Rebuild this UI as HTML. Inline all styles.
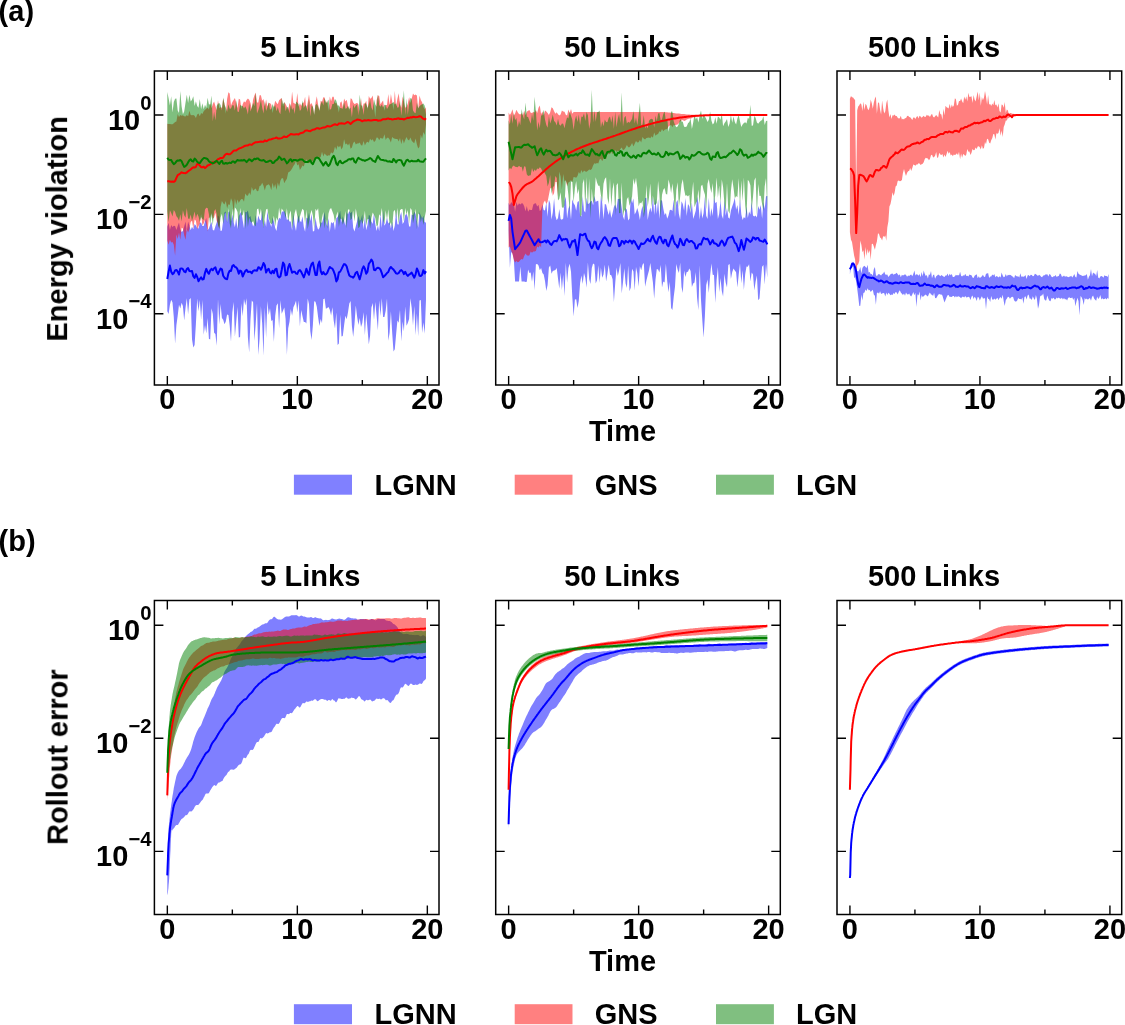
<!DOCTYPE html>
<html><head><meta charset="utf-8"><style>html,body{margin:0;padding:0;background:#fff;}svg{display:block;}</style></head><body>
<svg width="1125" height="1025" viewBox="0 0 1125 1025" font-family='"Liberation Sans", sans-serif' font-weight="bold" fill="#000">
<rect width="1125" height="1025" fill="#fff"/>
<defs><clipPath id="c00"><rect x="154.4" y="71.0" width="284.6" height="314.0"/></clipPath><clipPath id="c01"><rect x="495.7" y="71.0" width="284.6" height="314.0"/></clipPath><clipPath id="c02"><rect x="837.0" y="71.0" width="284.7" height="314.0"/></clipPath><clipPath id="c10"><rect x="154.4" y="600.5" width="284.6" height="314.0"/></clipPath><clipPath id="c11"><rect x="495.7" y="600.5" width="284.6" height="314.0"/></clipPath><clipPath id="c12"><rect x="837.0" y="600.5" width="284.7" height="314.0"/></clipPath></defs>
<g clip-path="url(#c00)"><polygon fill="#0000ff" fill-opacity="0.5" points="167.3,226.7 168.6,222.7 169.9,230.1 171.2,224.9 172.5,226.9 173.8,225.7 175.1,226.0 176.4,230.1 177.7,225.9 179.0,222.6 180.3,229.6 181.6,232.0 182.9,231.0 184.2,226.4 185.5,221.6 186.8,231.4 188.1,221.4 189.4,225.7 190.7,230.3 192.0,226.8 193.3,229.2 194.6,223.9 195.9,225.6 197.2,228.3 198.5,228.6 199.8,222.5 201.1,222.8 202.4,225.9 203.7,225.9 205.0,221.3 206.3,217.9 207.6,230.2 208.9,228.6 210.2,224.7 211.5,221.9 212.8,230.0 214.1,230.4 215.4,226.3 216.7,222.6 218.0,215.3 219.3,217.2 220.6,231.0 221.9,230.4 223.2,220.4 224.5,212.2 225.8,211.5 227.1,222.3 228.4,212.0 229.7,211.2 231.0,221.4 232.3,214.6 233.6,222.3 234.9,227.3 236.2,217.9 237.5,229.1 238.8,216.2 240.1,213.4 241.4,211.5 242.7,220.5 244.0,228.3 245.3,211.7 246.6,212.3 247.9,210.5 249.2,217.5 250.5,216.0 251.8,222.1 253.1,226.5 254.4,223.9 255.7,215.1 257.0,223.2 258.3,215.6 259.6,219.4 260.9,220.5 262.2,210.5 263.5,227.0 264.8,219.7 266.1,227.1 267.4,211.1 268.7,219.7 270.0,223.0 271.3,226.9 272.6,217.5 273.9,221.6 275.2,228.0 276.5,230.9 277.8,221.7 279.1,217.8 280.4,219.1 281.7,211.7 283.0,211.5 284.3,211.1 285.6,213.6 286.9,219.9 288.2,219.0 289.5,221.6 290.8,221.6 292.1,230.5 293.4,213.6 294.7,225.0 296.0,231.0 297.3,220.1 298.6,215.1 299.9,220.8 301.2,222.3 302.5,216.3 303.8,227.1 305.1,231.7 306.4,217.6 307.7,218.8 309.0,212.4 310.3,221.2 311.6,213.8 312.9,231.4 314.2,231.0 315.5,217.5 316.8,225.5 318.1,229.7 319.4,228.0 320.7,222.1 322.0,222.9 323.3,218.2 324.6,212.0 325.9,222.3 327.2,226.5 328.5,217.9 329.8,232.1 331.1,221.9 332.4,223.4 333.7,221.8 335.0,230.2 336.3,218.3 337.6,217.0 338.9,214.5 340.2,210.7 341.5,222.5 342.8,216.3 344.1,220.7 345.4,225.8 346.7,211.9 348.0,214.6 349.3,211.0 350.6,213.2 351.9,211.4 353.2,228.0 354.5,231.5 355.8,226.2 357.1,221.3 358.4,215.7 359.7,220.7 361.0,219.2 362.3,214.3 363.6,229.6 364.9,215.9 366.2,230.3 367.5,224.9 368.8,215.1 370.1,215.8 371.4,221.4 372.7,223.9 374.0,213.1 375.3,224.3 376.6,230.9 377.9,225.0 379.2,231.3 380.5,213.4 381.8,228.1 383.1,210.4 384.4,225.8 385.7,223.6 387.0,217.7 388.3,223.6 389.6,222.0 390.9,228.6 392.2,221.8 393.5,231.1 394.8,225.5 396.1,211.6 397.4,224.2 398.7,224.4 400.0,215.9 401.3,212.0 402.6,223.9 403.9,222.1 405.2,215.2 406.5,213.7 407.8,217.2 409.1,226.6 410.4,226.6 411.7,214.4 413.0,215.3 414.3,211.8 415.6,214.0 416.9,221.1 418.2,227.8 419.5,211.9 420.8,215.6 422.1,217.9 423.4,215.8 424.7,221.9 426.0,222.8 426.0,299.7 424.7,333.7 423.4,322.4 422.1,333.0 420.8,300.0 419.5,300.6 418.2,336.5 416.9,313.3 415.6,335.3 414.3,306.0 413.0,325.5 411.7,308.1 410.4,298.3 409.1,319.0 407.8,323.0 406.5,325.7 405.2,306.4 403.9,331.6 402.6,321.4 401.3,341.6 400.0,309.8 398.7,322.8 397.4,320.4 396.1,334.6 394.8,349.3 393.5,351.5 392.2,332.9 390.9,311.3 389.6,332.8 388.3,340.8 387.0,298.6 385.7,310.8 384.4,317.1 383.1,317.1 381.8,298.2 380.5,315.9 379.2,300.5 377.9,330.6 376.6,315.4 375.3,301.9 374.0,320.0 372.7,303.1 371.4,307.8 370.1,335.8 368.8,344.5 367.5,328.5 366.2,313.8 364.9,335.2 363.6,312.3 362.3,323.1 361.0,327.1 359.7,317.9 358.4,325.0 357.1,316.4 355.8,305.4 354.5,324.1 353.2,337.0 351.9,326.1 350.6,301.0 349.3,303.5 348.0,312.3 346.7,319.2 345.4,315.7 344.1,325.3 342.8,336.0 341.5,336.4 340.2,314.7 338.9,343.6 337.6,345.0 336.3,312.5 335.0,328.4 333.7,320.8 332.4,307.2 331.1,315.6 329.8,309.7 328.5,307.0 327.2,308.0 325.9,308.7 324.6,298.6 323.3,299.3 322.0,323.3 320.7,319.0 319.4,326.1 318.1,317.1 316.8,306.8 315.5,301.8 314.2,301.2 312.9,325.0 311.6,340.1 310.3,331.3 309.0,304.2 307.7,298.6 306.4,323.5 305.1,322.1 303.8,322.1 302.5,316.3 301.2,309.9 299.9,326.5 298.6,300.4 297.3,312.4 296.0,300.7 294.7,304.5 293.4,307.3 292.1,315.7 290.8,308.9 289.5,321.8 288.2,328.3 286.9,355.1 285.6,318.9 284.3,307.4 283.0,310.8 281.7,313.8 280.4,300.2 279.1,328.3 277.8,303.3 276.5,305.5 275.2,316.1 273.9,341.9 272.6,320.1 271.3,321.0 270.0,308.3 268.7,315.1 267.4,301.1 266.1,338.0 264.8,307.4 263.5,355.8 262.2,323.7 260.9,306.2 259.6,338.5 258.3,355.1 257.0,303.6 255.7,323.9 254.4,341.0 253.1,302.3 251.8,300.6 250.5,318.9 249.2,352.5 247.9,337.6 246.6,298.3 245.3,305.6 244.0,298.9 242.7,316.2 241.4,303.3 240.1,337.0 238.8,337.5 237.5,307.0 236.2,322.3 234.9,336.7 233.6,301.9 232.3,312.8 231.0,341.7 229.7,325.4 228.4,315.0 227.1,314.6 225.8,321.6 224.5,324.2 223.2,319.8 221.9,318.1 220.6,303.9 219.3,324.8 218.0,299.0 216.7,345.8 215.4,334.1 214.1,332.7 212.8,314.1 211.5,308.3 210.2,339.6 208.9,338.8 207.6,318.1 206.3,333.6 205.0,325.1 203.7,334.8 202.4,300.1 201.1,319.5 199.8,300.1 198.5,311.3 197.2,298.5 195.9,324.0 194.6,345.0 193.3,347.6 192.0,339.3 190.7,298.1 189.4,299.4 188.1,314.2 186.8,298.3 185.5,308.1 184.2,320.5 182.9,305.9 181.6,302.7 180.3,308.4 179.0,304.8 177.7,315.8 176.4,325.3 175.1,343.8 173.8,317.2 172.5,302.6 171.2,299.7 169.9,304.8 168.6,314.0 167.3,311.3"/><polygon fill="#ff0000" fill-opacity="0.5" points="167.3,123.8 168.6,124.0 169.9,123.9 171.2,124.2 172.5,124.2 173.8,123.3 175.1,121.9 176.4,121.4 177.7,113.9 179.0,117.1 180.3,115.1 181.6,115.8 182.9,115.3 184.2,116.3 185.5,116.4 186.8,114.9 188.1,116.2 189.4,110.8 190.7,115.0 192.0,115.3 193.3,115.1 194.6,115.8 195.9,117.9 197.2,114.5 198.5,113.6 199.8,116.3 201.1,113.1 202.4,114.0 203.7,111.3 205.0,109.8 206.3,108.7 207.6,107.5 208.9,109.6 210.2,103.8 211.5,108.3 212.8,104.0 214.1,101.6 215.4,106.0 216.7,110.2 218.0,100.2 219.3,108.2 220.6,107.0 221.9,108.1 223.2,98.4 224.5,103.4 225.8,113.8 227.1,98.9 228.4,92.3 229.7,93.6 231.0,105.4 232.3,102.2 233.6,100.0 234.9,98.1 236.2,102.4 237.5,108.0 238.8,98.8 240.1,99.5 241.4,109.1 242.7,104.3 244.0,101.2 245.3,102.5 246.6,99.9 247.9,98.5 249.2,99.8 250.5,103.1 251.8,109.2 253.1,99.4 254.4,95.5 255.7,92.6 257.0,102.6 258.3,102.6 259.6,95.3 260.9,95.3 262.2,100.7 263.5,98.9 264.8,106.2 266.1,99.5 267.4,106.5 268.7,103.1 270.0,103.0 271.3,104.7 272.6,112.9 273.9,106.5 275.2,100.7 276.5,102.7 277.8,104.3 279.1,100.2 280.4,98.9 281.7,98.1 283.0,106.4 284.3,102.2 285.6,104.0 286.9,106.7 288.2,109.8 289.5,102.8 290.8,106.7 292.1,91.6 293.4,102.8 294.7,103.4 296.0,104.3 297.3,93.0 298.6,107.0 299.9,103.1 301.2,106.1 302.5,102.9 303.8,102.4 305.1,96.8 306.4,109.3 307.7,102.3 309.0,94.2 310.3,104.8 311.6,103.1 312.9,106.6 314.2,115.2 315.5,102.7 316.8,96.3 318.1,104.5 319.4,111.4 320.7,100.8 322.0,101.8 323.3,97.2 324.6,97.6 325.9,103.5 327.2,100.2 328.5,111.1 329.8,96.6 331.1,101.2 332.4,96.7 333.7,96.8 335.0,103.5 336.3,102.8 337.6,106.4 338.9,112.4 340.2,102.7 341.5,101.3 342.8,107.5 344.1,98.5 345.4,101.6 346.7,99.8 348.0,105.9 349.3,110.8 350.6,98.2 351.9,99.0 353.2,102.6 354.5,104.1 355.8,103.4 357.1,102.7 358.4,104.5 359.7,112.0 361.0,98.1 362.3,109.4 363.6,103.6 364.9,103.5 366.2,100.7 367.5,110.0 368.8,95.9 370.1,98.7 371.4,98.1 372.7,95.6 374.0,105.9 375.3,117.5 376.6,100.2 377.9,95.3 379.2,96.1 380.5,104.5 381.8,102.3 383.1,100.4 384.4,110.8 385.7,105.1 387.0,105.0 388.3,93.9 389.6,105.0 390.9,94.0 392.2,101.7 393.5,110.1 394.8,90.7 396.1,106.6 397.4,98.7 398.7,93.2 400.0,104.4 401.3,107.8 402.6,96.5 403.9,101.4 405.2,107.8 406.5,107.0 407.8,103.6 409.1,96.9 410.4,103.1 411.7,98.4 413.0,93.4 414.3,95.3 415.6,94.5 416.9,95.5 418.2,109.6 419.5,95.5 420.8,100.0 422.1,102.2 423.4,107.0 424.7,109.5 426.0,107.1 426.0,124.3 424.7,135.0 423.4,131.9 422.1,138.8 420.8,134.7 419.5,146.8 418.2,148.5 416.9,144.5 415.6,138.5 414.3,143.2 413.0,142.2 411.7,140.8 410.4,137.5 409.1,140.4 407.8,139.8 406.5,136.9 405.2,140.0 403.9,143.4 402.6,139.1 401.3,144.3 400.0,138.1 398.7,141.6 397.4,138.9 396.1,138.9 394.8,138.8 393.5,138.2 392.2,136.9 390.9,142.4 389.6,139.6 388.3,137.7 387.0,137.7 385.7,140.1 384.4,134.2 383.1,138.5 381.8,138.4 380.5,137.8 379.2,140.3 377.9,137.8 376.6,137.4 375.3,141.1 374.0,141.9 372.7,139.3 371.4,140.6 370.1,138.7 368.8,142.7 367.5,141.7 366.2,142.8 364.9,145.5 363.6,141.0 362.3,145.4 361.0,145.2 359.7,142.6 358.4,143.5 357.1,143.4 355.8,144.6 354.5,141.4 353.2,143.1 351.9,147.4 350.6,148.8 349.3,143.3 348.0,145.6 346.7,143.6 345.4,144.4 344.1,139.3 342.8,147.0 341.5,149.6 340.2,145.4 338.9,147.5 337.6,145.5 336.3,149.9 335.0,146.5 333.7,152.0 332.4,153.4 331.1,152.3 329.8,155.6 328.5,155.3 327.2,156.1 325.9,155.1 324.6,153.5 323.3,156.5 322.0,151.7 320.7,157.1 319.4,158.0 318.1,156.3 316.8,158.1 315.5,158.8 314.2,158.8 312.9,162.1 311.6,160.4 310.3,162.7 309.0,163.0 307.7,163.2 306.4,159.2 305.1,162.0 303.8,166.6 302.5,165.6 301.2,167.9 299.9,169.9 298.6,164.2 297.3,165.4 296.0,160.7 294.7,164.2 293.4,166.1 292.1,168.5 290.8,170.6 289.5,171.7 288.2,172.4 286.9,178.7 285.6,180.8 284.3,183.3 283.0,178.2 281.7,178.3 280.4,180.7 279.1,186.7 277.8,182.5 276.5,189.9 275.2,183.9 273.9,188.2 272.6,182.8 271.3,190.3 270.0,185.9 268.7,184.2 267.4,185.0 266.1,185.8 264.8,190.4 263.5,185.7 262.2,182.8 260.9,185.6 259.6,185.9 258.3,191.0 257.0,191.2 255.7,188.5 254.4,189.4 253.1,190.8 251.8,186.9 250.5,195.1 249.2,192.5 247.9,195.7 246.6,195.5 245.3,193.6 244.0,201.7 242.7,199.3 241.4,199.1 240.1,200.5 238.8,203.0 237.5,199.6 236.2,204.9 234.9,198.4 233.6,212.0 232.3,201.5 231.0,198.3 229.7,204.9 228.4,204.2 227.1,208.6 225.8,201.1 224.5,204.4 223.2,203.2 221.9,201.1 220.6,206.9 219.3,228.7 218.0,223.3 216.7,220.7 215.4,212.8 214.1,217.6 212.8,218.8 211.5,213.0 210.2,217.5 208.9,217.7 207.6,231.6 206.3,224.2 205.0,219.8 203.7,223.6 202.4,225.6 201.1,214.0 199.8,223.8 198.5,226.2 197.2,229.4 195.9,220.7 194.6,219.5 193.3,228.7 192.0,220.7 190.7,222.0 189.4,229.1 188.1,232.4 186.8,229.2 185.5,239.8 184.2,235.2 182.9,228.6 181.6,227.7 180.3,239.7 179.0,232.8 177.7,238.9 176.4,234.4 175.1,255.7 173.8,244.8 172.5,241.9 171.2,242.5 169.9,239.7 168.6,244.8 167.3,240.4"/><polygon fill="#008000" fill-opacity="0.5" points="167.3,92.1 168.6,98.2 169.9,105.4 171.2,96.3 172.5,112.4 173.8,102.1 175.1,98.8 176.4,98.6 177.7,110.6 179.0,113.0 180.3,91.1 181.6,106.3 182.9,114.2 184.2,111.4 185.5,102.8 186.8,94.7 188.1,103.0 189.4,94.7 190.7,101.5 192.0,99.8 193.3,96.3 194.6,105.9 195.9,101.2 197.2,106.0 198.5,107.8 199.8,98.9 201.1,109.2 202.4,103.3 203.7,109.2 205.0,104.8 206.3,107.7 207.6,97.8 208.9,104.3 210.2,104.5 211.5,95.6 212.8,121.6 214.1,111.6 215.4,120.4 216.7,105.9 218.0,103.8 219.3,103.1 220.6,104.9 221.9,110.6 223.2,97.6 224.5,104.8 225.8,107.6 227.1,111.9 228.4,104.3 229.7,108.8 231.0,108.6 232.3,105.3 233.6,105.3 234.9,110.5 236.2,100.2 237.5,111.4 238.8,111.9 240.1,104.9 241.4,105.8 242.7,106.1 244.0,108.5 245.3,106.2 246.6,109.2 247.9,114.6 249.2,102.8 250.5,111.5 251.8,107.6 253.1,102.8 254.4,106.3 255.7,92.8 257.0,113.4 258.3,110.2 259.6,106.0 260.9,99.7 262.2,107.7 263.5,113.6 264.8,100.8 266.1,111.1 267.4,107.5 268.7,102.1 270.0,109.8 271.3,108.7 272.6,104.1 273.9,107.5 275.2,105.1 276.5,111.2 277.8,107.1 279.1,111.9 280.4,114.2 281.7,97.8 283.0,104.3 284.3,102.0 285.6,111.3 286.9,106.7 288.2,107.5 289.5,113.6 290.8,103.8 292.1,110.1 293.4,107.5 294.7,114.1 296.0,101.6 297.3,102.8 298.6,104.6 299.9,111.0 301.2,109.2 302.5,100.5 303.8,107.9 305.1,105.2 306.4,105.8 307.7,112.1 309.0,99.0 310.3,116.4 311.6,105.4 312.9,107.0 314.2,114.6 315.5,104.9 316.8,103.9 318.1,106.3 319.4,110.6 320.7,104.3 322.0,101.0 323.3,105.4 324.6,98.0 325.9,102.3 327.2,102.7 328.5,99.6 329.8,109.8 331.1,109.1 332.4,104.0 333.7,103.9 335.0,99.0 336.3,100.8 337.6,105.6 338.9,105.4 340.2,107.9 341.5,108.3 342.8,108.7 344.1,102.0 345.4,108.8 346.7,108.3 348.0,105.7 349.3,109.0 350.6,107.6 351.9,117.3 353.2,104.6 354.5,108.0 355.8,105.5 357.1,104.6 358.4,115.6 359.7,94.4 361.0,105.5 362.3,105.4 363.6,115.1 364.9,103.1 366.2,104.1 367.5,107.9 368.8,104.8 370.1,99.6 371.4,107.6 372.7,110.4 374.0,99.3 375.3,104.6 376.6,106.7 377.9,94.4 379.2,105.0 380.5,106.7 381.8,104.5 383.1,107.8 384.4,104.8 385.7,105.1 387.0,109.1 388.3,107.1 389.6,104.3 390.9,104.0 392.2,103.0 393.5,102.0 394.8,104.6 396.1,103.3 397.4,107.8 398.7,107.2 400.0,100.8 401.3,115.7 402.6,104.1 403.9,90.2 405.2,115.2 406.5,98.5 407.8,114.7 409.1,104.2 410.4,98.0 411.7,98.7 413.0,110.6 414.3,112.6 415.6,113.3 416.9,102.6 418.2,108.2 419.5,106.2 420.8,105.0 422.1,104.2 423.4,103.6 424.7,105.7 426.0,114.3 426.0,211.0 424.7,217.4 423.4,225.0 422.1,216.3 420.8,222.6 419.5,214.7 418.2,213.6 416.9,229.5 415.6,208.8 414.3,216.9 413.0,223.4 411.7,210.1 410.4,207.9 409.1,223.6 407.8,209.9 406.5,214.7 405.2,207.9 403.9,221.6 402.6,209.3 401.3,209.1 400.0,210.3 398.7,224.7 397.4,208.0 396.1,218.2 394.8,209.7 393.5,211.8 392.2,227.9 390.9,222.3 389.6,225.2 388.3,209.2 387.0,219.9 385.7,210.2 384.4,224.2 383.1,219.9 381.8,207.9 380.5,216.3 379.2,214.2 377.9,225.3 376.6,226.2 375.3,217.9 374.0,214.7 372.7,212.6 371.4,217.9 370.1,228.5 368.8,218.8 367.5,219.2 366.2,225.8 364.9,210.8 363.6,220.6 362.3,224.0 361.0,219.0 359.7,226.8 358.4,228.3 357.1,215.9 355.8,208.6 354.5,221.6 353.2,210.7 351.9,218.5 350.6,220.2 349.3,209.5 348.0,209.5 346.7,228.4 345.4,211.0 344.1,220.8 342.8,224.7 341.5,219.0 340.2,218.4 338.9,227.0 337.6,211.5 336.3,215.8 335.0,223.2 333.7,215.0 332.4,211.5 331.1,208.1 329.8,209.3 328.5,213.6 327.2,228.7 325.9,218.6 324.6,228.8 323.3,212.1 322.0,217.9 320.7,228.4 319.4,222.1 318.1,208.2 316.8,211.0 315.5,208.8 314.2,228.4 312.9,215.7 311.6,210.0 310.3,214.3 309.0,222.3 307.7,229.3 306.4,209.5 305.1,223.9 303.8,210.6 302.5,208.8 301.2,212.3 299.9,216.8 298.6,223.4 297.3,216.3 296.0,208.9 294.7,212.9 293.4,220.5 292.1,228.5 290.8,210.5 289.5,214.1 288.2,221.8 286.9,208.2 285.6,218.3 284.3,212.1 283.0,210.4 281.7,208.4 280.4,216.3 279.1,207.5 277.8,221.1 276.5,217.5 275.2,226.3 273.9,215.7 272.6,223.0 271.3,224.3 270.0,222.6 268.7,217.3 267.4,208.8 266.1,209.6 264.8,216.9 263.5,228.1 262.2,218.7 260.9,208.7 259.6,215.4 258.3,208.4 257.0,209.2 255.7,226.4 254.4,224.4 253.1,220.9 251.8,222.7 250.5,221.8 249.2,217.6 247.9,227.0 246.6,210.9 245.3,229.2 244.0,209.8 242.7,215.2 241.4,215.5 240.1,207.9 238.8,229.8 237.5,212.0 236.2,208.9 234.9,207.6 233.6,223.7 232.3,208.6 231.0,228.5 229.7,223.5 228.4,208.3 227.1,223.0 225.8,212.2 224.5,214.8 223.2,223.8 221.9,213.8 220.6,217.4 219.3,228.9 218.0,225.0 216.7,214.1 215.4,209.1 214.1,211.6 212.8,225.4 211.5,214.2 210.2,225.5 208.9,214.2 207.6,208.1 206.3,207.7 205.0,209.5 203.7,220.0 202.4,218.9 201.1,217.1 199.8,222.1 198.5,216.5 197.2,213.8 195.9,218.7 194.6,211.5 193.3,216.8 192.0,220.9 190.7,214.5 189.4,218.9 188.1,218.4 186.8,208.0 185.5,217.8 184.2,215.3 182.9,210.3 181.6,221.6 180.3,214.3 179.0,220.8 177.7,217.7 176.4,216.2 175.1,212.1 173.8,210.0 172.5,216.5 171.2,213.1 169.9,210.2 168.6,222.3 167.3,211.2"/><polyline fill="none" stroke="#0000ff" stroke-width="2" stroke-linejoin="round" points="167.3,279.0 168.6,271.6 169.9,265.6 171.2,271.7 172.5,274.1 173.8,273.1 175.1,270.4 176.4,269.9 177.7,271.7 179.0,274.5 180.3,268.8 181.6,268.4 182.9,269.2 184.2,271.5 185.5,272.2 186.8,269.1 188.1,268.1 189.4,271.0 190.7,271.3 192.0,271.0 193.3,276.2 194.6,278.0 195.9,274.3 197.2,277.0 198.5,281.2 199.8,279.0 201.1,277.3 202.4,279.5 203.7,279.0 205.0,272.7 206.3,268.9 207.6,272.1 208.9,273.8 210.2,270.3 211.5,268.8 212.8,270.3 214.1,268.2 215.4,267.3 216.7,271.8 218.0,274.1 219.3,271.1 220.6,268.5 221.9,269.3 223.2,275.7 224.5,277.7 225.8,278.9 227.1,279.2 228.4,273.4 229.7,270.7 231.0,270.9 232.3,266.1 233.6,265.1 234.9,266.8 236.2,267.4 237.5,269.4 238.8,273.7 240.1,270.6 241.4,271.4 242.7,276.5 244.0,273.5 245.3,270.9 246.6,269.8 247.9,271.9 249.2,271.8 250.5,271.8 251.8,273.2 253.1,270.9 254.4,270.3 255.7,270.5 257.0,270.7 258.3,267.3 259.6,267.7 260.9,269.7 262.2,267.0 263.5,263.0 264.8,265.2 266.1,272.6 267.4,269.9 268.7,268.9 270.0,272.5 271.3,273.4 272.6,270.7 273.9,273.1 275.2,269.4 276.5,268.7 277.8,275.9 279.1,277.4 280.4,276.5 281.7,270.0 283.0,262.6 284.3,264.5 285.6,275.3 286.9,274.9 288.2,267.4 289.5,264.0 290.8,268.4 292.1,272.8 293.4,271.7 294.7,271.7 296.0,273.5 297.3,273.9 298.6,270.9 299.9,270.1 301.2,271.9 302.5,274.7 303.8,277.4 305.1,273.6 306.4,268.7 307.7,272.5 309.0,274.7 310.3,267.8 311.6,264.0 312.9,262.6 314.2,268.7 315.5,275.1 316.8,275.0 318.1,264.9 319.4,261.5 320.7,271.0 322.0,274.1 323.3,272.0 324.6,274.3 325.9,274.4 327.2,272.9 328.5,269.6 329.8,267.0 331.1,268.1 332.4,268.6 333.7,271.3 335.0,274.8 336.3,281.4 337.6,279.3 338.9,272.3 340.2,271.6 341.5,269.1 342.8,266.3 344.1,264.1 345.4,264.5 346.7,266.5 348.0,271.4 349.3,275.5 350.6,276.5 351.9,276.7 353.2,277.7 354.5,275.7 355.8,272.7 357.1,271.8 358.4,275.7 359.7,279.3 361.0,274.6 362.3,269.2 363.6,266.3 364.9,268.7 366.2,273.7 367.5,271.7 368.8,263.8 370.1,262.0 371.4,259.6 372.7,261.7 374.0,269.9 375.3,270.3 376.6,268.3 377.9,267.7 379.2,268.1 380.5,269.7 381.8,273.1 383.1,277.2 384.4,276.0 385.7,274.7 387.0,273.1 388.3,272.0 389.6,268.6 390.9,267.0 392.2,268.4 393.5,269.6 394.8,271.4 396.1,273.4 397.4,273.7 398.7,273.1 400.0,270.9 401.3,270.1 402.6,271.4 403.9,274.1 405.2,271.8 406.5,274.4 407.8,275.9 409.1,274.6 410.4,273.7 411.7,272.6 413.0,275.2 414.3,277.7 415.6,274.4 416.9,268.4 418.2,271.3 419.5,275.8 420.8,275.9 422.1,274.7 423.4,270.1 424.7,273.5 426.0,271.2"/><polyline fill="none" stroke="#ff0000" stroke-width="2" stroke-linejoin="round" points="167.3,181.3 168.6,181.3 169.9,181.5 171.2,181.8 172.5,181.5 173.8,181.9 175.1,181.0 176.4,177.9 177.7,175.2 179.0,174.4 180.3,173.5 181.6,172.3 182.9,172.9 184.2,173.1 185.5,173.2 186.8,172.5 188.1,171.3 189.4,170.4 190.7,169.5 192.0,168.1 193.3,167.3 194.6,167.5 195.9,166.8 197.2,163.9 198.5,164.0 199.8,165.6 201.1,167.2 202.4,167.3 203.7,166.8 205.0,168.0 206.3,166.9 207.6,165.5 208.9,165.0 210.2,164.3 211.5,163.5 212.8,162.2 214.1,162.8 215.4,162.5 216.7,160.6 218.0,159.1 219.3,158.7 220.6,158.0 221.9,158.1 223.2,157.6 224.5,155.5 225.8,154.1 227.1,153.8 228.4,154.3 229.7,154.3 231.0,153.5 232.3,152.1 233.6,150.8 234.9,150.4 236.2,150.5 237.5,149.5 238.8,148.7 240.1,148.1 241.4,147.7 242.7,147.1 244.0,146.3 245.3,145.8 246.6,145.6 247.9,145.4 249.2,144.6 250.5,144.6 251.8,144.9 253.1,143.6 254.4,142.9 255.7,142.2 257.0,142.3 258.3,142.1 259.6,141.7 260.9,141.6 262.2,141.8 263.5,141.8 264.8,140.4 266.1,141.2 267.4,140.7 268.7,139.8 270.0,139.5 271.3,139.2 272.6,138.7 273.9,138.4 275.2,138.1 276.5,137.4 277.8,138.6 279.1,138.5 280.4,138.4 281.7,138.1 283.0,137.2 284.3,136.5 285.6,137.1 286.9,136.9 288.2,135.8 289.5,135.0 290.8,134.1 292.1,134.2 293.4,134.6 294.7,134.6 296.0,134.2 297.3,134.2 298.6,134.4 299.9,133.5 301.2,133.0 302.5,132.8 303.8,132.1 305.1,130.8 306.4,130.6 307.7,130.6 309.0,131.1 310.3,131.2 311.6,130.4 312.9,129.7 314.2,129.6 315.5,129.0 316.8,128.2 318.1,128.2 319.4,128.7 320.7,128.4 322.0,127.9 323.3,127.5 324.6,127.6 325.9,126.9 327.2,126.1 328.5,126.2 329.8,126.5 331.1,126.1 332.4,125.3 333.7,124.7 335.0,124.3 336.3,124.8 337.6,124.9 338.9,123.5 340.2,123.4 341.5,123.3 342.8,123.4 344.1,123.8 345.4,123.4 346.7,122.5 348.0,122.0 349.3,122.8 350.6,124.0 351.9,122.8 353.2,121.5 354.5,120.8 355.8,120.4 357.1,119.6 358.4,119.7 359.7,119.9 361.0,120.5 362.3,121.3 363.6,120.5 364.9,120.3 366.2,120.6 367.5,120.2 368.8,120.1 370.1,120.5 371.4,120.4 372.7,120.2 374.0,120.0 375.3,120.0 376.6,119.9 377.9,120.7 379.2,120.5 380.5,120.6 381.8,119.9 383.1,119.2 384.4,119.2 385.7,119.2 387.0,118.8 388.3,118.4 389.6,119.1 390.9,118.9 392.2,119.6 393.5,119.3 394.8,118.9 396.1,119.0 397.4,118.5 398.7,118.3 400.0,119.0 401.3,118.8 402.6,119.0 403.9,119.5 405.2,118.9 406.5,118.4 407.8,117.7 409.1,117.9 410.4,117.3 411.7,117.5 413.0,116.8 414.3,117.0 415.6,117.2 416.9,117.0 418.2,116.7 419.5,116.3 420.8,116.4 422.1,117.7 423.4,118.9 424.7,119.4 426.0,118.3"/><polyline fill="none" stroke="#008000" stroke-width="2" stroke-linejoin="round" points="167.3,157.7 168.6,159.7 169.9,159.9 171.2,160.1 172.5,162.4 173.8,164.2 175.1,163.3 176.4,161.4 177.7,160.4 179.0,160.7 180.3,160.0 181.6,161.2 182.9,164.3 184.2,166.9 185.5,166.1 186.8,164.7 188.1,162.4 189.4,160.3 190.7,159.3 192.0,161.1 193.3,161.5 194.6,158.6 195.9,159.7 197.2,161.7 198.5,162.8 199.8,163.1 201.1,161.1 202.4,159.4 203.7,158.1 205.0,158.1 206.3,158.5 207.6,159.2 208.9,161.2 210.2,162.3 211.5,162.6 212.8,163.4 214.1,162.6 215.4,161.6 216.7,160.8 218.0,162.3 219.3,164.0 220.6,161.8 221.9,160.7 223.2,163.6 224.5,163.7 225.8,162.9 227.1,163.7 228.4,163.1 229.7,162.6 231.0,163.1 232.3,161.6 233.6,161.5 234.9,162.8 236.2,161.4 237.5,160.0 238.8,160.6 240.1,160.4 241.4,160.2 242.7,160.6 244.0,159.8 245.3,160.8 246.6,162.1 247.9,160.6 249.2,159.3 250.5,160.0 251.8,161.3 253.1,160.1 254.4,158.8 255.7,159.2 257.0,158.5 258.3,158.6 259.6,160.0 260.9,160.4 262.2,160.6 263.5,160.0 264.8,161.1 266.1,162.1 267.4,161.7 268.7,161.2 270.0,160.6 271.3,161.2 272.6,163.1 273.9,162.7 275.2,160.9 276.5,160.2 277.8,159.0 279.1,156.6 280.4,157.9 281.7,159.9 283.0,159.3 284.3,158.7 285.6,160.9 286.9,163.4 288.2,162.1 289.5,159.9 290.8,159.2 292.1,161.5 293.4,160.1 294.7,159.9 296.0,160.1 297.3,160.8 298.6,160.3 299.9,159.4 301.2,159.6 302.5,159.6 303.8,160.9 305.1,162.0 306.4,162.1 307.7,162.1 309.0,160.9 310.3,160.2 311.6,163.1 312.9,164.2 314.2,161.2 315.5,158.1 316.8,157.6 318.1,157.7 319.4,158.9 320.7,161.4 322.0,163.2 323.3,165.4 324.6,163.5 325.9,162.0 327.2,164.5 328.5,166.0 329.8,164.3 331.1,160.9 332.4,157.6 333.7,155.8 335.0,158.4 336.3,163.7 337.6,165.2 338.9,161.9 340.2,160.7 341.5,163.1 342.8,163.2 344.1,162.2 345.4,161.5 346.7,160.9 348.0,159.7 349.3,159.1 350.6,159.6 351.9,158.6 353.2,158.4 354.5,161.8 355.8,162.7 357.1,159.8 358.4,157.9 359.7,158.8 361.0,159.4 362.3,160.2 363.6,160.2 364.9,160.9 366.2,160.1 367.5,159.7 368.8,159.1 370.1,158.0 371.4,158.8 372.7,160.6 374.0,161.1 375.3,162.0 376.6,158.7 377.9,156.0 379.2,157.9 380.5,159.6 381.8,159.9 383.1,159.9 384.4,160.6 385.7,160.4 387.0,161.2 388.3,161.6 389.6,161.2 390.9,161.9 392.2,162.0 393.5,159.0 394.8,160.5 396.1,162.4 397.4,160.4 398.7,160.1 400.0,160.1 401.3,160.5 402.6,163.6 403.9,165.7 405.2,162.8 406.5,160.1 407.8,159.8 409.1,161.4 410.4,161.4 411.7,160.7 413.0,161.2 414.3,161.3 415.6,161.2 416.9,161.2 418.2,159.8 419.5,161.2 420.8,161.6 422.1,161.8 423.4,161.7 424.7,159.8 426.0,158.3"/></g>
<g clip-path="url(#c01)"><polygon fill="#0000ff" fill-opacity="0.5" points="508.6,203.1 509.9,205.2 511.2,201.9 512.5,203.8 513.8,203.3 515.1,211.8 516.4,202.0 517.7,205.8 519.0,203.2 520.3,204.4 521.6,203.3 522.9,203.4 524.2,206.3 525.5,211.2 526.8,205.9 528.1,211.8 529.4,209.4 530.7,210.0 532.0,209.9 533.3,204.4 534.6,203.5 535.9,203.2 537.2,206.6 538.5,204.8 539.8,211.2 541.1,209.4 542.4,204.6 543.7,209.9 545.0,210.4 546.3,202.2 547.6,216.8 548.9,199.7 550.2,203.6 551.5,219.5 552.8,212.2 554.1,198.2 555.4,215.8 556.7,220.3 558.0,217.9 559.3,209.1 560.6,219.1 561.9,219.8 563.2,218.5 564.5,201.0 565.8,196.5 567.1,218.5 568.4,208.7 569.7,205.3 571.0,219.6 572.3,199.3 573.6,203.3 574.9,205.3 576.2,210.8 577.5,202.1 578.8,201.0 580.1,215.5 581.4,216.5 582.7,196.0 584.0,210.7 585.3,212.5 586.6,197.6 587.9,204.1 589.2,203.4 590.5,201.6 591.8,200.7 593.1,205.2 594.4,195.7 595.7,202.0 597.0,200.9 598.3,200.8 599.6,219.9 600.9,195.8 602.2,202.8 603.5,219.4 604.8,204.1 606.1,204.5 607.4,210.3 608.7,215.1 610.0,209.2 611.3,218.0 612.6,213.0 613.9,206.9 615.2,204.3 616.5,209.1 617.8,199.0 619.1,198.9 620.4,198.4 621.7,207.8 623.0,216.3 624.3,219.9 625.6,208.1 626.9,209.8 628.2,220.4 629.5,218.4 630.8,196.6 632.1,203.2 633.4,198.5 634.7,214.6 636.0,212.0 637.3,208.0 638.6,212.8 639.9,220.1 641.2,211.1 642.5,205.7 643.8,213.8 645.1,197.9 646.4,197.7 647.7,220.1 649.0,212.4 650.3,207.5 651.6,212.6 652.9,196.2 654.2,215.1 655.5,198.8 656.8,214.1 658.1,199.1 659.4,219.1 660.7,200.2 662.0,200.5 663.3,208.6 664.6,215.1 665.9,213.1 667.2,218.7 668.5,215.6 669.8,209.9 671.1,209.7 672.4,211.0 673.7,199.5 675.0,217.0 676.3,202.3 677.6,199.9 678.9,213.9 680.2,219.8 681.5,201.2 682.8,203.9 684.1,210.7 685.4,197.9 686.7,216.1 688.0,204.0 689.3,206.2 690.6,213.1 691.9,202.4 693.2,219.0 694.5,215.0 695.8,210.4 697.1,196.6 698.4,202.9 699.7,219.8 701.0,206.9 702.3,218.5 703.6,213.0 704.9,196.7 706.2,215.7 707.5,219.1 708.8,197.8 710.1,217.0 711.4,207.9 712.7,216.0 714.0,197.3 715.3,203.2 716.6,201.8 717.9,219.1 719.2,213.7 720.5,200.1 721.8,215.3 723.1,219.0 724.4,200.1 725.7,215.8 727.0,207.8 728.3,217.5 729.6,218.8 730.9,210.5 732.2,206.5 733.5,202.7 734.8,197.7 736.1,209.7 737.4,205.1 738.7,214.9 740.0,198.9 741.3,214.2 742.6,220.0 743.9,217.1 745.2,218.4 746.5,206.5 747.8,218.1 749.1,211.4 750.4,214.5 751.7,201.9 753.0,215.4 754.3,216.5 755.6,215.4 756.9,217.5 758.2,206.0 759.5,209.7 760.8,204.9 762.1,218.8 763.4,201.7 764.7,209.1 766.0,196.3 767.3,195.9 767.3,277.7 766.0,264.1 764.7,284.7 763.4,265.1 762.1,266.8 760.8,281.5 759.5,298.4 758.2,300.2 756.9,275.5 755.6,281.8 754.3,290.6 753.0,274.5 751.7,272.4 750.4,281.4 749.1,264.3 747.8,266.7 746.5,266.4 745.2,274.2 743.9,290.0 742.6,269.9 741.3,283.6 740.0,263.3 738.7,274.7 737.4,287.4 736.1,272.3 734.8,270.4 733.5,268.5 732.2,272.2 730.9,279.0 729.6,264.1 728.3,264.9 727.0,287.4 725.7,282.4 724.4,273.8 723.1,296.6 721.8,290.9 720.5,278.1 719.2,292.3 717.9,267.3 716.6,280.0 715.3,303.0 714.0,274.9 712.7,274.8 711.4,263.6 710.1,276.1 708.8,293.0 707.5,279.4 706.2,285.2 704.9,315.8 703.6,337.7 702.3,319.9 701.0,300.1 699.7,265.3 698.4,310.3 697.1,298.1 695.8,272.2 694.5,282.6 693.2,283.5 691.9,286.9 690.6,271.0 689.3,268.6 688.0,271.7 686.7,271.9 685.4,277.0 684.1,270.6 682.8,292.9 681.5,287.1 680.2,262.7 678.9,272.9 677.6,269.6 676.3,264.0 675.0,286.8 673.7,297.1 672.4,309.9 671.1,308.0 669.8,281.7 668.5,292.2 667.2,280.9 665.9,263.8 664.6,282.4 663.3,281.6 662.0,287.6 660.7,265.0 659.4,272.4 658.1,269.5 656.8,269.0 655.5,279.6 654.2,298.8 652.9,282.3 651.6,272.5 650.3,263.0 649.0,270.5 647.7,275.2 646.4,280.6 645.1,286.7 643.8,263.0 642.5,264.7 641.2,270.2 639.9,266.2 638.6,286.7 637.3,273.2 636.0,267.1 634.7,290.7 633.4,271.6 632.1,268.8 630.8,287.5 629.5,291.3 628.2,265.4 626.9,288.0 625.6,283.5 624.3,268.2 623.0,282.3 621.7,293.6 620.4,263.1 619.1,270.5 617.8,276.0 616.5,267.6 615.2,283.7 613.9,302.2 612.6,279.2 611.3,275.2 610.0,274.8 608.7,264.8 607.4,274.1 606.1,281.5 604.8,264.7 603.5,274.5 602.2,277.7 600.9,267.4 599.6,282.7 598.3,265.2 597.0,280.3 595.7,283.5 594.4,264.6 593.1,263.5 591.8,267.9 590.5,284.0 589.2,279.2 587.9,262.6 586.6,287.8 585.3,277.7 584.0,272.9 582.7,283.9 581.4,275.5 580.1,282.9 578.8,300.7 577.5,308.1 576.2,299.3 574.9,299.4 573.6,316.4 572.3,296.9 571.0,271.7 569.7,263.8 568.4,268.0 567.1,282.7 565.8,262.7 564.5,296.0 563.2,274.8 561.9,290.0 560.6,272.5 559.3,288.8 558.0,278.5 556.7,268.0 555.4,270.1 554.1,270.5 552.8,270.9 551.5,273.8 550.2,265.6 548.9,267.4 547.6,285.1 546.3,290.9 545.0,281.0 543.7,274.4 542.4,273.0 541.1,268.0 539.8,270.2 538.5,265.6 537.2,264.1 535.9,264.2 534.6,290.2 533.3,271.6 532.0,281.8 530.7,272.6 529.4,273.1 528.1,269.4 526.8,281.7 525.5,282.1 524.2,281.5 522.9,281.5 521.6,281.5 520.3,266.8 519.0,281.5 517.7,281.5 516.4,281.5 515.1,281.5 513.8,259.3 512.5,253.4 511.2,252.1 509.9,267.8 508.6,230.3"/><polygon fill="#ff0000" fill-opacity="0.5" points="508.6,112.5 509.9,115.0 511.2,112.7 512.5,109.3 513.8,115.6 515.1,113.5 516.4,109.7 517.7,112.2 519.0,113.9 520.3,114.4 521.6,113.2 522.9,115.2 524.2,110.7 525.5,115.3 526.8,111.7 528.1,110.8 529.4,110.0 530.7,112.7 532.0,112.9 533.3,112.0 534.6,112.6 535.9,110.0 537.2,113.0 538.5,107.8 539.8,105.6 541.1,114.2 542.4,111.5 543.7,115.4 545.0,110.6 546.3,111.4 547.6,113.0 548.9,115.0 550.2,112.3 551.5,107.3 552.8,108.3 554.1,111.3 555.4,113.8 556.7,112.3 558.0,114.2 559.3,115.6 560.6,114.6 561.9,110.6 563.2,111.4 564.5,111.7 565.8,114.8 567.1,115.6 568.4,109.5 569.7,112.9 571.0,109.0 572.3,113.8 573.6,112.0 574.9,112.0 576.2,112.0 577.5,112.0 578.8,112.0 580.1,112.0 581.4,112.0 582.7,112.0 584.0,112.0 585.3,112.0 586.6,112.0 587.9,112.0 589.2,112.0 590.5,112.0 591.8,112.0 593.1,112.0 594.4,112.0 595.7,112.0 597.0,112.0 598.3,112.0 599.6,112.0 600.9,112.0 602.2,112.0 603.5,112.0 604.8,112.0 606.1,112.0 607.4,112.0 608.7,112.0 610.0,112.0 611.3,112.0 612.6,112.0 613.9,112.0 615.2,112.0 616.5,112.0 617.8,112.0 619.1,112.0 620.4,112.0 621.7,112.0 623.0,112.0 624.3,112.0 625.6,112.0 626.9,112.0 628.2,112.0 629.5,112.0 630.8,112.0 632.1,112.0 633.4,112.0 634.7,112.0 636.0,112.0 637.3,112.0 638.6,112.0 639.9,112.0 641.2,112.0 642.5,112.0 643.8,112.0 645.1,112.0 646.4,112.0 647.7,112.0 649.0,112.0 650.3,112.0 651.6,112.0 652.9,112.0 654.2,112.0 655.5,112.0 656.8,112.0 658.1,112.0 659.4,112.0 660.7,112.0 662.0,112.0 663.3,112.0 664.6,112.0 665.9,112.2 667.2,112.3 668.5,112.5 669.8,112.6 671.1,112.8 672.4,112.9 673.7,113.1 675.0,113.2 676.3,113.4 677.6,113.5 678.9,113.6 680.2,113.8 681.5,113.9 682.8,114.0 684.1,114.1 685.4,114.3 686.7,114.4 688.0,114.5 689.3,114.6 690.6,114.8 691.9,114.8 693.2,114.8 694.5,114.8 695.8,114.9 697.1,114.9 698.4,114.9 699.7,114.9 701.0,115.0 702.3,115.0 703.6,115.0 704.9,115.0 706.2,115.0 707.5,115.0 708.8,115.0 710.1,115.0 711.4,115.0 712.7,115.0 714.0,115.0 715.3,115.0 716.6,115.0 717.9,115.0 719.2,115.0 720.5,115.0 721.8,115.0 723.1,115.0 724.4,115.0 725.7,115.0 727.0,115.0 728.3,115.0 729.6,115.0 730.9,115.0 732.2,115.0 733.5,115.0 734.8,115.0 736.1,115.0 737.4,115.0 738.7,115.0 740.0,115.0 741.3,115.0 742.6,115.0 743.9,115.0 745.2,115.0 746.5,115.0 747.8,115.0 749.1,115.0 750.4,115.0 751.7,115.0 753.0,115.0 754.3,115.0 755.6,115.0 756.9,115.0 758.2,115.0 759.5,115.0 760.8,115.0 762.1,115.0 763.4,115.0 764.7,115.0 766.0,115.0 767.3,115.0 767.3,115.0 766.0,115.0 764.7,115.0 763.4,115.0 762.1,115.0 760.8,115.0 759.5,115.0 758.2,115.0 756.9,115.0 755.6,115.0 754.3,115.0 753.0,115.0 751.7,115.0 750.4,115.0 749.1,115.0 747.8,115.0 746.5,115.0 745.2,115.0 743.9,115.0 742.6,115.0 741.3,115.0 740.0,115.0 738.7,115.0 737.4,115.0 736.1,115.0 734.8,115.0 733.5,115.0 732.2,115.0 730.9,115.0 729.6,115.0 728.3,115.0 727.0,115.0 725.7,115.0 724.4,115.0 723.1,115.0 721.8,115.0 720.5,115.0 719.2,115.0 717.9,115.0 716.6,115.0 715.3,115.0 714.0,115.0 712.7,115.0 711.4,115.0 710.1,115.0 708.8,115.0 707.5,115.0 706.2,115.0 704.9,115.0 703.6,115.0 702.3,115.3 701.0,115.6 699.7,116.0 698.4,116.3 697.1,116.6 695.8,116.9 694.5,117.2 693.2,117.5 691.9,118.0 690.6,118.8 689.3,118.6 688.0,119.1 686.7,119.5 685.4,120.5 684.1,121.1 682.8,119.9 681.5,120.5 680.2,121.5 678.9,123.3 677.6,124.6 676.3,124.7 675.0,125.5 673.7,124.7 672.4,127.3 671.1,124.9 669.8,125.6 668.5,126.4 667.2,129.0 665.9,129.3 664.6,129.7 663.3,131.2 662.0,129.0 660.7,132.0 659.4,131.2 658.1,134.1 656.8,134.6 655.5,135.7 654.2,132.6 652.9,137.8 651.6,136.2 650.3,138.3 649.0,137.5 647.7,137.7 646.4,138.1 645.1,139.4 643.8,138.7 642.5,136.9 641.2,142.4 639.9,139.9 638.6,142.2 637.3,142.4 636.0,141.0 634.7,143.8 633.4,146.4 632.1,143.0 630.8,145.5 629.5,147.2 628.2,147.3 626.9,145.0 625.6,147.8 624.3,149.4 623.0,150.2 621.7,147.6 620.4,148.9 619.1,151.8 617.8,150.5 616.5,151.9 615.2,150.0 613.9,152.2 612.6,153.9 611.3,151.8 610.0,154.2 608.7,153.7 607.4,153.9 606.1,159.3 604.8,158.4 603.5,158.6 602.2,161.2 600.9,158.7 599.6,159.4 598.3,163.5 597.0,163.0 595.7,163.8 594.4,163.2 593.1,165.5 591.8,168.9 590.5,169.9 589.2,169.5 587.9,170.7 586.6,171.7 585.3,171.6 584.0,170.6 582.7,172.8 581.4,170.1 580.1,174.1 578.8,172.1 577.5,175.9 576.2,177.7 574.9,177.2 573.6,177.0 572.3,182.1 571.0,180.1 569.7,181.8 568.4,182.5 567.1,186.2 565.8,180.1 564.5,181.7 563.2,174.1 561.9,189.8 560.6,176.5 559.3,171.7 558.0,196.4 556.7,182.1 555.4,181.9 554.1,193.1 552.8,195.7 551.5,187.6 550.2,188.6 548.9,194.9 547.6,201.8 546.3,204.1 545.0,200.4 543.7,202.4 542.4,207.9 541.1,247.4 539.8,245.5 538.5,247.6 537.2,246.4 535.9,251.0 534.6,251.4 533.3,251.5 532.0,252.7 530.7,251.5 529.4,255.2 528.1,255.7 526.8,255.3 525.5,253.6 524.2,256.1 522.9,259.4 521.6,258.9 520.3,260.0 519.0,261.8 517.7,262.2 516.4,261.1 515.1,262.4 513.8,259.8 512.5,253.9 511.2,250.4 509.9,246.5 508.6,247.4"/><polygon fill="#008000" fill-opacity="0.5" points="508.6,120.3 509.9,124.4 511.2,114.2 512.5,123.7 513.8,113.1 515.1,120.3 516.4,118.0 517.7,127.6 519.0,120.7 520.3,125.3 521.6,109.1 522.9,115.7 524.2,119.5 525.5,102.6 526.8,116.7 528.1,116.9 529.4,120.6 530.7,123.8 532.0,113.7 533.3,120.7 534.6,96.8 535.9,111.8 537.2,130.5 538.5,121.7 539.8,128.2 541.1,115.4 542.4,115.2 543.7,109.7 545.0,119.5 546.3,125.1 547.6,127.8 548.9,115.9 550.2,123.6 551.5,119.7 552.8,114.5 554.1,121.1 555.4,122.3 556.7,125.5 558.0,118.8 559.3,124.6 560.6,125.8 561.9,123.6 563.2,123.8 564.5,128.3 565.8,122.0 567.1,117.3 568.4,118.4 569.7,111.8 571.0,115.8 572.3,119.8 573.6,130.1 574.9,119.9 576.2,115.4 577.5,122.1 578.8,114.4 580.1,125.1 581.4,116.4 582.7,117.1 584.0,113.2 585.3,121.1 586.6,112.0 587.9,115.3 589.2,129.0 590.5,121.4 591.8,89.8 593.1,122.4 594.4,110.5 595.7,121.8 597.0,112.2 598.3,112.0 599.6,110.4 600.9,127.7 602.2,121.2 603.5,126.3 604.8,119.4 606.1,121.9 607.4,122.3 608.7,118.0 610.0,116.5 611.3,122.4 612.6,115.2 613.9,128.9 615.2,111.8 616.5,127.2 617.8,118.7 619.1,113.8 620.4,122.9 621.7,92.3 623.0,126.5 624.3,117.8 625.6,115.7 626.9,123.5 628.2,121.8 629.5,122.8 630.8,121.1 632.1,118.8 633.4,110.9 634.7,123.5 636.0,117.2 637.3,125.2 638.6,115.1 639.9,102.8 641.2,125.3 642.5,124.6 643.8,114.9 645.1,128.5 646.4,125.8 647.7,128.5 649.0,120.8 650.3,119.3 651.6,118.7 652.9,119.6 654.2,127.4 655.5,115.5 656.8,121.2 658.1,113.5 659.4,113.0 660.7,120.4 662.0,119.3 663.3,113.9 664.6,111.6 665.9,121.0 667.2,117.8 668.5,131.8 669.8,125.5 671.1,111.4 672.4,111.7 673.7,121.2 675.0,125.1 676.3,127.3 677.6,126.6 678.9,123.7 680.2,119.0 681.5,121.5 682.8,121.8 684.1,126.7 685.4,127.0 686.7,126.4 688.0,123.3 689.3,122.0 690.6,118.4 691.9,129.1 693.2,122.6 694.5,114.4 695.8,119.5 697.1,117.1 698.4,122.4 699.7,115.3 701.0,110.4 702.3,118.9 703.6,113.8 704.9,116.4 706.2,118.8 707.5,121.9 708.8,119.7 710.1,111.4 711.4,120.5 712.7,124.4 714.0,123.1 715.3,117.3 716.6,123.8 717.9,116.6 719.2,117.4 720.5,119.7 721.8,113.1 723.1,126.2 724.4,123.3 725.7,121.6 727.0,119.0 728.3,127.0 729.6,123.5 730.9,114.8 732.2,122.7 733.5,116.6 734.8,122.0 736.1,124.4 737.4,118.5 738.7,114.9 740.0,121.2 741.3,127.0 742.6,124.6 743.9,123.1 745.2,122.2 746.5,123.4 747.8,117.9 749.1,118.8 750.4,104.7 751.7,125.8 753.0,125.5 754.3,115.9 755.6,117.8 756.9,122.6 758.2,123.8 759.5,122.1 760.8,120.8 762.1,119.9 763.4,116.2 764.7,124.9 766.0,121.0 767.3,120.8 767.3,212.6 766.0,178.1 764.7,186.4 763.4,211.1 762.1,204.2 760.8,195.7 759.5,195.9 758.2,183.9 756.9,215.8 755.6,177.4 754.3,180.6 753.0,196.9 751.7,210.0 750.4,185.6 749.1,181.6 747.8,179.8 746.5,217.3 745.2,205.5 743.9,177.4 742.6,200.9 741.3,180.6 740.0,206.2 738.7,178.2 737.4,197.3 736.1,196.1 734.8,198.5 733.5,187.8 732.2,179.2 730.9,191.3 729.6,213.7 728.3,210.7 727.0,183.2 725.7,212.5 724.4,203.4 723.1,187.3 721.8,179.4 720.5,203.4 719.2,185.4 717.9,197.7 716.6,177.6 715.3,195.2 714.0,202.7 712.7,183.2 711.4,193.0 710.1,187.2 708.8,179.1 707.5,183.7 706.2,209.6 704.9,194.4 703.6,190.5 702.3,184.8 701.0,186.0 699.7,204.8 698.4,189.6 697.1,201.1 695.8,203.4 694.5,207.3 693.2,181.7 691.9,194.5 690.6,213.1 689.3,194.8 688.0,196.5 686.7,195.3 685.4,195.7 684.1,189.6 682.8,179.2 681.5,184.3 680.2,196.4 678.9,207.3 677.6,182.3 676.3,190.3 675.0,215.0 673.7,195.5 672.4,183.4 671.1,192.9 669.8,184.5 668.5,179.5 667.2,194.4 665.9,194.0 664.6,188.1 663.3,189.7 662.0,194.8 660.7,218.6 659.4,194.2 658.1,181.0 656.8,202.9 655.5,204.8 654.2,204.7 652.9,195.5 651.6,207.3 650.3,183.6 649.0,197.4 647.7,207.0 646.4,185.1 645.1,209.9 643.8,217.8 642.5,200.4 641.2,203.4 639.9,202.6 638.6,206.5 637.3,188.0 636.0,177.8 634.7,184.8 633.4,178.5 632.1,196.5 630.8,201.8 629.5,205.8 628.2,197.0 626.9,199.2 625.6,213.0 624.3,209.8 623.0,216.5 621.7,182.6 620.4,213.1 619.1,213.3 617.8,183.1 616.5,185.2 615.2,215.8 613.9,182.4 612.6,189.1 611.3,206.6 610.0,178.6 608.7,204.3 607.4,197.7 606.1,177.2 604.8,179.0 603.5,183.8 602.2,202.2 600.9,195.1 599.6,185.8 598.3,185.8 597.0,182.6 595.7,177.2 594.4,200.0 593.1,203.2 591.8,188.6 590.5,218.4 589.2,178.7 587.9,209.9 586.6,177.2 585.3,208.8 584.0,178.9 582.7,183.4 581.4,214.7 580.1,217.0 578.8,188.7 577.5,194.0 576.2,181.0 574.9,188.2 573.6,202.4 572.3,182.1 571.0,181.6 569.7,212.0 568.4,195.1 567.1,184.3 565.8,180.4 564.5,205.2 563.2,208.3 561.9,207.0 560.6,192.3 559.3,198.7 558.0,200.4 556.7,178.1 555.4,176.0 554.1,185.8 552.8,187.4 551.5,194.1 550.2,175.0 548.9,182.7 547.6,186.6 546.3,176.1 545.0,173.4 543.7,170.8 542.4,171.2 541.1,168.6 539.8,167.2 538.5,169.1 537.2,168.4 535.9,171.1 534.6,169.4 533.3,171.9 532.0,167.9 530.7,175.2 529.4,175.4 528.1,176.1 526.8,174.3 525.5,166.7 524.2,166.3 522.9,171.7 521.6,166.7 520.3,166.9 519.0,165.7 517.7,167.3 516.4,167.1 515.1,166.7 513.8,165.4 512.5,166.4 511.2,169.2 509.9,167.7 508.6,170.4"/><polyline fill="none" stroke="#0000ff" stroke-width="2" stroke-linejoin="round" points="508.6,220.9 509.9,214.9 511.2,218.5 512.5,231.8 513.8,240.5 515.1,249.2 516.4,247.5 517.7,245.8 519.0,244.1 520.3,242.2 521.6,239.3 522.9,236.4 524.2,233.6 525.5,230.7 526.8,230.5 528.1,233.0 529.4,235.4 530.7,237.9 532.0,240.3 533.3,242.8 534.6,245.2 535.9,243.2 537.2,241.2 538.5,239.2 539.8,242.0 541.1,242.3 542.4,242.0 543.7,241.3 545.0,240.5 546.3,242.4 547.6,240.4 548.9,241.7 550.2,244.0 551.5,244.9 552.8,242.7 554.1,241.2 555.4,240.9 556.7,241.4 558.0,238.6 559.3,235.1 560.6,237.9 561.9,240.5 563.2,239.1 564.5,239.4 565.8,238.8 567.1,239.5 568.4,244.0 569.7,247.5 571.0,244.3 572.3,241.1 573.6,241.4 574.9,239.8 576.2,246.5 577.5,255.1 578.8,244.1 580.1,234.2 581.4,234.9 582.7,235.3 584.0,234.2 585.3,233.7 586.6,238.1 587.9,240.6 589.2,241.4 590.5,245.6 591.8,248.2 593.1,245.7 594.4,241.6 595.7,242.2 597.0,247.8 598.3,249.3 599.6,245.4 600.9,242.9 602.2,241.2 603.5,238.4 604.8,237.1 606.1,238.8 607.4,241.1 608.7,245.4 610.0,245.9 611.3,241.8 612.6,238.7 613.9,238.0 615.2,238.0 616.5,237.9 617.8,240.7 619.1,246.3 620.4,245.3 621.7,241.0 623.0,241.4 624.3,243.7 625.6,240.9 626.9,241.9 628.2,242.4 629.5,240.5 630.8,241.0 632.1,243.5 633.4,240.7 634.7,241.5 636.0,244.3 637.3,246.3 638.6,249.0 639.9,246.2 641.2,243.3 642.5,244.0 643.8,243.7 645.1,242.5 646.4,240.5 647.7,238.9 649.0,240.8 650.3,241.4 651.6,238.0 652.9,235.7 654.2,239.5 655.5,242.3 656.8,243.7 658.1,238.9 659.4,236.7 660.7,237.2 662.0,241.3 663.3,243.3 664.6,239.8 665.9,239.9 667.2,244.9 668.5,246.3 669.8,242.4 671.1,238.6 672.4,235.5 673.7,240.8 675.0,244.0 676.3,245.0 677.6,247.5 678.9,244.3 680.2,238.7 681.5,241.0 682.8,244.9 684.1,245.2 685.4,240.9 686.7,239.0 688.0,240.6 689.3,242.0 690.6,240.9 691.9,241.1 693.2,242.6 694.5,243.7 695.8,248.6 697.1,248.3 698.4,244.8 699.7,244.0 701.0,244.6 702.3,240.9 703.6,237.9 704.9,238.7 706.2,239.3 707.5,238.7 708.8,241.0 710.1,244.4 711.4,242.2 712.7,240.0 714.0,243.2 715.3,243.5 716.6,244.1 717.9,246.0 719.2,245.6 720.5,242.4 721.8,240.6 723.1,242.3 724.4,245.6 725.7,243.8 727.0,240.0 728.3,237.7 729.6,237.4 730.9,237.0 732.2,236.6 733.5,239.0 734.8,242.8 736.1,243.7 737.4,247.0 738.7,251.1 740.0,247.0 741.3,240.1 742.6,245.3 743.9,249.7 745.2,244.4 746.5,238.5 747.8,239.5 749.1,240.8 750.4,241.9 751.7,240.6 753.0,237.4 754.3,237.9 755.6,239.5 756.9,237.9 758.2,237.9 759.5,240.5 760.8,240.9 762.1,241.4 763.4,241.8 764.7,239.6 766.0,241.7 767.3,244.4"/><polyline fill="none" stroke="#ff0000" stroke-width="2" stroke-linejoin="round" points="508.6,182.1 509.9,183.4 511.2,186.8 512.5,193.6 513.8,205.0 515.1,200.6 516.4,196.2 517.7,194.0 519.0,192.3 520.3,190.7 521.6,189.1 522.9,187.5 524.2,186.2 525.5,185.1 526.8,184.2 528.1,183.6 529.4,183.0 530.7,182.4 532.0,181.6 533.3,180.7 534.6,179.6 535.9,178.5 537.2,177.3 538.5,176.2 539.8,175.0 541.1,173.8 542.4,172.6 543.7,171.4 545.0,170.2 546.3,169.0 547.6,167.9 548.9,166.8 550.2,165.7 551.5,164.7 552.8,163.7 554.1,162.8 555.4,161.8 556.7,160.9 558.0,160.0 559.3,159.2 560.6,158.3 561.9,157.5 563.2,156.6 564.5,155.8 565.8,155.0 567.1,154.2 568.4,153.5 569.7,152.8 571.0,152.1 572.3,151.4 573.6,150.8 574.9,150.1 576.2,149.5 577.5,148.9 578.8,148.4 580.1,147.8 581.4,147.3 582.7,146.7 584.0,146.2 585.3,145.7 586.6,145.2 587.9,144.8 589.2,144.3 590.5,143.8 591.8,143.4 593.1,142.9 594.4,142.5 595.7,142.1 597.0,141.7 598.3,141.3 599.6,140.8 600.9,140.4 602.2,140.0 603.5,139.5 604.8,139.1 606.1,138.7 607.4,138.2 608.7,137.8 610.0,137.4 611.3,136.9 612.6,136.5 613.9,136.0 615.2,135.6 616.5,135.1 617.8,134.6 619.1,134.2 620.4,133.7 621.7,133.2 623.0,132.7 624.3,132.3 625.6,131.8 626.9,131.4 628.2,130.9 629.5,130.4 630.8,130.0 632.1,129.5 633.4,129.1 634.7,128.7 636.0,128.2 637.3,127.8 638.6,127.4 639.9,127.0 641.2,126.6 642.5,126.2 643.8,125.8 645.1,125.5 646.4,125.1 647.7,124.7 649.0,124.3 650.3,124.0 651.6,123.6 652.9,123.3 654.2,122.9 655.5,122.6 656.8,122.3 658.1,122.0 659.4,121.7 660.7,121.3 662.0,121.0 663.3,120.7 664.6,120.5 665.9,120.2 667.2,119.9 668.5,119.6 669.8,119.4 671.1,119.1 672.4,118.8 673.7,118.6 675.0,118.4 676.3,118.2 677.6,118.0 678.9,117.8 680.2,117.6 681.5,117.4 682.8,117.2 684.1,117.1 685.4,116.9 686.7,116.7 688.0,116.6 689.3,116.4 690.6,116.3 691.9,116.1 693.2,116.0 694.5,115.9 695.8,115.8 697.1,115.7 698.4,115.7 699.7,115.6 701.0,115.5 702.3,115.5 703.6,115.4 704.9,115.3 706.2,115.3 707.5,115.2 708.8,115.2 710.1,115.1 711.4,115.1 712.7,115.0 714.0,115.0 715.3,115.0 716.6,115.0 717.9,115.0 719.2,115.0 720.5,115.0 721.8,115.0 723.1,115.0 724.4,115.0 725.7,115.0 727.0,115.0 728.3,115.0 729.6,115.0 730.9,115.0 732.2,115.0 733.5,115.0 734.8,115.0 736.1,115.0 737.4,115.0 738.7,115.0 740.0,115.0 741.3,115.0 742.6,115.0 743.9,115.0 745.2,115.0 746.5,115.0 747.8,115.0 749.1,115.0 750.4,115.0 751.7,115.0 753.0,115.0 754.3,115.0 755.6,115.0 756.9,115.0 758.2,115.0 759.5,115.0 760.8,115.0 762.1,115.0 763.4,115.0 764.7,115.0 766.0,115.0 767.3,115.0"/><polyline fill="none" stroke="#008000" stroke-width="2" stroke-linejoin="round" points="508.6,141.8 509.9,147.6 511.2,153.4 512.5,159.2 513.8,153.3 515.1,147.3 516.4,147.2 517.7,147.1 519.0,146.9 520.3,147.5 521.6,147.5 522.9,145.7 524.2,144.7 525.5,145.0 526.8,144.8 528.1,144.2 529.4,145.7 530.7,146.6 532.0,147.8 533.3,147.2 534.6,146.2 535.9,151.0 537.2,155.3 538.5,152.6 539.8,149.4 541.1,148.3 542.4,152.1 543.7,154.6 545.0,152.0 546.3,149.8 547.6,151.4 548.9,150.8 550.2,151.0 551.5,152.6 552.8,154.7 554.1,155.0 555.4,155.4 556.7,155.0 558.0,154.3 559.3,152.8 560.6,154.3 561.9,156.8 563.2,159.2 564.5,155.7 565.8,150.7 567.1,154.1 568.4,157.3 569.7,155.8 571.0,155.1 572.3,155.6 573.6,155.5 574.9,154.6 576.2,153.8 577.5,155.4 578.8,154.0 580.1,153.0 581.4,153.1 582.7,150.4 584.0,152.2 585.3,154.5 586.6,154.7 587.9,154.5 589.2,155.9 590.5,152.4 591.8,149.1 593.1,150.8 594.4,152.7 595.7,154.5 597.0,154.0 598.3,155.3 599.6,155.4 600.9,152.8 602.2,151.0 603.5,155.2 604.8,158.0 606.1,154.8 607.4,151.9 608.7,151.7 610.0,151.6 611.3,150.2 612.6,150.3 613.9,151.9 615.2,155.1 616.5,155.7 617.8,152.8 619.1,153.1 620.4,151.1 621.7,151.6 623.0,155.6 624.3,155.7 625.6,153.0 626.9,152.6 628.2,155.2 629.5,156.3 630.8,157.4 632.1,157.2 633.4,155.5 634.7,156.7 636.0,158.0 637.3,155.4 638.6,155.0 639.9,156.2 641.2,156.4 642.5,153.6 643.8,152.7 645.1,153.2 646.4,153.5 647.7,152.0 649.0,150.5 650.3,152.1 651.6,153.7 652.9,154.2 654.2,153.5 655.5,154.6 656.8,154.7 658.1,152.8 659.4,154.3 660.7,156.6 662.0,156.9 663.3,156.7 664.6,155.5 665.9,151.9 667.2,152.9 668.5,155.2 669.8,153.4 671.1,153.8 672.4,154.2 673.7,154.3 675.0,153.3 676.3,152.4 677.6,151.8 678.9,154.2 680.2,158.9 681.5,157.6 682.8,155.4 684.1,156.2 685.4,157.8 686.7,156.9 688.0,157.3 689.3,159.5 690.6,157.6 691.9,154.9 693.2,155.7 694.5,155.6 695.8,154.5 697.1,153.1 698.4,151.9 699.7,151.9 701.0,153.3 702.3,154.2 703.6,154.6 704.9,154.4 706.2,154.0 707.5,152.8 708.8,154.0 710.1,158.6 711.4,159.9 712.7,156.5 714.0,156.8 715.3,157.1 716.6,153.0 717.9,152.1 719.2,156.4 720.5,158.1 721.8,157.7 723.1,157.2 724.4,156.8 725.7,157.2 727.0,156.1 728.3,154.8 729.6,153.2 730.9,153.2 732.2,151.7 733.5,150.6 734.8,151.9 736.1,153.4 737.4,155.0 738.7,153.1 740.0,149.2 741.3,150.2 742.6,153.8 743.9,155.6 745.2,154.8 746.5,154.8 747.8,157.8 749.1,157.2 750.4,156.3 751.7,154.5 753.0,155.8 754.3,154.6 755.6,154.7 756.9,153.6 758.2,151.7 759.5,152.9 760.8,153.3 762.1,154.6 763.4,156.8 764.7,155.2 766.0,152.9 767.3,153.1"/></g>
<g clip-path="url(#c02)"><polygon fill="#0000ff" fill-opacity="0.5" points="849.9,268.5 851.0,265.1 852.0,261.5 853.1,265.6 854.1,263.7 855.1,266.5 856.2,268.5 857.2,271.0 858.2,271.5 859.3,269.9 860.3,267.1 861.4,273.5 862.4,268.0 863.4,266.6 864.5,265.8 865.5,266.9 866.6,268.1 867.6,264.7 868.6,272.5 869.7,272.1 870.7,274.2 871.8,273.9 872.8,275.7 873.8,269.2 874.9,267.1 875.9,275.0 876.9,276.2 878.0,274.5 879.0,274.0 880.1,274.8 881.1,275.6 882.1,274.0 883.2,273.4 884.2,271.6 885.3,274.5 886.3,274.8 887.3,274.6 888.4,276.9 889.4,275.8 890.5,274.3 891.5,273.7 892.5,273.6 893.6,274.7 894.6,274.0 895.6,273.7 896.7,272.7 897.7,274.3 898.8,275.6 899.8,274.3 900.8,277.3 901.9,274.8 902.9,275.5 904.0,275.0 905.0,274.3 906.0,274.9 907.1,276.8 908.1,275.4 909.2,276.0 910.2,275.0 911.2,274.5 912.3,276.2 913.3,274.1 914.4,270.4 915.4,275.4 916.4,274.2 917.5,274.5 918.5,275.8 919.5,273.9 920.6,277.3 921.6,272.0 922.7,276.3 923.7,270.5 924.7,273.8 925.8,276.0 926.8,275.1 927.9,278.5 928.9,274.3 929.9,274.9 931.0,271.1 932.0,278.3 933.1,275.0 934.1,274.5 935.1,278.7 936.2,276.3 937.2,275.6 938.2,274.5 939.3,275.3 940.3,276.2 941.4,275.0 942.4,275.7 943.4,276.4 944.5,276.9 945.5,275.5 946.6,275.5 947.6,273.4 948.6,276.3 949.7,273.7 950.7,275.3 951.8,274.0 952.8,276.9 953.8,276.9 954.9,276.2 955.9,274.7 956.9,275.6 958.0,274.9 959.0,275.5 960.1,271.7 961.1,275.7 962.1,276.6 963.2,275.3 964.2,275.8 965.3,273.8 966.3,276.0 967.3,275.8 968.4,276.4 969.4,274.5 970.5,274.9 971.5,275.2 972.5,277.6 973.6,277.9 974.6,275.7 975.6,275.1 976.7,274.2 977.7,278.3 978.8,276.2 979.8,278.1 980.8,277.2 981.9,276.3 982.9,274.8 984.0,276.7 985.0,276.9 986.0,273.8 987.1,273.5 988.1,273.0 989.2,277.9 990.2,276.4 991.2,276.6 992.3,274.6 993.3,275.5 994.3,274.1 995.4,277.3 996.4,276.0 997.5,276.6 998.5,277.4 999.5,276.2 1000.6,277.5 1001.6,272.4 1002.7,275.5 1003.7,277.3 1004.7,276.8 1005.8,273.9 1006.8,276.6 1007.9,274.8 1008.9,275.3 1009.9,274.7 1011.0,275.2 1012.0,276.3 1013.1,276.8 1014.1,278.2 1015.1,275.0 1016.2,275.9 1017.2,276.5 1018.2,276.2 1019.3,277.5 1020.3,273.3 1021.4,276.7 1022.4,276.6 1023.4,276.8 1024.5,276.2 1025.5,275.1 1026.6,279.0 1027.6,275.4 1028.6,275.0 1029.7,276.3 1030.7,274.8 1031.8,275.1 1032.8,276.3 1033.8,276.1 1034.9,273.7 1035.9,274.3 1036.9,274.9 1038.0,276.0 1039.0,274.8 1040.1,275.5 1041.1,276.7 1042.1,277.3 1043.2,275.4 1044.2,275.5 1045.3,274.5 1046.3,274.4 1047.3,274.3 1048.4,276.5 1049.4,274.0 1050.5,274.8 1051.5,276.7 1052.5,277.2 1053.6,276.2 1054.6,276.2 1055.6,274.9 1056.7,276.9 1057.7,276.3 1058.8,276.0 1059.8,273.6 1060.8,274.0 1061.9,276.8 1062.9,276.4 1064.0,275.6 1065.0,276.7 1066.0,276.3 1067.1,276.4 1068.1,277.3 1069.2,276.8 1070.2,276.6 1071.2,275.7 1072.3,277.5 1073.3,275.9 1074.3,274.1 1075.4,277.0 1076.4,277.4 1077.5,271.0 1078.5,273.8 1079.5,274.4 1080.6,275.0 1081.6,275.4 1082.7,275.9 1083.7,275.7 1084.7,275.5 1085.8,275.3 1086.8,274.1 1087.9,279.7 1088.9,276.7 1089.9,275.2 1091.0,268.9 1092.0,276.2 1093.1,272.5 1094.1,273.4 1095.1,273.8 1096.2,276.1 1097.2,270.1 1098.2,277.4 1099.3,278.5 1100.3,276.5 1101.4,275.9 1102.4,276.5 1103.4,277.7 1104.5,275.2 1105.5,275.9 1106.6,276.0 1107.6,277.0 1108.6,274.0 1108.6,298.9 1107.6,297.7 1106.6,299.5 1105.5,298.2 1104.5,298.9 1103.4,299.2 1102.4,298.2 1101.4,299.5 1100.3,295.0 1099.3,297.7 1098.2,299.1 1097.2,296.6 1096.2,300.7 1095.1,299.8 1094.1,298.6 1093.1,295.4 1092.0,297.1 1091.0,300.7 1089.9,297.9 1088.9,298.8 1087.9,299.7 1086.8,298.5 1085.8,299.6 1084.7,298.0 1083.7,304.9 1082.7,299.9 1081.6,297.3 1080.6,296.1 1079.5,315.4 1078.5,301.3 1077.5,297.7 1076.4,301.7 1075.4,306.2 1074.3,297.8 1073.3,299.9 1072.3,297.6 1071.2,298.0 1070.2,298.0 1069.2,297.3 1068.1,298.1 1067.1,300.6 1066.0,299.0 1065.0,299.5 1064.0,298.0 1062.9,299.4 1061.9,297.7 1060.8,298.7 1059.8,298.4 1058.8,297.4 1057.7,298.5 1056.7,297.5 1055.6,299.3 1054.6,299.5 1053.6,297.7 1052.5,298.8 1051.5,298.0 1050.5,301.2 1049.4,300.7 1048.4,298.8 1047.3,295.6 1046.3,300.3 1045.3,300.6 1044.2,299.0 1043.2,293.6 1042.1,295.5 1041.1,295.6 1040.1,296.6 1039.0,305.1 1038.0,308.7 1036.9,298.8 1035.9,295.0 1034.9,299.9 1033.8,298.5 1032.8,296.2 1031.8,299.9 1030.7,298.6 1029.7,298.8 1028.6,294.4 1027.6,295.6 1026.6,299.4 1025.5,296.2 1024.5,297.0 1023.4,303.7 1022.4,297.5 1021.4,299.5 1020.3,298.9 1019.3,298.9 1018.2,298.0 1017.2,300.5 1016.2,301.5 1015.1,301.6 1014.1,300.2 1013.1,297.1 1012.0,296.7 1011.0,297.6 1009.9,298.7 1008.9,297.1 1007.9,296.8 1006.8,298.8 1005.8,300.1 1004.7,305.9 1003.7,300.9 1002.7,294.8 1001.6,298.7 1000.6,296.9 999.5,298.1 998.5,300.2 997.5,297.7 996.4,298.7 995.4,299.8 994.3,298.6 993.3,299.7 992.3,299.5 991.2,296.1 990.2,302.1 989.2,299.3 988.1,298.8 987.1,296.4 986.0,309.4 985.0,298.1 984.0,298.6 982.9,298.4 981.9,296.3 980.8,298.3 979.8,300.5 978.8,297.6 977.7,297.0 976.7,301.1 975.6,298.1 974.6,296.8 973.6,298.9 972.5,295.4 971.5,296.8 970.5,299.9 969.4,297.3 968.4,296.8 967.3,297.3 966.3,297.4 965.3,295.9 964.2,297.4 963.2,296.8 962.1,296.8 961.1,298.2 960.1,297.3 959.0,296.5 958.0,296.2 956.9,297.2 955.9,296.1 954.9,297.4 953.8,296.1 952.8,296.0 951.8,297.0 950.7,296.8 949.7,297.0 948.6,294.9 947.6,295.3 946.6,297.3 945.5,300.1 944.5,302.4 943.4,298.9 942.4,295.4 941.4,294.4 940.3,294.6 939.3,294.0 938.2,294.7 937.2,296.4 936.2,298.2 935.1,298.0 934.1,292.7 933.1,296.0 932.0,294.7 931.0,294.5 929.9,292.6 928.9,294.1 927.9,296.4 926.8,295.7 925.8,294.4 924.7,295.3 923.7,296.2 922.7,297.0 921.6,295.0 920.6,300.5 919.5,291.5 918.5,295.4 917.5,294.2 916.4,307.1 915.4,292.7 914.4,295.2 913.3,292.1 912.3,294.5 911.2,296.4 910.2,295.6 909.2,293.4 908.1,294.6 907.1,294.2 906.0,292.5 905.0,295.8 904.0,293.5 902.9,295.0 901.9,293.8 900.8,292.4 899.8,290.2 898.8,291.7 897.7,294.5 896.7,292.6 895.6,291.9 894.6,294.0 893.6,293.1 892.5,294.9 891.5,294.4 890.5,295.2 889.4,293.8 888.4,292.8 887.3,294.9 886.3,292.4 885.3,296.4 884.2,293.3 883.2,292.9 882.1,293.6 881.1,293.9 880.1,291.3 879.0,293.7 878.0,292.5 876.9,293.0 875.9,304.7 874.9,295.7 873.8,294.5 872.8,289.8 871.8,290.8 870.7,292.0 869.7,290.0 868.6,290.2 867.6,288.3 866.6,290.9 865.5,289.5 864.5,292.6 863.4,292.9 862.4,300.5 861.4,294.4 860.3,305.7 859.3,306.1 858.2,296.6 857.2,288.7 856.2,281.4 855.1,276.9 854.1,278.3 853.1,265.8 852.0,268.0 851.0,267.9 849.9,274.4"/><polygon fill="#ff0000" fill-opacity="0.5" points="849.9,98.8 851.0,96.1 852.0,97.3 853.1,97.5 854.1,99.1 855.1,100.1 856.2,189.2 857.2,110.2 858.2,106.4 859.3,105.2 860.3,103.3 861.4,104.5 862.4,110.9 863.4,101.6 864.5,110.0 865.5,103.8 866.6,105.2 867.6,108.7 868.6,110.2 869.7,107.0 870.7,99.6 871.8,103.2 872.8,108.7 873.8,102.8 874.9,98.6 875.9,96.4 876.9,113.8 878.0,102.8 879.0,102.4 880.1,109.8 881.1,114.6 882.1,100.5 883.2,108.4 884.2,113.6 885.3,111.3 886.3,103.3 887.3,99.4 888.4,110.4 889.4,117.4 890.5,114.1 891.5,118.9 892.5,115.2 893.6,115.6 894.6,114.6 895.6,116.0 896.7,116.0 897.7,117.7 898.8,118.5 899.8,118.2 900.8,115.8 901.9,119.4 902.9,118.8 904.0,119.5 905.0,118.0 906.0,118.3 907.1,116.1 908.1,115.8 909.2,117.1 910.2,117.2 911.2,118.4 912.3,120.0 913.3,117.5 914.4,117.5 915.4,119.0 916.4,117.0 917.5,115.9 918.5,118.4 919.5,115.8 920.6,116.4 921.6,117.7 922.7,116.7 923.7,115.8 924.7,117.0 925.8,116.8 926.8,114.7 927.9,115.7 928.9,115.6 929.9,116.9 931.0,115.0 932.0,113.7 933.1,116.8 934.1,117.5 935.1,116.2 936.2,114.9 937.2,116.2 938.2,117.4 939.3,110.0 940.3,114.1 941.4,114.6 942.4,119.7 943.4,108.7 944.5,115.3 945.5,105.7 946.6,107.3 947.6,107.8 948.6,108.6 949.7,103.8 950.7,108.5 951.8,104.6 952.8,106.9 953.8,105.6 954.9,98.3 955.9,99.2 956.9,105.7 958.0,104.8 959.0,101.0 960.1,101.1 961.1,98.5 962.1,101.2 963.2,103.2 964.2,96.4 965.3,99.7 966.3,96.2 967.3,101.5 968.4,92.8 969.4,97.0 970.5,96.8 971.5,96.3 972.5,103.1 973.6,95.1 974.6,99.4 975.6,101.5 976.7,96.3 977.7,91.6 978.8,100.2 979.8,92.4 980.8,105.8 981.9,97.0 982.9,100.3 984.0,97.5 985.0,91.0 986.0,96.4 987.1,104.6 988.1,94.9 989.2,104.6 990.2,103.9 991.2,106.1 992.3,103.5 993.3,105.3 994.3,100.0 995.4,105.2 996.4,104.4 997.5,107.6 998.5,103.3 999.5,111.0 1000.6,112.5 1001.6,104.4 1002.7,105.0 1003.7,107.7 1004.7,102.1 1005.8,112.9 1006.8,109.5 1007.9,110.5 1008.9,114.5 1009.9,113.0 1011.0,113.0 1012.0,113.7 1013.1,113.8 1014.1,113.9 1015.1,114.3 1016.2,114.5 1017.2,114.4 1018.2,114.7 1019.3,114.9 1020.3,115.0 1021.4,115.0 1022.4,115.0 1023.4,115.0 1024.5,115.0 1025.5,115.0 1026.6,115.0 1027.6,115.0 1028.6,115.0 1029.7,115.0 1030.7,115.0 1031.8,115.0 1032.8,115.0 1033.8,115.0 1034.9,115.0 1035.9,115.0 1036.9,115.0 1038.0,115.0 1039.0,115.0 1040.1,115.0 1041.1,115.0 1042.1,115.0 1043.2,115.0 1044.2,115.0 1045.3,115.0 1046.3,115.0 1047.3,115.0 1048.4,115.0 1049.4,115.0 1050.5,115.0 1051.5,115.0 1052.5,115.0 1053.6,115.0 1054.6,115.0 1055.6,115.0 1056.7,115.0 1057.7,115.0 1058.8,115.0 1059.8,115.0 1060.8,115.0 1061.9,115.0 1062.9,115.0 1064.0,115.0 1065.0,115.0 1066.0,115.0 1067.1,115.0 1068.1,115.0 1069.2,115.0 1070.2,115.0 1071.2,115.0 1072.3,115.0 1073.3,115.0 1074.3,115.0 1075.4,115.0 1076.4,115.0 1077.5,115.0 1078.5,115.0 1079.5,115.0 1080.6,115.0 1081.6,115.0 1082.7,115.0 1083.7,115.0 1084.7,115.0 1085.8,115.0 1086.8,115.0 1087.9,115.0 1088.9,115.0 1089.9,115.0 1091.0,115.0 1092.0,115.0 1093.1,115.0 1094.1,115.0 1095.1,115.0 1096.2,115.0 1097.2,115.0 1098.2,115.0 1099.3,115.0 1100.3,115.0 1101.4,115.0 1102.4,115.0 1103.4,115.0 1104.5,115.0 1105.5,115.0 1106.6,115.0 1107.6,115.0 1108.6,115.0 1108.6,115.0 1107.6,115.0 1106.6,115.0 1105.5,115.0 1104.5,115.0 1103.4,115.0 1102.4,115.0 1101.4,115.0 1100.3,115.0 1099.3,115.0 1098.2,115.0 1097.2,115.0 1096.2,115.0 1095.1,115.0 1094.1,115.0 1093.1,115.0 1092.0,115.0 1091.0,115.0 1089.9,115.0 1088.9,115.0 1087.9,115.0 1086.8,115.0 1085.8,115.0 1084.7,115.0 1083.7,115.0 1082.7,115.0 1081.6,115.0 1080.6,115.0 1079.5,115.0 1078.5,115.0 1077.5,115.0 1076.4,115.0 1075.4,115.0 1074.3,115.0 1073.3,115.0 1072.3,115.0 1071.2,115.0 1070.2,115.0 1069.2,115.0 1068.1,115.0 1067.1,115.0 1066.0,115.0 1065.0,115.0 1064.0,115.0 1062.9,115.0 1061.9,115.0 1060.8,115.0 1059.8,115.0 1058.8,115.0 1057.7,115.0 1056.7,115.0 1055.6,115.0 1054.6,115.0 1053.6,115.0 1052.5,115.0 1051.5,115.0 1050.5,115.0 1049.4,115.0 1048.4,115.0 1047.3,115.0 1046.3,115.0 1045.3,115.0 1044.2,115.0 1043.2,115.0 1042.1,115.0 1041.1,115.0 1040.1,115.0 1039.0,115.0 1038.0,115.0 1036.9,115.0 1035.9,115.0 1034.9,115.0 1033.8,115.0 1032.8,115.0 1031.8,115.0 1030.7,115.0 1029.7,115.0 1028.6,115.0 1027.6,115.0 1026.6,115.0 1025.5,115.0 1024.5,115.0 1023.4,115.0 1022.4,115.0 1021.4,115.0 1020.3,115.0 1019.3,115.1 1018.2,115.2 1017.2,115.5 1016.2,115.8 1015.1,116.1 1014.1,116.3 1013.1,116.6 1012.0,117.3 1011.0,116.9 1009.9,117.0 1008.9,118.3 1007.9,117.9 1006.8,120.4 1005.8,120.6 1004.7,124.4 1003.7,126.9 1002.7,137.1 1001.6,130.4 1000.6,135.7 999.5,128.3 998.5,133.1 997.5,133.7 996.4,133.3 995.4,139.6 994.3,134.2 993.3,134.0 992.3,138.1 991.2,140.2 990.2,143.4 989.2,142.8 988.1,139.3 987.1,138.8 986.0,144.3 985.0,141.9 984.0,147.7 982.9,149.0 981.9,145.2 980.8,149.5 979.8,147.3 978.8,146.3 977.7,146.6 976.7,149.0 975.6,147.4 974.6,150.1 973.6,150.2 972.5,149.0 971.5,152.7 970.5,154.9 969.4,151.4 968.4,151.7 967.3,148.9 966.3,154.5 965.3,156.1 964.2,154.8 963.2,154.0 962.1,157.8 961.1,153.6 960.1,159.3 959.0,151.8 958.0,155.3 956.9,153.3 955.9,154.4 954.9,154.9 953.8,154.4 952.8,156.2 951.8,154.5 950.7,155.6 949.7,152.0 948.6,153.7 947.6,150.7 946.6,154.1 945.5,157.0 944.5,154.6 943.4,157.4 942.4,153.9 941.4,154.9 940.3,154.6 939.3,152.8 938.2,157.3 937.2,158.0 936.2,152.1 935.1,155.8 934.1,157.1 933.1,157.6 932.0,154.7 931.0,155.2 929.9,159.0 928.9,160.2 927.9,158.4 926.8,158.2 925.8,157.8 924.7,159.2 923.7,162.2 922.7,163.8 921.6,164.2 920.6,164.9 919.5,163.6 918.5,163.2 917.5,164.6 916.4,164.5 915.4,165.7 914.4,165.0 913.3,164.6 912.3,168.1 911.2,171.0 910.2,168.0 909.2,170.8 908.1,171.3 907.1,172.8 906.0,175.9 905.0,172.9 904.0,169.0 902.9,173.2 901.9,179.9 900.8,181.1 899.8,181.2 898.8,180.5 897.7,181.0 896.7,185.6 895.6,186.4 894.6,192.7 893.6,196.1 892.5,192.3 891.5,199.0 890.5,203.9 889.4,206.5 888.4,221.3 887.3,227.4 886.3,240.7 885.3,235.4 884.2,237.0 883.2,235.9 882.1,240.4 881.1,238.2 880.1,237.4 879.0,234.1 878.0,233.3 876.9,241.4 875.9,244.9 874.9,249.8 873.8,246.5 872.8,243.8 871.8,244.0 870.7,259.9 869.7,249.9 868.6,253.4 867.6,248.9 866.6,256.1 865.5,247.0 864.5,259.7 863.4,250.2 862.4,252.3 861.4,245.1 860.3,240.4 859.3,261.0 858.2,264.2 857.2,265.3 856.2,275.1 855.1,259.6 854.1,255.4 853.1,249.1 852.0,242.1 851.0,239.8 849.9,232.2"/><polyline fill="none" stroke="#0000ff" stroke-width="2" stroke-linejoin="round" points="849.9,269.2 851.0,267.1 852.0,264.1 853.1,263.3 854.1,264.7 855.1,267.3 856.2,271.8 857.2,278.3 858.2,284.1 859.3,287.1 860.3,283.1 861.4,278.9 862.4,276.8 863.4,274.8 864.5,274.6 865.5,275.6 866.6,276.9 867.6,277.7 868.6,277.3 869.7,277.7 870.7,277.8 871.8,277.9 872.8,277.6 873.8,278.1 874.9,278.9 875.9,279.5 876.9,280.3 878.0,280.6 879.0,281.4 880.1,281.0 881.1,280.5 882.1,281.1 883.2,282.0 884.2,282.5 885.3,282.1 886.3,281.3 887.3,281.5 888.4,282.6 889.4,283.2 890.5,283.0 891.5,283.6 892.5,283.7 893.6,283.3 894.6,282.7 895.6,282.6 896.7,282.7 897.7,283.0 898.8,283.3 899.8,282.7 900.8,282.2 901.9,282.7 902.9,282.9 904.0,283.0 905.0,282.6 906.0,282.5 907.1,282.6 908.1,282.6 909.2,282.5 910.2,283.5 911.2,284.0 912.3,284.0 913.3,283.7 914.4,284.1 915.4,284.1 916.4,283.2 917.5,282.9 918.5,284.0 919.5,285.7 920.6,285.7 921.6,285.5 922.7,285.4 923.7,284.5 924.7,283.6 925.8,284.5 926.8,285.1 927.9,284.7 928.9,284.9 929.9,285.3 931.0,285.8 932.0,285.6 933.1,286.0 934.1,287.2 935.1,287.0 936.2,285.5 937.2,285.3 938.2,286.3 939.3,286.8 940.3,286.7 941.4,286.8 942.4,286.1 943.4,285.0 944.5,285.1 945.5,285.2 946.6,285.6 947.6,285.4 948.6,285.4 949.7,286.5 950.7,286.6 951.8,286.1 952.8,285.4 953.8,284.8 954.9,285.5 955.9,286.8 956.9,286.8 958.0,286.9 959.0,286.3 960.1,285.4 961.1,286.2 962.1,286.6 963.2,286.5 964.2,286.1 965.3,286.1 966.3,286.5 967.3,286.6 968.4,286.6 969.4,287.6 970.5,288.2 971.5,287.8 972.5,287.0 973.6,287.5 974.6,288.2 975.6,287.3 976.7,286.1 977.7,286.6 978.8,286.8 979.8,287.0 980.8,287.5 981.9,288.0 982.9,288.0 984.0,288.3 985.0,288.2 986.0,286.2 987.1,286.2 988.1,287.1 989.2,287.7 990.2,287.7 991.2,287.1 992.3,287.2 993.3,287.6 994.3,288.0 995.4,287.0 996.4,286.2 997.5,286.8 998.5,287.0 999.5,286.9 1000.6,286.4 1001.6,286.5 1002.7,287.2 1003.7,287.7 1004.7,287.4 1005.8,287.5 1006.8,287.7 1007.9,287.3 1008.9,287.3 1009.9,287.8 1011.0,286.9 1012.0,285.5 1013.1,286.1 1014.1,286.4 1015.1,286.1 1016.2,287.9 1017.2,289.7 1018.2,289.9 1019.3,289.0 1020.3,287.7 1021.4,287.6 1022.4,288.4 1023.4,287.9 1024.5,288.1 1025.5,287.7 1026.6,287.3 1027.6,287.3 1028.6,287.6 1029.7,288.0 1030.7,288.4 1031.8,287.7 1032.8,286.9 1033.8,286.2 1034.9,285.6 1035.9,286.2 1036.9,286.6 1038.0,286.6 1039.0,287.7 1040.1,289.2 1041.1,289.3 1042.1,287.6 1043.2,287.1 1044.2,287.3 1045.3,287.8 1046.3,287.3 1047.3,286.6 1048.4,287.5 1049.4,288.6 1050.5,288.2 1051.5,287.6 1052.5,289.0 1053.6,290.5 1054.6,290.5 1055.6,289.3 1056.7,287.9 1057.7,288.0 1058.8,288.7 1059.8,289.0 1060.8,288.5 1061.9,288.3 1062.9,288.4 1064.0,288.4 1065.0,288.1 1066.0,287.7 1067.1,288.9 1068.1,288.8 1069.2,288.4 1070.2,287.9 1071.2,287.8 1072.3,287.6 1073.3,287.4 1074.3,287.4 1075.4,287.6 1076.4,288.3 1077.5,287.8 1078.5,287.7 1079.5,287.3 1080.6,286.5 1081.6,286.3 1082.7,287.0 1083.7,289.0 1084.7,288.9 1085.8,288.0 1086.8,288.4 1087.9,287.9 1088.9,286.8 1089.9,287.2 1091.0,288.1 1092.0,287.7 1093.1,287.4 1094.1,287.7 1095.1,288.0 1096.2,288.3 1097.2,288.8 1098.2,288.6 1099.3,288.4 1100.3,287.9 1101.4,287.8 1102.4,288.2 1103.4,287.7 1104.5,287.6 1105.5,287.7 1106.6,287.6 1107.6,288.0 1108.6,288.3"/><polyline fill="none" stroke="#ff0000" stroke-width="2" stroke-linejoin="round" points="849.9,168.8 851.0,168.9 852.0,170.5 853.1,172.1 854.1,175.5 855.1,200.3 856.2,233.1 857.2,212.6 858.2,185.7 859.3,175.0 860.3,174.8 861.4,175.1 862.4,175.6 863.4,176.1 864.5,177.7 865.5,179.8 866.6,181.4 867.6,179.8 868.6,177.5 869.7,175.2 870.7,175.0 871.8,176.4 872.8,176.7 873.8,174.7 874.9,171.7 875.9,170.1 876.9,169.9 878.0,170.4 879.0,170.4 880.1,169.9 881.1,167.9 882.1,167.5 883.2,166.1 884.2,165.9 885.3,167.0 886.3,167.8 887.3,165.6 888.4,162.3 889.4,159.3 890.5,157.9 891.5,157.0 892.5,156.3 893.6,155.0 894.6,154.2 895.6,152.3 896.7,153.1 897.7,153.2 898.8,152.2 899.8,151.4 900.8,150.1 901.9,149.5 902.9,149.9 904.0,149.8 905.0,149.0 906.0,147.7 907.1,146.7 908.1,146.4 909.2,146.3 910.2,145.8 911.2,144.8 912.3,144.1 913.3,144.0 914.4,143.5 915.4,143.5 916.4,143.0 917.5,142.4 918.5,143.1 919.5,143.5 920.6,142.8 921.6,142.0 922.7,141.8 923.7,140.8 924.7,139.8 925.8,139.8 926.8,138.9 927.9,138.9 928.9,139.2 929.9,138.1 931.0,137.3 932.0,137.0 933.1,137.0 934.1,136.9 935.1,137.0 936.2,136.8 937.2,135.8 938.2,135.1 939.3,134.8 940.3,133.9 941.4,134.1 942.4,134.0 943.4,133.9 944.5,132.5 945.5,132.0 946.6,132.1 947.6,132.6 948.6,131.6 949.7,131.6 950.7,132.2 951.8,132.3 952.8,132.4 953.8,131.5 954.9,130.7 955.9,131.0 956.9,130.8 958.0,131.5 959.0,131.9 960.1,130.2 961.1,128.5 962.1,128.4 963.2,128.7 964.2,127.6 965.3,127.0 966.3,127.0 967.3,126.7 968.4,125.8 969.4,125.6 970.5,125.2 971.5,124.3 972.5,124.3 973.6,123.3 974.6,122.7 975.6,123.3 976.7,122.9 977.7,122.7 978.8,123.4 979.8,122.9 980.8,122.5 981.9,122.3 982.9,121.8 984.0,120.8 985.0,121.2 986.0,120.8 987.1,119.9 988.1,119.6 989.2,120.9 990.2,121.1 991.2,120.6 992.3,119.6 993.3,118.8 994.3,118.8 995.4,118.4 996.4,117.7 997.5,118.1 998.5,117.6 999.5,116.5 1000.6,116.8 1001.6,117.5 1002.7,117.2 1003.7,116.4 1004.7,117.0 1005.8,116.7 1006.8,115.4 1007.9,114.6 1008.9,114.6 1009.9,115.7 1011.0,116.1 1012.0,117.3 1013.1,115.3 1014.1,115.2 1015.1,115.2 1016.2,115.1 1017.2,115.1 1018.2,115.0 1019.3,115.0 1020.3,115.0 1021.4,115.0 1022.4,115.0 1023.4,115.0 1024.5,115.0 1025.5,115.0 1026.6,115.0 1027.6,115.0 1028.6,115.0 1029.7,115.0 1030.7,115.0 1031.8,115.0 1032.8,115.0 1033.8,115.0 1034.9,115.0 1035.9,115.0 1036.9,115.0 1038.0,115.0 1039.0,115.0 1040.1,115.0 1041.1,115.0 1042.1,115.0 1043.2,115.0 1044.2,115.0 1045.3,115.0 1046.3,115.0 1047.3,115.0 1048.4,115.0 1049.4,115.0 1050.5,115.0 1051.5,115.0 1052.5,115.0 1053.6,115.0 1054.6,115.0 1055.6,115.0 1056.7,115.0 1057.7,115.0 1058.8,115.0 1059.8,115.0 1060.8,115.0 1061.9,115.0 1062.9,115.0 1064.0,115.0 1065.0,115.0 1066.0,115.0 1067.1,115.0 1068.1,115.0 1069.2,115.0 1070.2,115.0 1071.2,115.0 1072.3,115.0 1073.3,115.0 1074.3,115.0 1075.4,115.0 1076.4,115.0 1077.5,115.0 1078.5,115.0 1079.5,115.0 1080.6,115.0 1081.6,115.0 1082.7,115.0 1083.7,115.0 1084.7,115.0 1085.8,115.0 1086.8,115.0 1087.9,115.0 1088.9,115.0 1089.9,115.0 1091.0,115.0 1092.0,115.0 1093.1,115.0 1094.1,115.0 1095.1,115.0 1096.2,115.0 1097.2,115.0 1098.2,115.0 1099.3,115.0 1100.3,115.0 1101.4,115.0 1102.4,115.0 1103.4,115.0 1104.5,115.0 1105.5,115.0 1106.6,115.0 1107.6,115.0 1108.6,115.0"/></g>
<g clip-path="url(#c10)"><polygon fill="#0000ff" fill-opacity="0.5" points="167.3,869.3 167.6,859.2 167.9,849.5 168.1,840.8 168.4,833.6 168.6,828.5 168.9,825.2 169.2,822.4 169.4,819.8 169.7,817.3 169.9,815.0 170.2,812.8 170.5,810.7 170.7,808.8 171.0,806.9 171.2,805.0 171.5,803.1 171.8,801.2 172.0,799.1 172.3,797.3 172.5,795.7 172.8,794.3 173.1,792.8 173.3,791.2 173.6,789.6 173.8,788.1 174.5,784.8 175.1,781.7 175.8,778.7 176.4,776.1 177.1,774.2 177.7,772.8 178.4,771.6 179.0,770.6 179.7,769.8 180.3,769.2 181.0,768.4 181.6,767.5 182.3,766.5 182.9,765.4 183.6,764.1 184.2,762.7 184.9,761.4 185.5,760.1 186.2,758.9 186.8,757.8 187.5,756.8 188.1,755.8 188.8,754.7 189.4,753.5 190.1,752.1 190.7,750.6 191.4,748.6 192.0,746.2 192.7,743.7 193.3,741.3 194.0,739.3 194.6,737.3 195.3,735.5 195.9,733.9 196.6,732.3 197.2,731.0 197.9,729.7 198.5,728.6 199.2,727.5 199.8,726.7 200.5,726.0 201.1,724.9 201.8,723.3 202.4,721.4 203.1,719.7 203.7,718.2 204.4,716.7 205.0,715.2 205.7,713.6 206.3,711.9 207.0,710.2 207.6,708.6 208.3,707.2 208.9,705.9 209.6,704.4 210.2,702.7 210.9,701.1 211.5,699.6 212.2,698.3 212.8,697.3 213.5,696.2 214.1,694.8 214.8,693.2 215.4,691.6 216.1,689.9 216.7,688.4 217.4,687.1 218.0,686.0 218.7,684.8 219.3,683.7 220.0,682.5 220.6,681.4 221.3,680.2 221.9,678.8 222.6,677.1 223.2,675.2 223.9,673.3 224.5,671.7 225.2,670.6 225.8,669.6 226.5,668.5 227.1,667.4 227.8,666.2 228.4,664.9 229.1,663.3 229.7,661.7 230.4,660.0 231.0,658.6 231.7,657.2 232.3,655.9 233.0,654.7 233.6,653.5 234.3,652.2 234.9,650.8 235.6,649.6 236.2,648.6 236.9,647.8 237.5,647.0 238.2,646.1 238.8,645.4 239.5,644.6 240.1,643.7 240.8,642.6 241.4,641.6 242.1,640.8 242.7,640.1 243.4,639.2 244.0,638.3 244.7,637.4 245.3,636.7 246.0,636.1 246.6,635.4 247.3,634.8 247.9,634.3 248.6,633.8 249.2,633.2 249.9,632.7 250.5,632.1 251.2,631.7 251.8,631.4 252.5,631.1 253.1,630.3 253.8,629.4 254.4,628.8 255.1,628.8 255.7,628.8 256.4,628.4 257.0,627.9 257.7,627.5 258.3,627.3 259.0,627.0 259.6,626.5 260.3,626.0 260.9,625.5 261.6,624.9 262.2,624.5 262.9,624.4 263.5,624.3 264.2,624.1 264.8,623.6 265.5,623.3 266.1,623.3 266.8,623.2 267.4,622.7 268.1,621.7 268.7,620.7 269.4,620.1 270.0,619.6 270.7,619.3 271.3,619.2 272.0,618.9 272.6,618.2 273.3,617.3 273.9,616.7 274.6,616.8 275.2,617.2 275.9,617.9 276.5,618.5 277.2,619.0 277.8,619.3 278.5,619.4 279.1,619.5 279.8,619.6 280.4,619.7 281.1,619.6 281.7,619.4 282.4,619.0 283.0,618.5 283.7,617.9 284.3,617.5 285.0,617.1 285.6,616.8 286.3,616.6 286.9,616.5 287.6,616.4 288.2,616.4 288.9,616.4 289.5,616.3 290.2,616.0 290.8,615.6 291.5,615.3 292.1,615.2 292.8,615.2 293.4,615.2 294.1,615.2 294.7,615.3 295.4,615.2 296.0,615.1 296.7,615.2 297.3,615.6 298.0,616.0 298.6,616.4 299.3,616.4 299.9,616.2 300.6,615.8 301.2,615.5 301.9,615.7 302.5,616.1 303.2,616.4 303.8,616.6 304.5,616.6 305.1,616.7 305.8,617.0 306.4,617.2 307.1,617.4 307.7,617.4 308.4,617.5 309.0,617.6 309.7,617.5 310.3,617.2 311.0,617.1 311.6,617.2 312.3,617.7 312.9,618.1 313.6,618.1 314.2,617.7 314.9,617.3 315.5,617.3 316.2,617.5 316.8,617.9 317.5,618.1 318.1,618.2 318.8,618.3 319.4,618.4 320.1,618.3 320.7,618.4 321.4,618.7 322.0,619.2 322.7,619.9 323.3,620.3 324.0,620.3 324.6,620.1 325.3,619.9 325.9,619.8 326.6,619.9 327.2,620.1 327.9,620.2 328.5,620.1 329.2,619.9 329.8,619.8 330.5,619.4 331.1,618.9 331.8,618.6 332.4,618.6 333.1,618.8 333.7,619.1 334.4,619.3 335.0,619.3 335.7,619.4 336.3,619.4 337.0,619.2 337.6,619.0 338.3,618.8 338.9,618.7 339.6,618.6 340.2,618.7 340.9,618.9 341.5,618.9 342.2,619.1 342.8,619.4 343.5,619.7 344.1,619.8 344.8,619.7 345.4,619.3 346.1,618.7 346.7,618.1 347.4,617.6 348.0,617.3 348.7,617.2 349.3,617.5 350.0,617.8 350.6,618.1 351.3,618.3 351.9,618.2 352.6,618.2 353.2,618.4 353.9,618.6 354.5,618.6 355.2,618.5 355.8,618.4 356.5,618.8 357.1,619.4 357.8,619.7 358.4,619.7 359.1,619.5 359.7,619.3 360.4,619.1 361.0,619.0 361.7,618.9 362.3,618.9 363.0,619.0 363.6,619.1 364.3,619.2 364.9,619.2 365.6,619.1 366.2,619.3 366.9,619.6 367.5,619.9 368.2,620.0 368.8,619.9 369.5,619.7 370.1,619.5 370.8,619.2 371.4,619.0 372.1,619.0 372.7,619.2 373.4,619.6 374.0,619.8 374.7,620.0 375.3,620.2 376.0,620.2 376.6,619.8 377.3,619.2 377.9,618.9 378.6,618.9 379.2,619.0 379.9,619.0 380.5,619.1 381.2,619.0 381.8,619.0 382.5,619.0 383.1,618.9 383.8,618.9 384.4,619.1 385.1,619.6 385.7,620.2 386.4,620.6 387.0,620.7 387.7,620.8 388.3,621.0 389.0,621.0 389.6,621.1 390.3,621.3 390.9,621.7 391.6,622.1 392.2,622.7 392.9,623.4 393.5,624.0 394.2,624.3 394.8,624.6 395.5,625.2 396.1,625.8 396.8,626.5 397.4,627.2 398.1,628.4 398.7,629.9 399.4,631.1 400.0,632.0 400.7,632.4 401.3,632.7 402.0,633.2 402.6,633.7 403.3,634.1 403.9,634.2 404.6,634.1 405.2,634.0 405.9,633.9 406.5,633.8 407.2,633.9 407.8,634.0 408.5,634.2 409.1,634.4 409.8,634.7 410.4,634.8 411.1,634.7 411.7,634.7 412.4,634.9 413.0,635.0 413.7,635.1 414.3,635.1 415.0,635.2 415.6,635.1 416.3,635.0 416.9,635.0 417.6,634.9 418.2,634.9 418.9,635.2 419.5,635.8 420.2,636.3 420.8,636.3 421.5,635.9 422.1,635.5 422.8,635.3 423.4,635.3 424.1,635.6 424.7,636.0 425.4,636.5 426.0,636.8 426.0,678.6 425.4,679.4 424.7,680.2 424.1,680.6 423.4,681.2 422.8,682.4 422.1,683.5 421.5,683.9 420.8,683.8 420.2,683.5 419.5,683.5 418.9,683.9 418.2,684.4 417.6,684.7 416.9,684.9 416.3,684.8 415.6,684.6 415.0,684.8 414.3,684.9 413.7,685.0 413.0,685.1 412.4,684.6 411.7,683.9 411.1,683.6 410.4,683.8 409.8,684.5 409.1,685.4 408.5,686.1 407.8,685.8 407.2,685.0 406.5,684.4 405.9,683.9 405.2,683.7 404.6,684.4 403.9,685.7 403.3,686.8 402.6,687.4 402.0,687.4 401.3,687.2 400.7,687.7 400.0,689.3 399.4,691.4 398.7,693.1 398.1,694.1 397.4,694.4 396.8,694.6 396.1,695.1 395.5,696.0 394.8,697.3 394.2,698.8 393.5,699.9 392.9,700.5 392.2,700.8 391.6,701.8 390.9,702.8 390.3,703.0 389.6,702.5 389.0,702.0 388.3,701.1 387.7,700.2 387.0,699.9 386.4,700.2 385.7,700.2 385.1,699.3 384.4,698.4 383.8,698.2 383.1,698.3 382.5,698.5 381.8,698.9 381.2,699.4 380.5,699.3 379.9,698.9 379.2,698.6 378.6,698.9 377.9,699.1 377.3,698.7 376.6,698.5 376.0,698.9 375.3,699.8 374.7,700.5 374.0,700.8 373.4,701.0 372.7,701.3 372.1,701.4 371.4,700.8 370.8,700.0 370.1,699.6 369.5,699.7 368.8,700.1 368.2,700.3 367.5,700.2 366.9,700.0 366.2,699.8 365.6,700.4 364.9,701.3 364.3,701.4 363.6,700.6 363.0,699.9 362.3,699.7 361.7,699.5 361.0,698.7 360.4,697.6 359.7,696.6 359.1,696.1 358.4,696.6 357.8,697.4 357.1,698.2 356.5,698.9 355.8,699.4 355.2,699.2 354.5,698.5 353.9,698.1 353.2,698.0 352.6,697.9 351.9,697.6 351.3,697.7 350.6,698.2 350.0,698.5 349.3,698.6 348.7,698.7 348.0,698.7 347.4,698.2 346.7,697.6 346.1,697.6 345.4,698.1 344.8,698.7 344.1,698.8 343.5,698.8 342.8,699.0 342.2,699.1 341.5,699.0 340.9,698.7 340.2,698.6 339.6,698.5 338.9,698.2 338.3,698.5 337.6,699.9 337.0,701.3 336.3,702.2 335.7,702.3 335.0,701.3 334.4,700.5 333.7,700.4 333.1,699.8 332.4,699.1 331.8,699.5 331.1,700.5 330.5,700.7 329.8,700.2 329.2,699.9 328.5,700.0 327.9,700.6 327.2,700.9 326.6,700.4 325.9,699.8 325.3,699.8 324.6,699.8 324.0,699.6 323.3,699.2 322.7,698.9 322.0,698.9 321.4,699.0 320.7,699.2 320.1,699.6 319.4,700.0 318.8,700.5 318.1,701.0 317.5,701.3 316.8,700.8 316.2,699.8 315.5,699.3 314.9,699.3 314.2,699.6 313.6,700.1 312.9,700.8 312.3,700.8 311.6,700.5 311.0,700.8 310.3,701.2 309.7,701.2 309.0,701.4 308.4,701.8 307.7,701.9 307.1,701.5 306.4,701.4 305.8,702.0 305.1,702.9 304.5,703.3 303.8,703.2 303.2,703.0 302.5,703.3 301.9,704.3 301.2,705.5 300.6,706.7 299.9,707.5 299.3,707.4 298.6,706.7 298.0,706.0 297.3,706.0 296.7,706.7 296.0,707.6 295.4,708.4 294.7,709.1 294.1,709.9 293.4,711.0 292.8,712.1 292.1,713.0 291.5,713.2 290.8,712.9 290.2,713.1 289.5,713.7 288.9,714.1 288.2,714.2 287.6,714.0 286.9,714.0 286.3,715.2 285.6,717.0 285.0,718.1 284.3,718.3 283.7,718.0 283.0,717.9 282.4,718.0 281.7,718.5 281.1,719.4 280.4,720.8 279.8,722.2 279.1,723.3 278.5,723.9 277.8,724.1 277.2,723.8 276.5,723.8 275.9,724.6 275.2,725.7 274.6,726.7 273.9,727.4 273.3,728.4 272.6,729.8 272.0,731.2 271.3,732.0 270.7,732.3 270.0,732.3 269.4,732.5 268.7,733.0 268.1,733.3 267.4,733.4 266.8,733.2 266.1,733.1 265.5,733.9 264.8,735.1 264.2,736.3 263.5,737.1 262.9,737.6 262.2,738.2 261.6,738.4 260.9,738.1 260.3,738.3 259.6,739.4 259.0,741.0 258.3,741.9 257.7,742.0 257.0,742.1 256.4,742.7 255.7,744.0 255.1,745.6 254.4,747.1 253.8,748.5 253.1,749.5 252.5,749.9 251.8,749.9 251.2,749.8 250.5,750.0 249.9,750.8 249.2,752.5 248.6,754.1 247.9,754.6 247.3,755.5 246.6,757.1 246.0,758.1 245.3,758.2 244.7,757.9 244.0,757.6 243.4,758.1 242.7,759.8 242.1,761.8 241.4,763.3 240.8,764.1 240.1,764.4 239.5,764.6 238.8,764.9 238.2,765.4 237.5,766.5 236.9,767.4 236.2,767.9 235.6,768.4 234.9,769.1 234.3,769.6 233.6,769.8 233.0,769.7 232.3,769.5 231.7,769.5 231.0,769.5 230.4,769.8 229.7,770.6 229.1,771.5 228.4,771.8 227.8,772.4 227.1,773.8 226.5,774.9 225.8,775.5 225.2,776.2 224.5,777.0 223.9,777.9 223.2,779.3 222.6,780.7 221.9,781.3 221.3,781.3 220.6,781.7 220.0,782.3 219.3,782.5 218.7,782.5 218.0,782.9 217.4,783.9 216.7,785.1 216.1,785.9 215.4,785.8 214.8,785.2 214.1,785.1 213.5,785.7 212.8,786.4 212.2,787.3 211.5,788.5 210.9,789.5 210.2,790.4 209.6,791.7 208.9,793.0 208.3,793.5 207.6,793.6 207.0,793.6 206.3,793.4 205.7,793.8 205.0,795.1 204.4,796.4 203.7,797.6 203.1,799.0 202.4,800.0 201.8,800.5 201.1,801.2 200.5,802.2 199.8,803.1 199.2,804.0 198.5,804.7 197.9,805.0 197.2,805.0 196.6,805.1 195.9,805.3 195.3,805.9 194.6,807.1 194.0,808.4 193.3,809.4 192.7,810.2 192.0,811.0 191.4,811.5 190.7,811.5 190.1,811.3 189.4,811.5 188.8,812.3 188.1,813.4 187.5,814.4 186.8,815.0 186.2,815.2 185.5,815.3 184.9,816.0 184.2,816.9 183.6,817.6 182.9,818.2 182.3,818.5 181.6,819.0 181.0,819.8 180.3,820.8 179.7,821.9 179.0,823.0 178.4,824.2 177.7,824.9 177.1,825.0 176.4,825.1 175.8,825.5 175.1,826.3 174.5,827.4 173.8,828.3 173.6,828.6 173.3,828.9 173.1,829.2 172.8,829.3 172.5,829.8 172.3,830.5 172.0,830.4 171.8,829.7 171.5,830.5 171.2,833.8 171.0,838.8 170.7,844.5 170.5,850.0 170.2,855.5 169.9,861.5 169.7,867.5 169.4,873.1 169.2,878.2 168.9,882.2 168.6,885.1 168.4,887.9 168.1,890.6 167.9,892.8 167.6,894.2 167.3,895.0"/><polygon fill="#ff0000" fill-opacity="0.5" points="167.3,792.5 167.6,786.3 167.9,780.4 168.1,774.7 168.4,769.3 168.6,763.9 168.9,758.7 169.2,753.6 169.4,748.8 169.7,744.2 169.9,740.0 170.2,736.4 170.5,733.2 170.7,730.2 171.0,727.3 171.2,724.5 171.5,721.9 171.8,719.3 172.0,716.9 172.3,715.0 172.5,713.4 172.8,711.8 173.1,710.2 173.3,708.5 173.6,707.0 173.8,705.5 174.5,702.1 175.1,698.6 175.8,695.2 176.4,692.1 177.1,689.4 177.7,687.1 178.4,684.8 179.0,682.3 179.7,680.0 180.3,677.9 181.0,676.0 181.6,674.0 182.3,671.9 182.9,669.9 183.6,668.3 184.2,666.9 184.9,665.7 185.5,664.5 186.2,663.2 186.8,661.8 187.5,660.4 188.1,659.2 188.8,658.2 189.4,657.3 190.1,656.5 190.7,655.6 191.4,654.8 192.0,654.0 192.7,653.2 193.3,652.6 194.0,652.0 194.6,651.5 195.3,650.9 195.9,650.3 196.6,649.8 197.2,649.2 197.9,648.7 198.5,648.3 199.2,647.7 199.8,647.1 200.5,646.5 201.1,646.1 201.8,645.8 202.4,645.5 203.1,645.2 203.7,644.8 204.4,644.3 205.0,643.8 205.7,643.4 206.3,643.1 207.0,642.9 207.6,642.8 208.3,642.8 208.9,642.7 209.6,642.5 210.2,642.3 210.9,642.1 211.5,642.0 212.2,641.8 212.8,641.6 213.5,641.6 214.1,641.5 214.8,641.5 215.4,641.4 216.1,641.3 216.7,641.3 217.4,641.1 218.0,640.9 218.7,640.6 219.3,640.5 220.0,640.4 220.6,640.3 221.3,640.2 221.9,640.1 222.6,640.0 223.2,639.9 223.9,639.8 224.5,639.8 225.2,639.8 225.8,639.8 226.5,639.7 227.1,639.4 227.8,639.1 228.4,638.9 229.1,638.8 229.7,638.7 230.4,638.6 231.0,638.5 231.7,638.4 232.3,638.2 233.0,637.9 233.6,637.7 234.3,637.7 234.9,637.7 235.6,637.8 236.2,637.9 236.9,637.9 237.5,638.0 238.2,638.0 238.8,638.0 239.5,638.0 240.1,637.8 240.8,637.5 241.4,637.3 242.1,637.4 242.7,637.5 243.4,637.5 244.0,637.4 244.7,637.2 245.3,637.0 246.0,636.9 246.6,636.7 247.3,636.5 247.9,636.4 248.6,636.4 249.2,636.4 249.9,636.3 250.5,636.1 251.2,636.0 251.8,635.9 252.5,635.5 253.1,635.0 253.8,634.7 254.4,634.5 255.1,634.5 255.7,634.4 256.4,634.2 257.0,634.0 257.7,633.7 258.3,633.4 259.0,633.3 259.6,633.3 260.3,633.3 260.9,633.2 261.6,633.1 262.2,632.8 262.9,632.5 263.5,632.3 264.2,632.2 264.8,632.1 265.5,632.0 266.1,631.9 266.8,631.8 267.4,631.9 268.1,631.8 268.7,631.7 269.4,631.6 270.0,631.7 270.7,631.7 271.3,631.6 272.0,631.6 272.6,631.6 273.3,631.5 273.9,631.4 274.6,631.3 275.2,631.2 275.9,631.1 276.5,630.9 277.2,630.7 277.8,630.6 278.5,630.8 279.1,630.9 279.8,631.0 280.4,630.9 281.1,630.6 281.7,630.3 282.4,629.9 283.0,629.6 283.7,629.5 284.3,629.6 285.0,629.6 285.6,629.6 286.3,629.6 286.9,629.8 287.6,629.9 288.2,629.9 288.9,629.8 289.5,629.5 290.2,629.2 290.8,629.0 291.5,628.9 292.1,628.7 292.8,628.5 293.4,628.4 294.1,628.4 294.7,628.4 295.4,628.3 296.0,628.1 296.7,627.8 297.3,627.7 298.0,627.6 298.6,627.6 299.3,627.5 299.9,627.5 300.6,627.5 301.2,627.5 301.9,627.4 302.5,627.2 303.2,626.9 303.8,626.7 304.5,626.5 305.1,626.6 305.8,626.7 306.4,626.7 307.1,626.5 307.7,626.1 308.4,625.8 309.0,625.5 309.7,625.3 310.3,625.1 311.0,624.9 311.6,624.7 312.3,624.4 312.9,624.1 313.6,624.0 314.2,623.9 314.9,623.9 315.5,623.8 316.2,623.8 316.8,623.7 317.5,623.6 318.1,623.6 318.8,623.5 319.4,623.3 320.1,623.0 320.7,622.7 321.4,622.5 322.0,622.3 322.7,622.4 323.3,622.5 324.0,622.5 324.6,622.4 325.3,622.3 325.9,622.2 326.6,622.2 327.2,622.2 327.9,622.0 328.5,621.9 329.2,621.7 329.8,621.6 330.5,621.5 331.1,621.6 331.8,621.7 332.4,621.8 333.1,621.8 333.7,621.7 334.4,621.6 335.0,621.5 335.7,621.3 336.3,621.0 337.0,620.7 337.6,620.5 338.3,620.5 338.9,620.6 339.6,620.6 340.2,620.5 340.9,620.4 341.5,620.5 342.2,620.7 342.8,620.9 343.5,620.9 344.1,620.8 344.8,620.7 345.4,620.7 346.1,620.8 346.7,620.9 347.4,620.9 348.0,620.7 348.7,620.5 349.3,620.4 350.0,620.4 350.6,620.3 351.3,620.2 351.9,620.1 352.6,620.0 353.2,620.0 353.9,619.9 354.5,619.8 355.2,619.7 355.8,619.7 356.5,619.8 357.1,619.7 357.8,619.6 358.4,619.6 359.1,619.5 359.7,619.4 360.4,619.2 361.0,619.2 361.7,619.2 362.3,619.3 363.0,619.2 363.6,619.2 364.3,619.1 364.9,619.1 365.6,619.1 366.2,619.1 366.9,619.1 367.5,619.1 368.2,619.3 368.8,619.4 369.5,619.5 370.1,619.5 370.8,619.3 371.4,619.1 372.1,618.9 372.7,618.9 373.4,619.1 374.0,619.2 374.7,619.2 375.3,619.0 376.0,618.8 376.6,618.6 377.3,618.3 377.9,618.2 378.6,618.2 379.2,618.3 379.9,618.4 380.5,618.5 381.2,618.5 381.8,618.5 382.5,618.6 383.1,618.6 383.8,618.6 384.4,618.6 385.1,618.4 385.7,618.3 386.4,618.2 387.0,618.3 387.7,618.3 388.3,618.2 389.0,618.2 389.6,618.2 390.3,618.4 390.9,618.5 391.6,618.7 392.2,618.6 392.9,618.4 393.5,618.2 394.2,618.0 394.8,617.9 395.5,617.9 396.1,617.9 396.8,618.0 397.4,618.2 398.1,618.2 398.7,618.2 399.4,618.3 400.0,618.4 400.7,618.5 401.3,618.5 402.0,618.4 402.6,618.1 403.3,617.9 403.9,617.7 404.6,617.7 405.2,617.7 405.9,617.7 406.5,617.6 407.2,617.5 407.8,617.3 408.5,617.3 409.1,617.5 409.8,617.8 410.4,618.0 411.1,618.0 411.7,617.9 412.4,617.8 413.0,617.8 413.7,617.8 414.3,618.0 415.0,618.0 415.6,617.9 416.3,617.8 416.9,617.7 417.6,617.7 418.2,617.7 418.9,617.5 419.5,617.4 420.2,617.4 420.8,617.6 421.5,617.8 422.1,617.9 422.8,617.9 423.4,618.0 424.1,618.0 424.7,618.1 425.4,618.1 426.0,618.2 426.0,643.0 425.4,643.2 424.7,643.3 424.1,643.3 423.4,643.2 422.8,643.3 422.1,643.5 421.5,643.9 420.8,644.3 420.2,644.5 419.5,644.5 418.9,644.4 418.2,644.3 417.6,644.4 416.9,644.6 416.3,644.7 415.6,644.8 415.0,644.8 414.3,644.9 413.7,644.8 413.0,644.8 412.4,644.8 411.7,644.8 411.1,644.9 410.4,645.2 409.8,645.4 409.1,645.4 408.5,645.2 407.8,645.1 407.2,645.2 406.5,645.3 405.9,645.2 405.2,644.9 404.6,644.8 403.9,644.9 403.3,645.1 402.6,645.2 402.0,645.3 401.3,645.5 400.7,645.7 400.0,645.6 399.4,645.4 398.7,645.3 398.1,645.5 397.4,645.6 396.8,645.6 396.1,645.7 395.5,646.0 394.8,646.4 394.2,646.7 393.5,646.9 392.9,646.9 392.2,646.9 391.6,646.8 390.9,646.7 390.3,646.7 389.6,646.6 389.0,646.6 388.3,646.7 387.7,646.7 387.0,646.8 386.4,647.0 385.7,647.2 385.1,647.4 384.4,647.4 383.8,647.3 383.1,647.3 382.5,647.3 381.8,647.5 381.2,647.6 380.5,647.6 379.9,647.6 379.2,647.7 378.6,647.6 377.9,647.4 377.3,647.3 376.6,647.4 376.0,647.7 375.3,647.9 374.7,648.0 374.0,648.2 373.4,648.3 372.7,648.3 372.1,648.0 371.4,647.8 370.8,647.8 370.1,648.1 369.5,648.3 368.8,648.5 368.2,648.6 367.5,648.8 366.9,649.0 366.2,649.0 365.6,648.7 364.9,648.4 364.3,648.4 363.6,648.5 363.0,648.7 362.3,648.9 361.7,649.1 361.0,649.2 360.4,649.4 359.7,649.4 359.1,649.3 358.4,649.2 357.8,649.2 357.1,649.5 356.5,649.8 355.8,649.9 355.2,649.9 354.5,649.9 353.9,649.8 353.2,649.8 352.6,649.8 351.9,649.7 351.3,649.7 350.6,649.9 350.0,650.1 349.3,650.1 348.7,650.0 348.0,649.9 347.4,649.9 346.7,650.1 346.1,650.2 345.4,650.2 344.8,650.1 344.1,650.1 343.5,650.1 342.8,650.1 342.2,650.2 341.5,650.3 340.9,650.4 340.2,650.5 339.6,650.7 338.9,650.8 338.3,650.9 337.6,650.9 337.0,651.0 336.3,651.1 335.7,651.4 335.0,651.7 334.4,651.9 333.7,652.0 333.1,651.9 332.4,651.8 331.8,651.8 331.1,651.9 330.5,652.1 329.8,652.1 329.2,652.1 328.5,652.2 327.9,652.4 327.2,652.4 326.6,652.2 325.9,651.9 325.3,651.6 324.6,651.6 324.0,651.9 323.3,652.4 322.7,652.9 322.0,653.2 321.4,653.5 320.7,653.5 320.1,653.5 319.4,653.4 318.8,653.4 318.1,653.4 317.5,653.5 316.8,653.7 316.2,653.9 315.5,654.0 314.9,654.2 314.2,654.3 313.6,654.3 312.9,654.3 312.3,654.4 311.6,654.6 311.0,654.8 310.3,655.0 309.7,655.2 309.0,655.4 308.4,655.5 307.7,655.5 307.1,655.5 306.4,655.6 305.8,655.7 305.1,655.9 304.5,656.2 303.8,656.5 303.2,656.7 302.5,656.8 301.9,656.8 301.2,656.8 300.6,656.6 299.9,656.5 299.3,656.4 298.6,656.6 298.0,656.9 297.3,657.1 296.7,657.2 296.0,657.4 295.4,657.5 294.7,657.6 294.1,657.5 293.4,657.5 292.8,657.5 292.1,657.5 291.5,657.5 290.8,657.6 290.2,657.5 289.5,657.4 288.9,657.3 288.2,657.4 287.6,657.7 286.9,657.8 286.3,657.8 285.6,657.8 285.0,657.8 284.3,658.0 283.7,658.2 283.0,658.3 282.4,658.4 281.7,658.6 281.1,658.8 280.4,658.9 279.8,658.8 279.1,658.6 278.5,658.5 277.8,658.4 277.2,658.4 276.5,658.4 275.9,658.4 275.2,658.3 274.6,658.1 273.9,658.1 273.3,658.1 272.6,658.2 272.0,658.2 271.3,658.0 270.7,657.8 270.0,657.7 269.4,657.9 268.7,658.2 268.1,658.5 267.4,658.7 266.8,658.5 266.1,658.4 265.5,658.4 264.8,658.4 264.2,658.4 263.5,658.4 262.9,658.4 262.2,658.4 261.6,658.5 260.9,658.6 260.3,658.7 259.6,658.8 259.0,658.9 258.3,658.9 257.7,659.0 257.0,659.0 256.4,659.1 255.7,659.1 255.1,659.0 254.4,658.7 253.8,658.5 253.1,658.4 252.5,658.5 251.8,658.7 251.2,658.9 250.5,659.1 249.9,659.2 249.2,659.2 248.6,659.2 247.9,659.3 247.3,659.3 246.6,659.3 246.0,659.3 245.3,659.5 244.7,659.7 244.0,659.8 243.4,660.0 242.7,660.2 242.1,660.4 241.4,660.5 240.8,660.6 240.1,660.7 239.5,660.7 238.8,660.8 238.2,661.1 237.5,661.5 236.9,661.8 236.2,662.0 235.6,662.1 234.9,662.2 234.3,662.3 233.6,662.5 233.0,662.9 232.3,663.1 231.7,663.3 231.0,663.5 230.4,663.8 229.7,664.0 229.1,664.3 228.4,664.5 227.8,664.8 227.1,665.0 226.5,665.1 225.8,665.3 225.2,665.6 224.5,666.0 223.9,666.3 223.2,666.5 222.6,666.6 221.9,666.6 221.3,666.7 220.6,666.9 220.0,667.3 219.3,667.7 218.7,668.0 218.0,668.3 217.4,668.6 216.7,669.1 216.1,669.6 215.4,670.1 214.8,670.3 214.1,670.4 213.5,670.6 212.8,670.9 212.2,671.2 211.5,671.5 210.9,671.9 210.2,672.3 209.6,672.8 208.9,673.4 208.3,674.0 207.6,674.6 207.0,675.2 206.3,675.8 205.7,676.3 205.0,676.7 204.4,677.2 203.7,677.8 203.1,678.5 202.4,679.3 201.8,680.1 201.1,680.9 200.5,681.8 199.8,682.6 199.2,683.5 198.5,684.5 197.9,685.7 197.2,686.8 196.6,687.6 195.9,688.3 195.3,689.0 194.6,689.8 194.0,690.7 193.3,691.5 192.7,692.4 192.0,693.3 191.4,694.1 190.7,694.7 190.1,695.2 189.4,696.0 188.8,696.9 188.1,697.9 187.5,698.9 186.8,699.8 186.2,700.8 185.5,701.9 184.9,703.2 184.2,704.6 183.6,706.2 182.9,707.7 182.3,709.1 181.6,710.6 181.0,712.3 180.3,714.1 179.7,716.1 179.0,718.2 178.4,720.3 177.7,722.4 177.1,724.6 176.4,727.0 175.8,729.6 175.1,732.4 174.5,735.3 173.8,738.6 173.6,740.2 173.3,741.8 173.1,743.5 172.8,745.1 172.5,746.8 172.3,748.4 172.0,750.0 171.8,751.6 171.5,753.4 171.2,755.2 171.0,757.1 170.7,759.3 170.5,761.9 170.2,764.6 169.9,767.3 169.7,770.1 169.4,773.2 169.2,776.4 168.9,779.7 168.6,783.0 168.4,786.4 168.1,789.8 167.9,793.1 167.6,796.5 167.3,800.1"/><polygon fill="#008000" fill-opacity="0.5" points="167.3,760.9 167.6,754.0 167.9,747.2 168.1,740.7 168.4,734.6 168.6,729.2 168.9,724.4 169.2,720.4 169.4,716.9 169.7,713.9 169.9,711.2 170.2,708.9 170.5,706.9 170.7,705.1 171.0,703.5 171.2,701.9 171.5,700.3 171.8,698.6 172.0,697.0 172.3,695.5 172.5,694.1 172.8,692.7 173.1,691.4 173.3,690.3 173.6,689.2 173.8,688.2 174.5,685.4 175.1,682.5 175.8,679.4 176.4,676.4 177.1,673.2 177.7,669.9 178.4,666.5 179.0,663.3 179.7,660.9 180.3,659.2 181.0,657.7 181.6,656.3 182.3,654.8 182.9,653.3 183.6,652.0 184.2,650.9 184.9,650.0 185.5,649.2 186.2,648.3 186.8,647.2 187.5,646.1 188.1,645.1 188.8,644.3 189.4,643.5 190.1,642.7 190.7,642.0 191.4,641.5 192.0,641.1 192.7,640.9 193.3,640.6 194.0,640.3 194.6,640.0 195.3,639.7 195.9,639.5 196.6,639.4 197.2,639.2 197.9,639.1 198.5,638.8 199.2,638.6 199.8,638.3 200.5,638.1 201.1,638.0 201.8,637.8 202.4,637.6 203.1,637.5 203.7,637.3 204.4,637.3 205.0,637.3 205.7,637.4 206.3,637.5 207.0,637.6 207.6,637.7 208.3,637.7 208.9,637.8 209.6,638.0 210.2,638.3 210.9,638.5 211.5,638.5 212.2,638.3 212.8,638.2 213.5,638.3 214.1,638.3 214.8,638.2 215.4,638.1 216.1,638.1 216.7,638.0 217.4,637.9 218.0,637.7 218.7,637.7 219.3,637.9 220.0,638.1 220.6,638.2 221.3,638.3 221.9,638.3 222.6,638.4 223.2,638.4 223.9,638.3 224.5,638.2 225.2,638.1 225.8,638.0 226.5,638.0 227.1,638.0 227.8,638.0 228.4,637.9 229.1,637.8 229.7,637.8 230.4,637.8 231.0,637.8 231.7,637.8 232.3,637.9 233.0,638.1 233.6,638.0 234.3,637.6 234.9,637.3 235.6,637.0 236.2,637.0 236.9,637.2 237.5,637.3 238.2,637.3 238.8,637.4 239.5,637.4 240.1,637.5 240.8,637.4 241.4,637.2 242.1,637.0 242.7,637.1 243.4,637.3 244.0,637.5 244.7,637.4 245.3,637.2 246.0,637.1 246.6,637.0 247.3,637.0 247.9,637.1 248.6,637.0 249.2,636.9 249.9,636.7 250.5,636.7 251.2,636.6 251.8,636.6 252.5,636.7 253.1,636.8 253.8,636.8 254.4,636.9 255.1,637.1 255.7,637.3 256.4,637.2 257.0,636.9 257.7,636.6 258.3,636.6 259.0,636.7 259.6,636.8 260.3,636.8 260.9,636.6 261.6,636.5 262.2,636.3 262.9,636.4 263.5,636.5 264.2,636.7 264.8,636.9 265.5,637.0 266.1,637.1 266.8,637.0 267.4,636.8 268.1,636.6 268.7,636.6 269.4,636.7 270.0,636.7 270.7,636.7 271.3,636.7 272.0,636.7 272.6,636.7 273.3,636.6 273.9,636.6 274.6,636.5 275.2,636.6 275.9,636.7 276.5,636.7 277.2,636.5 277.8,636.3 278.5,636.2 279.1,636.1 279.8,636.1 280.4,636.1 281.1,636.2 281.7,636.3 282.4,636.3 283.0,636.3 283.7,636.1 284.3,635.9 285.0,635.8 285.6,635.7 286.3,635.7 286.9,635.6 287.6,635.7 288.2,635.8 288.9,636.0 289.5,636.3 290.2,636.4 290.8,636.4 291.5,636.4 292.1,636.2 292.8,636.0 293.4,635.8 294.1,635.6 294.7,635.6 295.4,635.7 296.0,635.7 296.7,635.7 297.3,635.6 298.0,635.7 298.6,635.8 299.3,635.8 299.9,635.7 300.6,635.6 301.2,635.4 301.9,635.4 302.5,635.4 303.2,635.4 303.8,635.5 304.5,635.7 305.1,635.7 305.8,635.5 306.4,635.4 307.1,635.4 307.7,635.4 308.4,635.5 309.0,635.5 309.7,635.5 310.3,635.6 311.0,635.6 311.6,635.6 312.3,635.5 312.9,635.2 313.6,634.8 314.2,634.6 314.9,634.6 315.5,634.8 316.2,634.8 316.8,634.8 317.5,634.8 318.1,634.9 318.8,635.0 319.4,635.1 320.1,635.2 320.7,635.3 321.4,635.4 322.0,635.5 322.7,635.5 323.3,635.3 324.0,634.9 324.6,634.6 325.3,634.6 325.9,634.8 326.6,634.9 327.2,634.9 327.9,634.9 328.5,634.7 329.2,634.6 329.8,634.5 330.5,634.4 331.1,634.3 331.8,634.3 332.4,634.4 333.1,634.4 333.7,634.6 334.4,634.8 335.0,634.9 335.7,634.8 336.3,634.5 337.0,634.1 337.6,633.6 338.3,633.4 338.9,633.4 339.6,633.7 340.2,633.8 340.9,633.9 341.5,633.9 342.2,633.8 342.8,633.6 343.5,633.3 344.1,633.1 344.8,633.1 345.4,633.2 346.1,633.4 346.7,633.5 347.4,633.7 348.0,633.8 348.7,633.7 349.3,633.7 350.0,633.7 350.6,633.6 351.3,633.5 351.9,633.5 352.6,633.4 353.2,633.5 353.9,633.5 354.5,633.5 355.2,633.5 355.8,633.5 356.5,633.4 357.1,633.4 357.8,633.4 358.4,633.4 359.1,633.5 359.7,633.6 360.4,633.7 361.0,633.7 361.7,633.5 362.3,633.2 363.0,633.0 363.6,633.0 364.3,633.1 364.9,633.2 365.6,633.2 366.2,633.1 366.9,632.9 367.5,632.7 368.2,632.3 368.8,632.0 369.5,632.0 370.1,632.1 370.8,632.2 371.4,632.4 372.1,632.5 372.7,632.7 373.4,632.7 374.0,632.6 374.7,632.6 375.3,632.6 376.0,632.5 376.6,632.4 377.3,632.3 377.9,632.2 378.6,632.4 379.2,632.5 379.9,632.4 380.5,632.2 381.2,632.1 381.8,632.0 382.5,632.0 383.1,632.2 383.8,632.4 384.4,632.4 385.1,632.3 385.7,632.2 386.4,632.2 387.0,632.3 387.7,632.5 388.3,632.4 389.0,632.1 389.6,631.9 390.3,632.0 390.9,632.1 391.6,632.0 392.2,631.8 392.9,631.5 393.5,631.2 394.2,631.1 394.8,631.2 395.5,631.3 396.1,631.4 396.8,631.4 397.4,631.5 398.1,631.6 398.7,631.8 399.4,631.8 400.0,631.8 400.7,631.7 401.3,631.6 402.0,631.5 402.6,631.7 403.3,631.9 403.9,632.0 404.6,631.9 405.2,631.7 405.9,631.5 406.5,631.4 407.2,631.4 407.8,631.5 408.5,631.6 409.1,631.7 409.8,631.7 410.4,631.7 411.1,631.8 411.7,631.8 412.4,631.8 413.0,631.7 413.7,631.6 414.3,631.3 415.0,631.0 415.6,630.9 416.3,630.9 416.9,630.9 417.6,630.9 418.2,631.0 418.9,630.9 419.5,630.9 420.2,630.8 420.8,630.8 421.5,630.8 422.1,631.0 422.8,631.2 423.4,631.3 424.1,631.3 424.7,631.0 425.4,630.8 426.0,630.7 426.0,652.4 425.4,652.8 424.7,653.1 424.1,653.1 423.4,653.1 422.8,653.2 422.1,653.3 421.5,653.3 420.8,653.2 420.2,653.2 419.5,653.2 418.9,653.1 418.2,653.1 417.6,653.1 416.9,653.2 416.3,653.4 415.6,653.4 415.0,653.3 414.3,653.2 413.7,653.2 413.0,653.3 412.4,653.5 411.7,653.5 411.1,653.5 410.4,653.5 409.8,653.5 409.1,653.5 408.5,653.6 407.8,653.8 407.2,654.0 406.5,654.2 405.9,654.4 405.2,654.4 404.6,654.4 403.9,654.4 403.3,654.4 402.6,654.3 402.0,654.2 401.3,654.2 400.7,654.5 400.0,654.7 399.4,654.7 398.7,654.6 398.1,654.6 397.4,654.7 396.8,654.8 396.1,654.6 395.5,654.3 394.8,654.2 394.2,654.3 393.5,654.4 392.9,654.5 392.2,654.7 391.6,654.9 390.9,655.1 390.3,655.2 389.6,655.2 389.0,655.2 388.3,655.2 387.7,655.2 387.0,655.1 386.4,655.1 385.7,655.2 385.1,655.3 384.4,655.6 383.8,655.8 383.1,655.9 382.5,655.9 381.8,655.7 381.2,655.7 380.5,655.9 379.9,656.2 379.2,656.4 378.6,656.3 377.9,656.2 377.3,656.1 376.6,656.2 376.0,656.3 375.3,656.4 374.7,656.5 374.0,656.6 373.4,656.7 372.7,656.9 372.1,657.2 371.4,657.3 370.8,657.3 370.1,657.2 369.5,657.2 368.8,657.2 368.2,657.3 367.5,657.3 366.9,657.2 366.2,657.0 365.6,656.9 364.9,656.9 364.3,657.0 363.6,657.1 363.0,657.3 362.3,657.4 361.7,657.5 361.0,657.5 360.4,657.4 359.7,657.3 359.1,657.4 358.4,657.6 357.8,657.9 357.1,658.1 356.5,658.2 355.8,658.1 355.2,658.0 354.5,657.9 353.9,657.9 353.2,658.0 352.6,658.1 351.9,658.2 351.3,658.2 350.6,658.2 350.0,658.2 349.3,658.3 348.7,658.5 348.0,658.7 347.4,658.7 346.7,658.7 346.1,658.7 345.4,658.7 344.8,658.6 344.1,658.7 343.5,659.0 342.8,659.2 342.2,659.3 341.5,659.3 340.9,659.1 340.2,659.2 339.6,659.4 338.9,659.7 338.3,659.9 337.6,659.9 337.0,659.8 336.3,659.5 335.7,659.3 335.0,659.2 334.4,659.2 333.7,659.3 333.1,659.4 332.4,659.6 331.8,659.9 331.1,660.1 330.5,660.1 329.8,660.1 329.2,660.1 328.5,660.1 327.9,660.2 327.2,660.4 326.6,660.5 325.9,660.5 325.3,660.5 324.6,660.6 324.0,660.7 323.3,660.7 322.7,660.7 322.0,660.8 321.4,661.0 320.7,661.3 320.1,661.4 319.4,661.4 318.8,661.4 318.1,661.5 317.5,661.6 316.8,661.7 316.2,661.6 315.5,661.5 314.9,661.4 314.2,661.4 313.6,661.6 312.9,661.9 312.3,662.0 311.6,662.1 311.0,662.1 310.3,662.0 309.7,661.8 309.0,661.7 308.4,661.8 307.7,661.9 307.1,662.0 306.4,662.1 305.8,662.2 305.1,662.3 304.5,662.4 303.8,662.5 303.2,662.7 302.5,662.7 301.9,662.8 301.2,662.9 300.6,663.1 299.9,663.3 299.3,663.4 298.6,663.2 298.0,663.0 297.3,662.8 296.7,662.9 296.0,663.1 295.4,663.4 294.7,663.6 294.1,663.6 293.4,663.5 292.8,663.6 292.1,663.7 291.5,663.7 290.8,663.6 290.2,663.5 289.5,663.6 288.9,663.7 288.2,663.8 287.6,664.0 286.9,664.2 286.3,664.4 285.6,664.4 285.0,664.2 284.3,663.9 283.7,663.8 283.0,663.9 282.4,663.9 281.7,663.8 281.1,663.7 280.4,663.7 279.8,663.8 279.1,664.0 278.5,664.1 277.8,664.2 277.2,664.3 276.5,664.4 275.9,664.5 275.2,664.6 274.6,664.5 273.9,664.4 273.3,664.5 272.6,664.7 272.0,665.0 271.3,665.3 270.7,665.5 270.0,665.5 269.4,665.5 268.7,665.3 268.1,665.0 267.4,664.8 266.8,664.7 266.1,664.7 265.5,664.8 264.8,664.9 264.2,665.0 263.5,665.1 262.9,665.2 262.2,665.2 261.6,665.1 260.9,665.1 260.3,665.2 259.6,665.3 259.0,665.3 258.3,665.4 257.7,665.6 257.0,665.7 256.4,665.7 255.7,665.7 255.1,665.6 254.4,665.7 253.8,665.6 253.1,665.5 252.5,665.6 251.8,665.7 251.2,665.7 250.5,665.5 249.9,665.4 249.2,665.4 248.6,665.3 247.9,665.3 247.3,665.4 246.6,665.5 246.0,665.8 245.3,666.2 244.7,666.5 244.0,666.7 243.4,666.8 242.7,666.9 242.1,667.0 241.4,667.1 240.8,667.1 240.1,667.1 239.5,667.0 238.8,667.0 238.2,667.0 237.5,667.4 236.9,668.1 236.2,668.9 235.6,669.6 234.9,670.0 234.3,670.2 233.6,670.3 233.0,670.4 232.3,670.5 231.7,670.7 231.0,670.9 230.4,671.1 229.7,671.5 229.1,671.8 228.4,672.2 227.8,672.6 227.1,673.0 226.5,673.5 225.8,673.8 225.2,674.1 224.5,674.4 223.9,674.8 223.2,675.3 222.6,675.8 221.9,676.3 221.3,676.9 220.6,677.5 220.0,678.0 219.3,678.3 218.7,678.7 218.0,679.2 217.4,679.7 216.7,680.2 216.1,680.5 215.4,680.8 214.8,681.2 214.1,681.5 213.5,681.9 212.8,682.1 212.2,682.5 211.5,683.1 210.9,684.0 210.2,684.7 209.6,685.4 208.9,685.9 208.3,686.5 207.6,687.1 207.0,687.7 206.3,688.2 205.7,688.6 205.0,689.1 204.4,689.8 203.7,690.4 203.1,690.9 202.4,691.2 201.8,691.8 201.1,692.5 200.5,693.3 199.8,694.1 199.2,694.7 198.5,695.1 197.9,695.6 197.2,696.4 196.6,697.4 195.9,698.5 195.3,699.4 194.6,700.2 194.0,700.8 193.3,701.7 192.7,702.6 192.0,703.6 191.4,704.5 190.7,705.3 190.1,706.2 189.4,707.2 188.8,708.2 188.1,709.2 187.5,710.4 186.8,711.5 186.2,712.6 185.5,713.7 184.9,714.8 184.2,715.7 183.6,716.7 182.9,717.9 182.3,719.1 181.6,720.2 181.0,721.2 180.3,722.3 179.7,723.6 179.0,725.1 178.4,726.7 177.7,728.5 177.1,730.3 176.4,732.2 175.8,734.1 175.1,736.1 174.5,738.2 173.8,740.7 173.6,741.7 173.3,742.8 173.1,743.9 172.8,744.9 172.5,745.9 172.3,746.8 172.0,747.9 171.8,749.1 171.5,750.5 171.2,752.0 171.0,753.6 170.7,755.2 170.5,757.0 170.2,758.8 169.9,760.7 169.7,762.7 169.4,764.7 169.2,766.7 168.9,768.9 168.6,771.2 168.4,773.7 168.1,776.1 167.9,778.6 167.6,781.1 167.3,783.7"/><polyline fill="none" stroke="#0000ff" stroke-width="2" stroke-linejoin="round" points="167.3,875.4 167.6,867.4 167.9,859.7 168.1,853.0 168.4,847.4 168.6,843.3 168.9,840.0 169.2,837.0 169.4,834.2 169.7,831.5 169.9,828.9 170.2,826.7 170.5,824.8 170.7,823.2 171.0,821.6 171.2,820.1 171.5,818.5 171.8,817.0 172.0,815.5 172.3,814.1 172.5,812.6 172.8,811.0 173.1,809.4 173.3,807.9 173.6,806.8 173.8,805.8 174.5,803.7 175.1,802.1 175.8,800.7 176.4,799.5 177.1,798.4 177.7,797.3 178.4,796.2 179.0,794.9 179.7,793.8 180.3,792.9 181.0,792.3 181.6,791.8 182.3,791.1 182.9,790.1 183.6,789.2 184.2,788.4 184.9,787.8 185.5,787.1 186.2,786.4 186.8,785.4 187.5,784.4 188.1,783.3 188.8,782.4 189.4,781.7 190.1,781.1 190.7,780.4 191.4,779.6 192.0,778.6 192.7,777.5 193.3,776.3 194.0,775.0 194.6,773.7 195.3,772.3 195.9,771.0 196.6,769.6 197.2,768.3 197.9,767.0 198.5,765.9 199.2,764.8 199.8,763.7 200.5,762.6 201.1,761.4 201.8,760.3 202.4,759.1 203.1,757.9 203.7,756.8 204.4,755.7 205.0,754.6 205.7,753.7 206.3,752.9 207.0,752.4 207.6,751.9 208.3,751.3 208.9,750.4 209.6,749.1 210.2,747.5 210.9,745.8 211.5,744.5 212.2,743.3 212.8,742.3 213.5,741.4 214.1,740.6 214.8,739.8 215.4,738.9 216.1,737.9 216.7,736.8 217.4,735.6 218.0,734.4 218.7,733.3 219.3,732.3 220.0,731.3 220.6,730.3 221.3,729.5 221.9,728.6 222.6,727.6 223.2,726.4 223.9,725.2 224.5,724.1 225.2,723.2 225.8,722.3 226.5,721.6 227.1,720.8 227.8,720.0 228.4,719.1 229.1,718.3 229.7,717.6 230.4,716.9 231.0,716.2 231.7,715.4 232.3,714.7 233.0,714.0 233.6,713.3 234.3,712.5 234.9,711.5 235.6,710.4 236.2,709.2 236.9,708.0 237.5,706.8 238.2,705.9 238.8,705.3 239.5,704.6 240.1,703.8 240.8,703.1 241.4,702.5 242.1,701.8 242.7,701.1 243.4,700.4 244.0,699.8 244.7,699.5 245.3,699.3 246.0,699.0 246.6,698.4 247.3,697.5 247.9,696.5 248.6,695.6 249.2,694.8 249.9,694.1 250.5,693.5 251.2,692.9 251.8,692.3 252.5,691.5 253.1,690.6 253.8,689.5 254.4,688.6 255.1,687.8 255.7,687.1 256.4,686.5 257.0,685.9 257.7,685.2 258.3,684.5 259.0,683.8 259.6,683.3 260.3,682.8 260.9,682.3 261.6,681.7 262.2,681.0 262.9,680.3 263.5,679.6 264.2,679.3 264.8,679.1 265.5,678.9 266.1,678.3 266.8,677.6 267.4,677.1 268.1,676.7 268.7,676.2 269.4,675.5 270.0,674.9 270.7,674.4 271.3,674.0 272.0,673.7 272.6,673.5 273.3,673.3 273.9,673.1 274.6,672.7 275.2,672.4 275.9,672.3 276.5,672.1 277.2,671.8 277.8,671.2 278.5,670.7 279.1,670.3 279.8,670.0 280.4,669.7 281.1,669.2 281.7,668.6 282.4,668.1 283.0,667.6 283.7,667.2 284.3,666.5 285.0,665.8 285.6,665.3 286.3,665.0 286.9,664.9 287.6,664.6 288.2,664.2 288.9,663.9 289.5,663.8 290.2,663.8 290.8,663.7 291.5,663.4 292.1,663.2 292.8,663.0 293.4,662.7 294.1,662.2 294.7,661.7 295.4,661.4 296.0,661.1 296.7,660.8 297.3,660.6 298.0,660.4 298.6,660.2 299.3,659.9 299.9,659.5 300.6,659.1 301.2,659.0 301.9,659.2 302.5,659.6 303.2,659.8 303.8,659.7 304.5,659.5 305.1,659.3 305.8,659.2 306.4,659.2 307.1,659.3 307.7,659.4 308.4,659.4 309.0,659.2 309.7,659.1 310.3,659.3 311.0,659.5 311.6,659.9 312.3,660.2 312.9,660.4 313.6,660.3 314.2,660.1 314.9,660.1 315.5,660.2 316.2,660.3 316.8,660.4 317.5,660.5 318.1,660.6 318.8,660.6 319.4,660.5 320.1,660.3 320.7,660.1 321.4,660.0 322.0,660.2 322.7,660.4 323.3,660.5 324.0,660.5 324.6,660.3 325.3,660.2 325.9,660.3 326.6,660.4 327.2,660.4 327.9,660.4 328.5,660.4 329.2,660.3 329.8,660.0 330.5,659.7 331.1,659.6 331.8,659.9 332.4,660.1 333.1,660.2 333.7,660.1 334.4,659.8 335.0,659.7 335.7,659.5 336.3,659.3 337.0,659.2 337.6,659.2 338.3,659.2 338.9,659.2 339.6,659.0 340.2,658.7 340.9,658.6 341.5,658.6 342.2,658.7 342.8,658.7 343.5,658.8 344.1,658.8 344.8,658.7 345.4,658.3 346.1,657.8 346.7,657.2 347.4,656.8 348.0,656.8 348.7,657.0 349.3,657.4 350.0,657.6 350.6,657.8 351.3,657.8 351.9,657.7 352.6,657.7 353.2,657.6 353.9,657.5 354.5,657.2 355.2,657.1 355.8,657.3 356.5,657.5 357.1,657.8 357.8,658.0 358.4,658.1 359.1,658.2 359.7,658.3 360.4,658.5 361.0,658.6 361.7,658.8 362.3,659.0 363.0,659.1 363.6,659.1 364.3,659.0 364.9,659.0 365.6,658.9 366.2,658.9 366.9,658.9 367.5,659.0 368.2,659.1 368.8,659.1 369.5,659.1 370.1,659.1 370.8,659.0 371.4,659.0 372.1,658.9 372.7,658.8 373.4,658.8 374.0,658.9 374.7,658.9 375.3,658.8 376.0,658.6 376.6,658.4 377.3,658.3 377.9,658.3 378.6,658.1 379.2,657.9 379.9,657.6 380.5,657.5 381.2,657.4 381.8,657.4 382.5,657.5 383.1,657.6 383.8,657.7 384.4,658.1 385.1,658.6 385.7,659.0 386.4,659.3 387.0,659.5 387.7,659.9 388.3,660.4 389.0,660.9 389.6,661.2 390.3,661.3 390.9,661.3 391.6,661.4 392.2,661.5 392.9,661.6 393.5,661.6 394.2,661.3 394.8,660.8 395.5,660.2 396.1,659.8 396.8,659.7 397.4,659.6 398.1,659.4 398.7,659.0 399.4,658.6 400.0,658.2 400.7,658.0 401.3,657.9 402.0,657.8 402.6,657.8 403.3,657.8 403.9,657.7 404.6,657.5 405.2,657.2 405.9,657.0 406.5,656.9 407.2,656.9 407.8,657.1 408.5,657.3 409.1,657.5 409.8,657.6 410.4,657.3 411.1,656.8 411.7,656.4 412.4,656.3 413.0,656.6 413.7,656.8 414.3,656.9 415.0,657.1 415.6,657.3 416.3,657.7 416.9,658.2 417.6,658.5 418.2,658.3 418.9,657.9 419.5,657.6 420.2,657.7 420.8,658.0 421.5,658.1 422.1,658.1 422.8,657.8 423.4,657.5 424.1,657.2 424.7,657.0 425.4,656.8 426.0,656.6"/><polyline fill="none" stroke="#ff0000" stroke-width="2" stroke-linejoin="round" points="167.3,795.4 167.6,785.3 167.9,776.3 168.1,768.8 168.4,762.7 168.6,757.2 168.9,752.4 169.2,748.4 169.4,745.3 169.7,742.6 169.9,740.2 170.2,738.0 170.5,736.0 170.7,734.1 171.0,732.4 171.2,730.8 171.5,729.2 171.8,727.6 172.0,726.0 172.3,724.4 172.5,722.9 172.8,721.5 173.1,720.1 173.3,718.8 173.6,717.5 173.8,716.3 174.5,713.4 175.1,710.8 175.8,708.3 176.4,706.0 177.1,703.8 177.7,701.7 178.4,699.7 179.0,697.9 179.7,696.1 180.3,694.4 181.0,692.9 181.6,691.4 182.3,690.0 182.9,688.6 183.6,687.3 184.2,686.0 184.9,684.7 185.5,683.4 186.2,682.2 186.8,681.0 187.5,679.9 188.1,678.7 188.8,677.6 189.4,676.4 190.1,675.3 190.7,674.1 191.4,672.9 192.0,671.7 192.7,670.5 193.3,669.4 194.0,668.4 194.6,667.5 195.3,666.7 195.9,666.0 196.6,665.4 197.2,664.7 197.9,664.1 198.5,663.6 199.2,663.0 199.8,662.5 200.5,662.0 201.1,661.5 201.8,660.9 202.4,660.4 203.1,659.9 203.7,659.4 204.4,659.0 205.0,658.5 205.7,658.1 206.3,657.7 207.0,657.3 207.6,656.9 208.3,656.6 208.9,656.2 209.6,655.9 210.2,655.6 210.9,655.3 211.5,655.0 212.2,654.8 212.8,654.5 213.5,654.3 214.1,654.1 214.8,653.8 215.4,653.6 216.1,653.5 216.7,653.3 217.4,653.1 218.0,653.0 218.7,652.9 219.3,652.8 220.0,652.7 220.6,652.6 221.3,652.5 221.9,652.4 222.6,652.4 223.2,652.3 223.9,652.2 224.5,652.1 225.2,652.0 225.8,652.0 226.5,651.9 227.1,651.8 227.8,651.7 228.4,651.6 229.1,651.5 229.7,651.4 230.4,651.3 231.0,651.2 231.7,651.1 232.3,651.0 233.0,650.9 233.6,650.8 234.3,650.7 234.9,650.6 235.6,650.5 236.2,650.4 236.9,650.3 237.5,650.2 238.2,650.1 238.8,650.0 239.5,649.9 240.1,649.8 240.8,649.7 241.4,649.6 242.1,649.5 242.7,649.4 243.4,649.3 244.0,649.2 244.7,649.1 245.3,649.0 246.0,648.9 246.6,648.8 247.3,648.7 247.9,648.5 248.6,648.4 249.2,648.3 249.9,648.2 250.5,648.1 251.2,648.0 251.8,647.9 252.5,647.8 253.1,647.7 253.8,647.6 254.4,647.5 255.1,647.4 255.7,647.3 256.4,647.2 257.0,647.1 257.7,647.0 258.3,646.9 259.0,646.8 259.6,646.7 260.3,646.6 260.9,646.5 261.6,646.4 262.2,646.3 262.9,646.2 263.5,646.2 264.2,646.1 264.8,646.0 265.5,645.9 266.1,645.8 266.8,645.7 267.4,645.6 268.1,645.5 268.7,645.4 269.4,645.3 270.0,645.3 270.7,645.2 271.3,645.1 272.0,645.0 272.6,644.9 273.3,644.8 273.9,644.7 274.6,644.6 275.2,644.5 275.9,644.5 276.5,644.4 277.2,644.3 277.8,644.2 278.5,644.1 279.1,644.0 279.8,643.9 280.4,643.8 281.1,643.7 281.7,643.6 282.4,643.6 283.0,643.5 283.7,643.4 284.3,643.3 285.0,643.2 285.6,643.2 286.3,643.1 286.9,643.0 287.6,642.9 288.2,642.9 288.9,642.8 289.5,642.8 290.2,642.7 290.8,642.7 291.5,642.6 292.1,642.6 292.8,642.6 293.4,642.5 294.1,642.5 294.7,642.5 295.4,642.4 296.0,642.4 296.7,642.4 297.3,642.3 298.0,642.3 298.6,642.3 299.3,642.2 299.9,642.2 300.6,642.1 301.2,642.1 301.9,642.0 302.5,641.9 303.2,641.9 303.8,641.8 304.5,641.7 305.1,641.6 305.8,641.5 306.4,641.4 307.1,641.3 307.7,641.2 308.4,641.1 309.0,641.0 309.7,640.9 310.3,640.8 311.0,640.7 311.6,640.6 312.3,640.5 312.9,640.4 313.6,640.2 314.2,640.1 314.9,640.0 315.5,639.9 316.2,639.8 316.8,639.6 317.5,639.5 318.1,639.4 318.8,639.3 319.4,639.2 320.1,639.0 320.7,638.9 321.4,638.8 322.0,638.7 322.7,638.5 323.3,638.4 324.0,638.3 324.6,638.2 325.3,638.1 325.9,638.0 326.6,637.9 327.2,637.8 327.9,637.7 328.5,637.6 329.2,637.5 329.8,637.4 330.5,637.3 331.1,637.2 331.8,637.1 332.4,637.0 333.1,636.9 333.7,636.8 334.4,636.7 335.0,636.6 335.7,636.5 336.3,636.4 337.0,636.3 337.6,636.2 338.3,636.1 338.9,636.1 339.6,636.0 340.2,635.9 340.9,635.8 341.5,635.7 342.2,635.6 342.8,635.5 343.5,635.4 344.1,635.3 344.8,635.3 345.4,635.2 346.1,635.1 346.7,635.0 347.4,634.9 348.0,634.8 348.7,634.7 349.3,634.6 350.0,634.6 350.6,634.5 351.3,634.4 351.9,634.3 352.6,634.2 353.2,634.2 353.9,634.1 354.5,634.0 355.2,633.9 355.8,633.8 356.5,633.8 357.1,633.7 357.8,633.6 358.4,633.5 359.1,633.5 359.7,633.4 360.4,633.3 361.0,633.3 361.7,633.2 362.3,633.1 363.0,633.0 363.6,633.0 364.3,632.9 364.9,632.8 365.6,632.8 366.2,632.7 366.9,632.7 367.5,632.6 368.2,632.5 368.8,632.5 369.5,632.4 370.1,632.3 370.8,632.3 371.4,632.2 372.1,632.1 372.7,632.1 373.4,632.0 374.0,632.0 374.7,631.9 375.3,631.8 376.0,631.8 376.6,631.7 377.3,631.7 377.9,631.6 378.6,631.6 379.2,631.5 379.9,631.4 380.5,631.4 381.2,631.3 381.8,631.3 382.5,631.2 383.1,631.2 383.8,631.1 384.4,631.1 385.1,631.0 385.7,631.0 386.4,630.9 387.0,630.9 387.7,630.8 388.3,630.8 389.0,630.7 389.6,630.7 390.3,630.6 390.9,630.6 391.6,630.5 392.2,630.5 392.9,630.4 393.5,630.4 394.2,630.3 394.8,630.3 395.5,630.2 396.1,630.2 396.8,630.2 397.4,630.1 398.1,630.1 398.7,630.0 399.4,630.0 400.0,630.0 400.7,629.9 401.3,629.9 402.0,629.8 402.6,629.8 403.3,629.7 403.9,629.7 404.6,629.7 405.2,629.6 405.9,629.6 406.5,629.6 407.2,629.5 407.8,629.5 408.5,629.4 409.1,629.4 409.8,629.4 410.4,629.3 411.1,629.3 411.7,629.3 412.4,629.2 413.0,629.2 413.7,629.2 414.3,629.1 415.0,629.1 415.6,629.1 416.3,629.0 416.9,629.0 417.6,629.0 418.2,628.9 418.9,628.9 419.5,628.9 420.2,628.8 420.8,628.8 421.5,628.8 422.1,628.8 422.8,628.7 423.4,628.7 424.1,628.7 424.7,628.6 425.4,628.6 426.0,628.6"/><polyline fill="none" stroke="#008000" stroke-width="2" stroke-linejoin="round" points="167.3,772.8 167.6,763.8 167.9,755.8 168.1,749.6 168.4,744.9 168.6,740.7 168.9,737.0 169.2,733.8 169.4,731.0 169.7,728.6 169.9,726.6 170.2,724.8 170.5,723.1 170.7,721.6 171.0,720.2 171.2,718.9 171.5,717.7 171.8,716.6 172.0,715.5 172.3,714.4 172.5,713.4 172.8,712.3 173.1,711.3 173.3,710.3 173.6,709.3 173.8,708.3 174.5,706.0 175.1,703.9 175.8,701.8 176.4,699.8 177.1,697.9 177.7,696.1 178.4,694.3 179.0,692.5 179.7,690.8 180.3,689.2 181.0,687.6 181.6,686.2 182.3,684.8 182.9,683.6 183.6,682.4 184.2,681.2 184.9,680.0 185.5,679.0 186.2,677.9 186.8,676.9 187.5,676.0 188.1,675.2 188.8,674.4 189.4,673.7 190.1,673.1 190.7,672.5 191.4,671.9 192.0,671.4 192.7,670.9 193.3,670.5 194.0,670.0 194.6,669.6 195.3,669.1 195.9,668.7 196.6,668.3 197.2,668.0 197.9,667.6 198.5,667.2 199.2,666.9 199.8,666.5 200.5,666.1 201.1,665.8 201.8,665.4 202.4,665.0 203.1,664.6 203.7,664.2 204.4,663.8 205.0,663.5 205.7,663.1 206.3,662.7 207.0,662.4 207.6,662.0 208.3,661.7 208.9,661.3 209.6,661.0 210.2,660.7 210.9,660.4 211.5,660.1 212.2,659.8 212.8,659.6 213.5,659.4 214.1,659.2 214.8,659.1 215.4,658.9 216.1,658.8 216.7,658.6 217.4,658.5 218.0,658.4 218.7,658.2 219.3,658.1 220.0,657.9 220.6,657.8 221.3,657.7 221.9,657.5 222.6,657.4 223.2,657.3 223.9,657.1 224.5,657.0 225.2,656.8 225.8,656.7 226.5,656.5 227.1,656.3 227.8,656.1 228.4,655.9 229.1,655.6 229.7,655.4 230.4,655.3 231.0,655.1 231.7,655.0 232.3,654.8 233.0,654.7 233.6,654.6 234.3,654.5 234.9,654.4 235.6,654.4 236.2,654.3 236.9,654.2 237.5,654.1 238.2,654.0 238.8,653.9 239.5,653.9 240.1,653.8 240.8,653.7 241.4,653.7 242.1,653.6 242.7,653.6 243.4,653.5 244.0,653.5 244.7,653.4 245.3,653.4 246.0,653.3 246.6,653.3 247.3,653.2 247.9,653.2 248.6,653.2 249.2,653.1 249.9,653.1 250.5,653.1 251.2,653.0 251.8,653.0 252.5,653.0 253.1,652.9 253.8,652.9 254.4,652.9 255.1,652.8 255.7,652.8 256.4,652.8 257.0,652.8 257.7,652.7 258.3,652.7 259.0,652.7 259.6,652.7 260.3,652.7 260.9,652.6 261.6,652.6 262.2,652.6 262.9,652.6 263.5,652.6 264.2,652.6 264.8,652.6 265.5,652.6 266.1,652.6 266.8,652.6 267.4,652.6 268.1,652.6 268.7,652.6 269.4,652.6 270.0,652.6 270.7,652.6 271.3,652.6 272.0,652.6 272.6,652.6 273.3,652.6 273.9,652.6 274.6,652.6 275.2,652.6 275.9,652.6 276.5,652.6 277.2,652.6 277.8,652.6 278.5,652.6 279.1,652.6 279.8,652.6 280.4,652.6 281.1,652.6 281.7,652.6 282.4,652.6 283.0,652.6 283.7,652.6 284.3,652.6 285.0,652.6 285.6,652.6 286.3,652.6 286.9,652.6 287.6,652.6 288.2,652.6 288.9,652.6 289.5,652.6 290.2,652.6 290.8,652.6 291.5,652.6 292.1,652.6 292.8,652.6 293.4,652.6 294.1,652.6 294.7,652.5 295.4,652.5 296.0,652.5 296.7,652.5 297.3,652.4 298.0,652.4 298.6,652.4 299.3,652.4 299.9,652.3 300.6,652.3 301.2,652.3 301.9,652.3 302.5,652.2 303.2,652.2 303.8,652.1 304.5,652.1 305.1,652.0 305.8,652.0 306.4,651.9 307.1,651.9 307.7,651.8 308.4,651.8 309.0,651.7 309.7,651.7 310.3,651.6 311.0,651.5 311.6,651.5 312.3,651.4 312.9,651.3 313.6,651.2 314.2,651.2 314.9,651.1 315.5,651.0 316.2,651.0 316.8,650.9 317.5,650.8 318.1,650.7 318.8,650.7 319.4,650.6 320.1,650.5 320.7,650.4 321.4,650.4 322.0,650.3 322.7,650.2 323.3,650.2 324.0,650.1 324.6,650.0 325.3,650.0 325.9,649.9 326.6,649.8 327.2,649.8 327.9,649.7 328.5,649.6 329.2,649.6 329.8,649.5 330.5,649.5 331.1,649.4 331.8,649.4 332.4,649.3 333.1,649.2 333.7,649.2 334.4,649.1 335.0,649.1 335.7,649.0 336.3,649.0 337.0,648.9 337.6,648.9 338.3,648.8 338.9,648.8 339.6,648.7 340.2,648.7 340.9,648.6 341.5,648.6 342.2,648.5 342.8,648.5 343.5,648.4 344.1,648.4 344.8,648.3 345.4,648.3 346.1,648.2 346.7,648.2 347.4,648.1 348.0,648.1 348.7,648.0 349.3,648.0 350.0,647.9 350.6,647.9 351.3,647.8 351.9,647.8 352.6,647.7 353.2,647.7 353.9,647.6 354.5,647.6 355.2,647.5 355.8,647.5 356.5,647.4 357.1,647.4 357.8,647.3 358.4,647.3 359.1,647.2 359.7,647.2 360.4,647.1 361.0,647.1 361.7,647.0 362.3,647.0 363.0,646.9 363.6,646.9 364.3,646.8 364.9,646.8 365.6,646.7 366.2,646.7 366.9,646.6 367.5,646.6 368.2,646.5 368.8,646.5 369.5,646.4 370.1,646.4 370.8,646.3 371.4,646.3 372.1,646.2 372.7,646.2 373.4,646.1 374.0,646.1 374.7,646.0 375.3,646.0 376.0,645.9 376.6,645.9 377.3,645.8 377.9,645.8 378.6,645.7 379.2,645.7 379.9,645.6 380.5,645.6 381.2,645.5 381.8,645.5 382.5,645.4 383.1,645.4 383.8,645.3 384.4,645.3 385.1,645.2 385.7,645.2 386.4,645.1 387.0,645.1 387.7,645.0 388.3,645.0 389.0,644.9 389.6,644.9 390.3,644.8 390.9,644.7 391.6,644.7 392.2,644.6 392.9,644.6 393.5,644.5 394.2,644.5 394.8,644.4 395.5,644.4 396.1,644.3 396.8,644.3 397.4,644.2 398.1,644.2 398.7,644.1 399.4,644.0 400.0,644.0 400.7,643.9 401.3,643.9 402.0,643.8 402.6,643.8 403.3,643.7 403.9,643.6 404.6,643.6 405.2,643.5 405.9,643.5 406.5,643.4 407.2,643.4 407.8,643.3 408.5,643.2 409.1,643.2 409.8,643.1 410.4,643.1 411.1,643.0 411.7,642.9 412.4,642.9 413.0,642.8 413.7,642.8 414.3,642.7 415.0,642.6 415.6,642.6 416.3,642.5 416.9,642.5 417.6,642.4 418.2,642.3 418.9,642.3 419.5,642.2 420.2,642.2 420.8,642.1 421.5,642.0 422.1,642.0 422.8,641.9 423.4,641.8 424.1,641.8 424.7,641.7 425.4,641.7 426.0,641.6"/></g>
<g clip-path="url(#c11)"><polygon fill="#0000ff" fill-opacity="0.5" points="508.6,823.6 508.9,816.3 509.2,809.0 509.4,801.9 509.7,795.1 509.9,788.7 510.2,782.8 510.5,777.5 510.7,772.9 511.0,769.2 511.2,766.5 511.5,764.4 511.8,762.5 512.0,760.6 512.3,759.0 512.5,757.5 512.8,756.0 513.1,754.7 513.3,753.3 513.6,752.0 513.8,750.8 514.1,749.6 514.4,748.5 514.6,747.5 514.9,746.6 515.1,745.7 515.8,743.6 516.4,741.5 517.1,739.3 517.7,737.3 518.4,735.4 519.0,733.6 519.7,731.9 520.3,730.3 521.0,728.8 521.6,727.3 522.3,725.8 522.9,724.2 523.6,722.6 524.2,721.0 524.9,719.4 525.5,718.0 526.2,716.6 526.8,715.2 527.5,713.9 528.1,712.5 528.8,711.2 529.4,709.9 530.1,708.6 530.7,707.3 531.4,706.1 532.0,704.9 532.7,703.9 533.3,702.9 534.0,701.8 534.6,700.7 535.3,699.6 535.9,698.6 536.6,697.6 537.2,696.8 537.9,696.1 538.5,695.4 539.2,694.7 539.8,693.9 540.5,693.0 541.1,692.1 541.8,691.1 542.4,690.0 543.1,688.8 543.7,687.5 544.4,686.1 545.0,684.9 545.7,683.8 546.3,683.0 547.0,682.5 547.6,682.1 548.3,681.7 548.9,681.3 549.6,680.9 550.2,680.5 550.9,680.0 551.5,679.5 552.2,678.9 552.8,678.0 553.5,677.0 554.1,675.9 554.8,675.0 555.4,674.2 556.1,673.5 556.7,672.9 557.4,672.3 558.0,671.8 558.7,671.4 559.3,671.1 560.0,670.6 560.6,670.2 561.3,669.6 561.9,669.1 562.6,668.6 563.2,668.2 563.9,667.7 564.5,667.2 565.2,666.5 565.8,665.9 566.5,665.2 567.1,664.6 567.8,664.1 568.4,663.6 569.1,663.1 569.7,662.6 570.4,662.1 571.0,661.7 571.7,661.2 572.3,660.8 573.0,660.4 573.6,659.9 574.3,659.3 574.9,658.8 575.6,658.3 576.2,657.9 576.9,657.5 577.5,657.2 578.2,657.0 578.8,656.7 579.5,656.4 580.1,656.0 580.8,655.6 581.4,655.2 582.1,654.8 582.7,654.4 583.4,654.1 584.0,653.8 584.7,653.5 585.3,653.3 586.0,653.1 586.6,653.0 587.3,653.0 587.9,653.0 588.6,653.0 589.2,652.9 589.9,652.8 590.5,652.6 591.2,652.5 591.8,652.3 592.5,652.3 593.1,652.2 593.8,652.1 594.4,652.0 595.1,652.0 595.7,652.1 596.4,652.1 597.0,652.1 597.7,652.1 598.3,651.9 599.0,651.8 599.6,651.7 600.3,651.7 600.9,651.7 601.6,651.6 602.2,651.5 602.9,651.3 603.5,651.2 604.2,651.2 604.8,651.3 605.5,651.3 606.1,651.3 606.8,651.2 607.4,651.1 608.1,650.9 608.7,650.7 609.4,650.5 610.0,650.5 610.7,650.5 611.3,650.6 612.0,650.7 612.6,650.6 613.3,650.5 613.9,650.4 614.6,650.2 615.2,650.0 615.9,649.8 616.5,649.7 617.2,649.6 617.8,649.6 618.5,649.7 619.1,649.7 619.8,649.7 620.4,649.7 621.1,649.6 621.7,649.5 622.4,649.4 623.0,649.4 623.7,649.3 624.3,649.2 625.0,649.1 625.6,649.1 626.3,649.2 626.9,649.2 627.6,649.3 628.2,649.3 628.9,649.2 629.5,649.2 630.2,649.0 630.8,648.8 631.5,648.6 632.1,648.5 632.8,648.3 633.4,648.2 634.1,648.0 634.7,647.8 635.4,647.6 636.0,647.5 636.7,647.4 637.3,647.4 638.0,647.5 638.6,647.6 639.3,647.6 639.9,647.5 640.6,647.3 641.2,647.1 641.9,646.9 642.5,646.7 643.2,646.7 643.8,646.7 644.5,646.8 645.1,646.9 645.8,647.0 646.4,647.1 647.1,647.1 647.7,647.1 648.4,647.0 649.0,646.9 649.7,646.8 650.3,646.7 651.0,646.6 651.6,646.5 652.3,646.3 652.9,646.2 653.6,646.2 654.2,646.1 654.9,646.0 655.5,645.9 656.2,645.9 656.8,645.9 657.5,646.0 658.1,646.1 658.8,646.1 659.4,646.1 660.1,646.1 660.7,646.2 661.4,646.2 662.0,646.1 662.7,646.0 663.3,645.9 664.0,645.7 664.6,645.5 665.3,645.4 665.9,645.2 666.6,645.1 667.2,645.1 667.9,645.2 668.5,645.3 669.2,645.3 669.8,645.3 670.5,645.3 671.1,645.3 671.8,645.4 672.4,645.4 673.1,645.4 673.7,645.4 674.4,645.3 675.0,645.2 675.7,645.1 676.3,645.0 677.0,645.0 677.6,645.1 678.3,645.2 678.9,645.2 679.6,645.2 680.2,645.2 680.9,645.2 681.5,645.1 682.2,645.1 682.8,645.2 683.5,645.2 684.1,645.3 684.8,645.3 685.4,645.2 686.1,645.2 686.7,645.1 687.4,645.1 688.0,645.1 688.7,645.1 689.3,645.1 690.0,645.1 690.6,645.0 691.3,645.0 691.9,645.0 692.6,644.9 693.2,644.9 693.9,644.8 694.5,644.7 695.2,644.7 695.8,644.7 696.5,644.6 697.1,644.5 697.8,644.4 698.4,644.3 699.1,644.2 699.7,644.3 700.4,644.5 701.0,644.8 701.7,645.0 702.3,645.0 703.0,645.1 703.6,645.0 704.3,645.0 704.9,644.9 705.6,644.7 706.2,644.5 706.9,644.2 707.5,643.9 708.2,643.8 708.8,643.8 709.5,643.8 710.1,643.9 710.8,644.1 711.4,644.3 712.1,644.4 712.7,644.4 713.4,644.4 714.0,644.3 714.7,644.2 715.3,644.1 716.0,644.0 716.6,643.9 717.3,643.8 717.9,643.6 718.6,643.4 719.2,643.3 719.9,643.3 720.5,643.4 721.2,643.6 721.8,643.9 722.5,644.0 723.1,644.2 723.8,644.3 724.4,644.3 725.1,644.3 725.7,644.2 726.4,644.1 727.0,644.0 727.7,643.9 728.3,643.9 729.0,643.9 729.6,643.8 730.3,643.7 730.9,643.6 731.6,643.5 732.2,643.4 732.9,643.4 733.5,643.4 734.2,643.4 734.8,643.5 735.5,643.5 736.1,643.6 736.8,643.8 737.4,643.8 738.1,643.7 738.7,643.5 739.4,643.2 740.0,643.0 740.7,642.9 741.3,642.9 742.0,643.0 742.6,643.1 743.3,643.1 743.9,643.0 744.6,642.9 745.2,642.8 745.9,642.8 746.5,642.8 747.2,642.9 747.8,642.9 748.5,642.9 749.1,642.8 749.8,642.6 750.4,642.4 751.1,642.3 751.7,642.3 752.4,642.3 753.0,642.4 753.7,642.4 754.3,642.5 755.0,642.5 755.6,642.5 756.3,642.6 756.9,642.6 757.6,642.6 758.2,642.5 758.9,642.5 759.5,642.4 760.2,642.3 760.8,642.1 761.5,642.1 762.1,642.0 762.8,642.1 763.4,642.1 764.1,642.1 764.7,642.0 765.4,641.9 766.0,642.0 766.7,642.1 767.3,642.2 767.3,648.1 766.7,648.3 766.0,648.5 765.4,648.8 764.7,648.9 764.1,649.0 763.4,648.9 762.8,648.8 762.1,648.8 761.5,648.7 760.8,648.6 760.2,648.6 759.5,648.6 758.9,648.7 758.2,648.9 757.6,649.0 756.9,649.1 756.3,649.1 755.6,649.1 755.0,649.1 754.3,649.1 753.7,649.1 753.0,649.1 752.4,649.1 751.7,649.2 751.1,649.3 750.4,649.5 749.8,649.7 749.1,649.8 748.5,649.9 747.8,649.9 747.2,649.9 746.5,649.8 745.9,649.7 745.2,649.8 744.6,649.9 743.9,650.0 743.3,650.2 742.6,650.3 742.0,650.3 741.3,650.2 740.7,650.2 740.0,650.2 739.4,650.2 738.7,650.4 738.1,650.6 737.4,650.8 736.8,651.0 736.1,651.2 735.5,651.4 734.8,651.5 734.2,651.4 733.5,651.3 732.9,651.1 732.2,650.9 731.6,650.7 730.9,650.7 730.3,650.7 729.6,650.8 729.0,650.9 728.3,651.0 727.7,650.9 727.0,650.9 726.4,650.9 725.7,651.0 725.1,651.1 724.4,651.2 723.8,651.3 723.1,651.3 722.5,651.3 721.8,651.3 721.2,651.3 720.5,651.2 719.9,651.2 719.2,651.2 718.6,651.2 717.9,651.4 717.3,651.5 716.6,651.6 716.0,651.7 715.3,651.7 714.7,651.7 714.0,651.7 713.4,651.7 712.7,651.7 712.1,651.6 711.4,651.5 710.8,651.4 710.1,651.4 709.5,651.4 708.8,651.6 708.2,651.8 707.5,651.9 706.9,651.9 706.2,651.8 705.6,651.8 704.9,651.8 704.3,651.9 703.6,651.9 703.0,651.9 702.3,651.9 701.7,652.0 701.0,652.0 700.4,652.0 699.7,651.9 699.1,651.9 698.4,651.9 697.8,652.0 697.1,652.1 696.5,652.2 695.8,652.2 695.2,652.2 694.5,652.2 693.9,652.3 693.2,652.4 692.6,652.5 691.9,652.6 691.3,652.7 690.6,652.8 690.0,652.8 689.3,652.7 688.7,652.6 688.0,652.5 687.4,652.4 686.7,652.4 686.1,652.4 685.4,652.5 684.8,652.7 684.1,652.8 683.5,652.9 682.8,652.9 682.2,652.8 681.5,652.8 680.9,652.7 680.2,652.8 679.6,652.9 678.9,653.1 678.3,653.3 677.6,653.4 677.0,653.5 676.3,653.4 675.7,653.3 675.0,653.2 674.4,653.2 673.7,653.1 673.1,653.1 672.4,653.1 671.8,653.1 671.1,653.0 670.5,652.9 669.8,652.8 669.2,652.8 668.5,652.8 667.9,652.9 667.2,653.0 666.6,653.0 665.9,653.0 665.3,653.0 664.6,652.9 664.0,652.9 663.3,652.9 662.7,652.9 662.0,652.9 661.4,652.9 660.7,652.7 660.1,652.5 659.4,652.3 658.8,652.2 658.1,652.2 657.5,652.2 656.8,652.2 656.2,652.1 655.5,652.1 654.9,652.1 654.2,652.1 653.6,652.3 652.9,652.4 652.3,652.5 651.6,652.5 651.0,652.4 650.3,652.2 649.7,652.0 649.0,652.0 648.4,652.0 647.7,652.1 647.1,652.3 646.4,652.4 645.8,652.3 645.1,652.2 644.5,652.2 643.8,652.2 643.2,652.2 642.5,652.3 641.9,652.4 641.2,652.5 640.6,652.6 639.9,652.6 639.3,652.6 638.6,652.5 638.0,652.4 637.3,652.4 636.7,652.3 636.0,652.3 635.4,652.5 634.7,652.7 634.1,653.0 633.4,653.2 632.8,653.3 632.1,653.3 631.5,653.2 630.8,653.1 630.2,652.9 629.5,652.9 628.9,653.0 628.2,653.2 627.6,653.4 626.9,653.5 626.3,653.6 625.6,653.7 625.0,653.9 624.3,654.1 623.7,654.3 623.0,654.4 622.4,654.5 621.7,654.5 621.1,654.5 620.4,654.5 619.8,654.6 619.1,654.8 618.5,655.1 617.8,655.4 617.2,655.7 616.5,656.0 615.9,656.2 615.2,656.5 614.6,656.7 613.9,656.9 613.3,657.1 612.6,657.3 612.0,657.6 611.3,657.9 610.7,658.3 610.0,658.6 609.4,659.0 608.7,659.3 608.1,659.7 607.4,660.0 606.8,660.3 606.1,660.5 605.5,660.7 604.8,660.7 604.2,660.8 603.5,660.9 602.9,661.1 602.2,661.3 601.6,661.5 600.9,661.8 600.3,662.0 599.6,662.1 599.0,662.3 598.3,662.4 597.7,662.7 597.0,663.0 596.4,663.4 595.7,663.6 595.1,663.9 594.4,664.1 593.8,664.3 593.1,664.5 592.5,664.6 591.8,664.8 591.2,664.9 590.5,665.0 589.9,665.2 589.2,665.6 588.6,665.9 587.9,666.3 587.3,666.6 586.6,667.0 586.0,667.4 585.3,668.0 584.7,668.6 584.0,669.1 583.4,669.6 582.7,670.1 582.1,670.7 581.4,671.4 580.8,671.9 580.1,672.4 579.5,672.9 578.8,673.5 578.2,674.1 577.5,674.7 576.9,675.3 576.2,675.9 575.6,676.6 574.9,677.5 574.3,678.5 573.6,679.6 573.0,680.8 572.3,681.9 571.7,683.0 571.0,684.1 570.4,685.2 569.7,686.3 569.1,687.4 568.4,688.5 567.8,689.5 567.1,690.6 566.5,691.7 565.8,692.9 565.2,693.9 564.5,694.9 563.9,695.8 563.2,696.7 562.6,697.7 561.9,698.7 561.3,699.7 560.6,700.7 560.0,701.7 559.3,702.6 558.7,703.6 558.0,704.6 557.4,705.6 556.7,706.4 556.1,707.2 555.4,707.8 554.8,708.3 554.1,708.6 553.5,708.9 552.8,709.1 552.2,709.5 551.5,709.9 550.9,710.7 550.2,711.7 549.6,712.9 548.9,714.3 548.3,715.7 547.6,716.8 547.0,717.9 546.3,718.9 545.7,720.0 545.0,721.2 544.4,722.4 543.7,723.5 543.1,724.6 542.4,725.5 541.8,726.3 541.1,726.9 540.5,727.4 539.8,727.9 539.2,728.3 538.5,728.7 537.9,729.2 537.2,729.7 536.6,730.3 535.9,730.8 535.3,731.2 534.6,731.5 534.0,731.9 533.3,732.3 532.7,732.9 532.0,733.6 531.4,734.4 530.7,735.3 530.1,736.2 529.4,737.2 528.8,738.3 528.1,739.3 527.5,740.3 526.8,741.4 526.2,742.5 525.5,743.6 524.9,744.7 524.2,745.7 523.6,746.6 522.9,747.5 522.3,748.2 521.6,748.9 521.0,749.6 520.3,750.2 519.7,750.9 519.0,751.6 518.4,752.2 517.7,753.0 517.1,754.0 516.4,755.3 515.8,757.0 515.1,759.1 514.9,760.2 514.6,761.3 514.4,762.4 514.1,763.6 513.8,764.9 513.6,766.2 513.3,767.6 513.1,769.1 512.8,770.6 512.5,772.2 512.3,774.1 512.0,776.3 511.8,779.0 511.5,781.9 511.2,785.2 511.0,788.6 510.7,792.2 510.5,796.1 510.2,800.1 509.9,804.4 509.7,809.0 509.4,813.7 509.2,818.5 508.9,823.5 508.6,828.6"/><polygon fill="#ff0000" fill-opacity="0.5" points="508.6,788.6 508.9,772.0 509.2,760.0 509.4,750.4 509.7,742.4 509.9,736.0 510.2,730.6 510.5,726.0 510.7,722.2 511.0,719.2 511.2,716.4 511.5,713.9 511.8,711.6 512.0,709.6 512.3,707.8 512.5,706.1 512.8,704.7 513.1,703.4 513.3,702.2 513.6,701.0 513.8,700.0 514.1,698.9 514.4,698.0 514.6,697.1 514.9,696.2 515.1,695.4 515.8,693.5 516.4,691.6 517.1,689.8 517.7,687.9 518.4,686.2 519.0,684.5 519.7,682.9 520.3,681.4 521.0,680.0 521.6,678.6 522.3,677.4 522.9,676.3 523.6,675.3 524.2,674.3 524.9,673.3 525.5,672.4 526.2,671.5 526.8,670.7 527.5,669.8 528.1,669.1 528.8,668.3 529.4,667.6 530.1,666.9 530.7,666.3 531.4,665.6 532.0,665.0 532.7,664.5 533.3,663.9 534.0,663.3 534.6,662.8 535.3,662.3 535.9,661.8 536.6,661.3 537.2,660.9 537.9,660.4 538.5,660.0 539.2,659.6 539.8,659.2 540.5,658.8 541.1,658.5 541.8,658.2 542.4,657.8 543.1,657.5 543.7,657.3 544.4,657.0 545.0,656.7 545.7,656.5 546.3,656.2 547.0,656.0 547.6,655.8 548.3,655.6 548.9,655.4 549.6,655.2 550.2,654.9 550.9,654.7 551.5,654.5 552.2,654.3 552.8,654.2 553.5,654.0 554.1,653.8 554.8,653.6 555.4,653.5 556.1,653.3 556.7,653.1 557.4,653.0 558.0,652.8 558.7,652.7 559.3,652.5 560.0,652.3 560.6,652.2 561.3,652.0 561.9,651.8 562.6,651.6 563.2,651.5 563.9,651.3 564.5,651.1 565.2,650.8 565.8,650.6 566.5,650.4 567.1,650.2 567.8,649.9 568.4,649.7 569.1,649.5 569.7,649.2 570.4,649.0 571.0,648.8 571.7,648.5 572.3,648.3 573.0,648.1 573.6,647.9 574.3,647.7 574.9,647.5 575.6,647.4 576.2,647.2 576.9,647.0 577.5,646.9 578.2,646.8 578.8,646.6 579.5,646.5 580.1,646.3 580.8,646.2 581.4,646.1 582.1,645.9 582.7,645.8 583.4,645.7 584.0,645.5 584.7,645.4 585.3,645.3 586.0,645.2 586.6,645.1 587.3,644.9 587.9,644.8 588.6,644.7 589.2,644.6 589.9,644.5 590.5,644.4 591.2,644.2 591.8,644.1 592.5,644.0 593.1,643.9 593.8,643.8 594.4,643.7 595.1,643.6 595.7,643.5 596.4,643.4 597.0,643.3 597.7,643.2 598.3,643.1 599.0,643.0 599.6,642.9 600.3,642.8 600.9,642.7 601.6,642.6 602.2,642.5 602.9,642.4 603.5,642.3 604.2,642.2 604.8,642.1 605.5,642.0 606.1,641.9 606.8,641.8 607.4,641.7 608.1,641.6 608.7,641.6 609.4,641.5 610.0,641.4 610.7,641.3 611.3,641.2 612.0,641.1 612.6,641.1 613.3,641.0 613.9,640.9 614.6,640.8 615.2,640.7 615.9,640.7 616.5,640.6 617.2,640.5 617.8,640.4 618.5,640.3 619.1,640.3 619.8,640.2 620.4,640.1 621.1,640.0 621.7,639.9 622.4,639.8 623.0,639.8 623.7,639.7 624.3,639.6 625.0,639.5 625.6,639.4 626.3,639.3 626.9,639.2 627.6,639.1 628.2,639.0 628.9,638.9 629.5,638.8 630.2,638.7 630.8,638.6 631.5,638.5 632.1,638.4 632.8,638.3 633.4,638.2 634.1,638.1 634.7,638.0 635.4,637.8 636.0,637.7 636.7,637.6 637.3,637.5 638.0,637.3 638.6,637.2 639.3,637.1 639.9,636.9 640.6,636.8 641.2,636.6 641.9,636.5 642.5,636.4 643.2,636.2 643.8,636.1 644.5,635.9 645.1,635.8 645.8,635.7 646.4,635.5 647.1,635.4 647.7,635.2 648.4,635.1 649.0,634.9 649.7,634.8 650.3,634.6 651.0,634.5 651.6,634.3 652.3,634.2 652.9,634.0 653.6,633.9 654.2,633.8 654.9,633.6 655.5,633.5 656.2,633.3 656.8,633.2 657.5,633.1 658.1,632.9 658.8,632.8 659.4,632.7 660.1,632.5 660.7,632.4 661.4,632.3 662.0,632.2 662.7,632.0 663.3,631.9 664.0,631.8 664.6,631.7 665.3,631.6 665.9,631.5 666.6,631.3 667.2,631.2 667.9,631.1 668.5,631.0 669.2,630.9 669.8,630.9 670.5,630.8 671.1,630.7 671.8,630.6 672.4,630.5 673.1,630.4 673.7,630.3 674.4,630.3 675.0,630.2 675.7,630.1 676.3,630.0 677.0,629.9 677.6,629.9 678.3,629.8 678.9,629.7 679.6,629.7 680.2,629.6 680.9,629.5 681.5,629.4 682.2,629.4 682.8,629.3 683.5,629.2 684.1,629.2 684.8,629.1 685.4,629.0 686.1,629.0 686.7,628.9 687.4,628.9 688.0,628.8 688.7,628.7 689.3,628.7 690.0,628.6 690.6,628.5 691.3,628.5 691.9,628.4 692.6,628.4 693.2,628.3 693.9,628.2 694.5,628.2 695.2,628.1 695.8,628.1 696.5,628.0 697.1,627.9 697.8,627.9 698.4,627.8 699.1,627.8 699.7,627.7 700.4,627.6 701.0,627.6 701.7,627.5 702.3,627.5 703.0,627.4 703.6,627.4 704.3,627.3 704.9,627.3 705.6,627.2 706.2,627.2 706.9,627.1 707.5,627.1 708.2,627.0 708.8,627.0 709.5,626.9 710.1,626.9 710.8,626.8 711.4,626.8 712.1,626.7 712.7,626.7 713.4,626.6 714.0,626.6 714.7,626.6 715.3,626.5 716.0,626.5 716.6,626.4 717.3,626.4 717.9,626.4 718.6,626.3 719.2,626.3 719.9,626.3 720.5,626.2 721.2,626.2 721.8,626.2 722.5,626.1 723.1,626.1 723.8,626.1 724.4,626.0 725.1,626.0 725.7,626.0 726.4,625.9 727.0,625.9 727.7,625.9 728.3,625.9 729.0,625.8 729.6,625.8 730.3,625.8 730.9,625.8 731.6,625.7 732.2,625.7 732.9,625.7 733.5,625.6 734.2,625.6 734.8,625.6 735.5,625.6 736.1,625.5 736.8,625.5 737.4,625.5 738.1,625.5 738.7,625.5 739.4,625.4 740.0,625.4 740.7,625.4 741.3,625.4 742.0,625.3 742.6,625.3 743.3,625.3 743.9,625.3 744.6,625.3 745.2,625.2 745.9,625.2 746.5,625.2 747.2,625.2 747.8,625.2 748.5,625.1 749.1,625.1 749.8,625.1 750.4,625.1 751.1,625.1 751.7,625.1 752.4,625.0 753.0,625.0 753.7,625.0 754.3,625.0 755.0,625.0 755.6,625.0 756.3,625.0 756.9,625.0 757.6,625.0 758.2,625.0 758.9,625.0 759.5,625.0 760.2,625.0 760.8,625.1 761.5,625.1 762.1,625.1 762.8,625.1 763.4,625.1 764.1,625.1 764.7,625.1 765.4,625.2 766.0,625.2 766.7,625.2 767.3,625.2 767.3,627.5 766.7,627.6 766.0,627.7 765.4,627.9 764.7,628.0 764.1,628.1 763.4,628.2 762.8,628.4 762.1,628.5 761.5,628.6 760.8,628.7 760.2,628.9 759.5,629.0 758.9,629.1 758.2,629.2 757.6,629.3 756.9,629.4 756.3,629.6 755.6,629.7 755.0,629.8 754.3,629.9 753.7,630.0 753.0,630.1 752.4,630.2 751.7,630.3 751.1,630.4 750.4,630.5 749.8,630.5 749.1,630.6 748.5,630.7 747.8,630.8 747.2,630.9 746.5,631.0 745.9,631.1 745.2,631.2 744.6,631.2 743.9,631.3 743.3,631.4 742.6,631.5 742.0,631.6 741.3,631.7 740.7,631.7 740.0,631.8 739.4,631.9 738.7,632.0 738.1,632.1 737.4,632.1 736.8,632.2 736.1,632.3 735.5,632.4 734.8,632.4 734.2,632.5 733.5,632.6 732.9,632.6 732.2,632.7 731.6,632.8 730.9,632.8 730.3,632.9 729.6,633.0 729.0,633.0 728.3,633.1 727.7,633.1 727.0,633.2 726.4,633.2 725.7,633.3 725.1,633.3 724.4,633.4 723.8,633.4 723.1,633.5 722.5,633.5 721.8,633.6 721.2,633.6 720.5,633.7 719.9,633.7 719.2,633.7 718.6,633.8 717.9,633.8 717.3,633.9 716.6,633.9 716.0,634.0 715.3,634.0 714.7,634.0 714.0,634.1 713.4,634.1 712.7,634.2 712.1,634.2 711.4,634.3 710.8,634.3 710.1,634.3 709.5,634.4 708.8,634.4 708.2,634.5 707.5,634.5 706.9,634.6 706.2,634.6 705.6,634.7 704.9,634.7 704.3,634.7 703.6,634.8 703.0,634.8 702.3,634.9 701.7,634.9 701.0,635.0 700.4,635.0 699.7,635.1 699.1,635.1 698.4,635.2 697.8,635.2 697.1,635.3 696.5,635.3 695.8,635.4 695.2,635.4 694.5,635.5 693.9,635.5 693.2,635.6 692.6,635.6 691.9,635.6 691.3,635.7 690.6,635.7 690.0,635.8 689.3,635.8 688.7,635.8 688.0,635.9 687.4,635.9 686.7,635.9 686.1,635.9 685.4,636.0 684.8,636.0 684.1,636.0 683.5,636.1 682.8,636.1 682.2,636.1 681.5,636.2 680.9,636.2 680.2,636.2 679.6,636.3 678.9,636.3 678.3,636.4 677.6,636.4 677.0,636.4 676.3,636.5 675.7,636.5 675.0,636.6 674.4,636.6 673.7,636.7 673.1,636.7 672.4,636.8 671.8,636.9 671.1,636.9 670.5,637.0 669.8,637.1 669.2,637.2 668.5,637.2 667.9,637.3 667.2,637.4 666.6,637.5 665.9,637.6 665.3,637.6 664.6,637.7 664.0,637.8 663.3,637.9 662.7,638.0 662.0,638.1 661.4,638.2 660.7,638.3 660.1,638.4 659.4,638.5 658.8,638.6 658.1,638.7 657.5,638.8 656.8,638.9 656.2,639.0 655.5,639.1 654.9,639.2 654.2,639.3 653.6,639.4 652.9,639.5 652.3,639.6 651.6,639.7 651.0,639.8 650.3,639.9 649.7,640.0 649.0,640.1 648.4,640.2 647.7,640.3 647.1,640.4 646.4,640.5 645.8,640.7 645.1,640.8 644.5,640.9 643.8,641.0 643.2,641.1 642.5,641.2 641.9,641.3 641.2,641.4 640.6,641.5 639.9,641.6 639.3,641.7 638.6,641.8 638.0,641.9 637.3,642.0 636.7,642.1 636.0,642.2 635.4,642.3 634.7,642.4 634.1,642.5 633.4,642.6 632.8,642.6 632.1,642.7 631.5,642.8 630.8,642.9 630.2,643.0 629.5,643.1 628.9,643.2 628.2,643.2 627.6,643.3 626.9,643.4 626.3,643.5 625.6,643.5 625.0,643.6 624.3,643.7 623.7,643.8 623.0,643.8 622.4,643.9 621.7,644.0 621.1,644.0 620.4,644.1 619.8,644.2 619.1,644.2 618.5,644.3 617.8,644.3 617.2,644.4 616.5,644.5 615.9,644.5 615.2,644.6 614.6,644.7 613.9,644.7 613.3,644.8 612.6,644.8 612.0,644.9 611.3,645.0 610.7,645.0 610.0,645.1 609.4,645.2 608.7,645.2 608.1,645.3 607.4,645.4 606.8,645.5 606.1,645.5 605.5,645.6 604.8,645.7 604.2,645.8 603.5,645.9 602.9,645.9 602.2,646.0 601.6,646.1 600.9,646.2 600.3,646.3 599.6,646.4 599.0,646.5 598.3,646.6 597.7,646.7 597.0,646.7 596.4,646.8 595.7,646.9 595.1,647.0 594.4,647.1 593.8,647.2 593.1,647.3 592.5,647.4 591.8,647.5 591.2,647.7 590.5,647.8 589.9,647.9 589.2,648.0 588.6,648.1 587.9,648.2 587.3,648.3 586.6,648.4 586.0,648.6 585.3,648.7 584.7,648.8 584.0,648.9 583.4,649.1 582.7,649.2 582.1,649.4 581.4,649.5 580.8,649.6 580.1,649.8 579.5,650.0 578.8,650.1 578.2,650.3 577.5,650.4 576.9,650.6 576.2,650.8 575.6,650.9 574.9,651.1 574.3,651.3 573.6,651.6 573.0,651.8 572.3,652.0 571.7,652.3 571.0,652.5 570.4,652.8 569.7,653.0 569.1,653.3 568.4,653.6 567.8,653.8 567.1,654.1 566.5,654.4 565.8,654.6 565.2,654.9 564.5,655.1 563.9,655.3 563.2,655.6 562.6,655.8 561.9,656.0 561.3,656.2 560.6,656.4 560.0,656.6 559.3,656.8 558.7,657.0 558.0,657.2 557.4,657.4 556.7,657.6 556.1,657.8 555.4,658.0 554.8,658.2 554.1,658.4 553.5,658.6 552.8,658.8 552.2,659.0 551.5,659.2 550.9,659.4 550.2,659.7 549.6,659.9 548.9,660.1 548.3,660.4 547.6,660.6 547.0,660.9 546.3,661.1 545.7,661.4 545.0,661.6 544.4,661.9 543.7,662.2 543.1,662.5 542.4,662.8 541.8,663.2 541.1,663.5 540.5,663.9 539.8,664.2 539.2,664.6 538.5,665.1 537.9,665.5 537.2,665.9 536.6,666.4 535.9,666.9 535.3,667.4 534.6,667.9 534.0,668.4 533.3,669.0 532.7,669.5 532.0,670.1 531.4,670.7 530.7,671.3 530.1,671.9 529.4,672.5 528.8,673.2 528.1,673.9 527.5,674.6 526.8,675.4 526.2,676.2 525.5,677.0 524.9,677.9 524.2,678.8 523.6,679.7 522.9,680.7 522.3,681.7 521.6,682.8 521.0,684.1 520.3,685.4 519.7,686.8 519.0,688.3 518.4,689.9 517.7,691.6 517.1,693.3 516.4,695.1 515.8,696.8 515.1,698.7 514.9,699.5 514.6,700.3 514.4,701.2 514.1,702.1 513.8,703.0 513.6,704.1 513.3,705.2 513.1,706.3 512.8,707.6 512.5,709.0 512.3,710.6 512.0,712.4 511.8,714.4 511.5,716.6 511.2,719.1 511.0,721.8 510.7,724.8 510.5,728.6 510.2,733.1 509.9,738.4 509.7,744.8 509.4,752.8 509.2,762.3 508.9,774.3 508.6,790.9"/><polygon fill="#008000" fill-opacity="0.5" points="508.6,746.8 508.9,736.5 509.2,727.9 509.4,722.3 509.7,717.9 509.9,714.3 510.2,711.1 510.5,708.3 510.7,705.7 511.0,703.2 511.2,700.8 511.5,698.6 511.8,696.5 512.0,694.6 512.3,692.8 512.5,691.2 512.8,689.7 513.1,688.3 513.3,687.0 513.6,685.8 513.8,684.6 514.1,683.5 514.4,682.4 514.6,681.4 514.9,680.5 515.1,679.6 515.8,677.6 516.4,675.9 517.1,674.4 517.7,673.0 518.4,671.7 519.0,670.5 519.7,669.4 520.3,668.4 521.0,667.4 521.6,666.5 522.3,665.7 522.9,664.9 523.6,664.1 524.2,663.3 524.9,662.5 525.5,661.8 526.2,661.1 526.8,660.5 527.5,659.8 528.1,659.2 528.8,658.6 529.4,658.0 530.1,657.5 530.7,656.9 531.4,656.4 532.0,655.9 532.7,655.5 533.3,655.0 534.0,654.7 534.6,654.4 535.3,654.1 535.9,653.8 536.6,653.6 537.2,653.4 537.9,653.2 538.5,653.0 539.2,652.9 539.8,652.9 540.5,652.9 541.1,652.9 541.8,652.9 542.4,652.8 543.1,652.6 543.7,652.4 544.4,652.2 545.0,652.0 545.7,651.8 546.3,651.7 547.0,651.5 547.6,651.3 548.3,651.2 548.9,651.0 549.6,650.9 550.2,650.7 550.9,650.6 551.5,650.5 552.2,650.4 552.8,650.2 553.5,650.1 554.1,650.0 554.8,649.9 555.4,649.8 556.1,649.7 556.7,649.6 557.4,649.5 558.0,649.4 558.7,649.3 559.3,649.2 560.0,649.1 560.6,649.0 561.3,648.9 561.9,648.8 562.6,648.8 563.2,648.7 563.9,648.6 564.5,648.5 565.2,648.4 565.8,648.3 566.5,648.2 567.1,648.1 567.8,648.0 568.4,647.9 569.1,647.8 569.7,647.7 570.4,647.6 571.0,647.5 571.7,647.4 572.3,647.4 573.0,647.3 573.6,647.2 574.3,647.1 574.9,647.1 575.6,647.0 576.2,646.9 576.9,646.9 577.5,646.8 578.2,646.7 578.8,646.7 579.5,646.6 580.1,646.6 580.8,646.5 581.4,646.5 582.1,646.4 582.7,646.3 583.4,646.3 584.0,646.2 584.7,646.2 585.3,646.1 586.0,646.1 586.6,646.0 587.3,646.0 587.9,645.9 588.6,645.9 589.2,645.9 589.9,645.8 590.5,645.8 591.2,645.7 591.8,645.7 592.5,645.6 593.1,645.6 593.8,645.5 594.4,645.5 595.1,645.5 595.7,645.4 596.4,645.4 597.0,645.3 597.7,645.3 598.3,645.3 599.0,645.2 599.6,645.2 600.3,645.2 600.9,645.1 601.6,645.1 602.2,645.1 602.9,645.0 603.5,645.0 604.2,645.0 604.8,644.9 605.5,644.9 606.1,644.9 606.8,644.8 607.4,644.8 608.1,644.7 608.7,644.7 609.4,644.7 610.0,644.6 610.7,644.6 611.3,644.6 612.0,644.5 612.6,644.5 613.3,644.4 613.9,644.4 614.6,644.4 615.2,644.3 615.9,644.3 616.5,644.2 617.2,644.2 617.8,644.1 618.5,644.1 619.1,644.0 619.8,644.0 620.4,643.9 621.1,643.9 621.7,643.8 622.4,643.7 623.0,643.7 623.7,643.6 624.3,643.6 625.0,643.5 625.6,643.5 626.3,643.4 626.9,643.3 627.6,643.3 628.2,643.2 628.9,643.2 629.5,643.1 630.2,643.1 630.8,643.0 631.5,643.0 632.1,642.9 632.8,642.8 633.4,642.8 634.1,642.7 634.7,642.7 635.4,642.6 636.0,642.6 636.7,642.5 637.3,642.5 638.0,642.4 638.6,642.4 639.3,642.3 639.9,642.3 640.6,642.2 641.2,642.2 641.9,642.1 642.5,642.1 643.2,642.0 643.8,642.0 644.5,641.9 645.1,641.9 645.8,641.8 646.4,641.8 647.1,641.7 647.7,641.7 648.4,641.6 649.0,641.6 649.7,641.5 650.3,641.5 651.0,641.4 651.6,641.4 652.3,641.3 652.9,641.3 653.6,641.2 654.2,641.1 654.9,641.1 655.5,641.0 656.2,641.0 656.8,640.9 657.5,640.9 658.1,640.8 658.8,640.8 659.4,640.7 660.1,640.7 660.7,640.6 661.4,640.6 662.0,640.5 662.7,640.5 663.3,640.4 664.0,640.4 664.6,640.3 665.3,640.3 665.9,640.2 666.6,640.1 667.2,640.1 667.9,640.0 668.5,640.0 669.2,640.0 669.8,639.9 670.5,639.9 671.1,639.8 671.8,639.8 672.4,639.7 673.1,639.7 673.7,639.6 674.4,639.6 675.0,639.5 675.7,639.5 676.3,639.4 677.0,639.4 677.6,639.3 678.3,639.2 678.9,639.2 679.6,639.1 680.2,639.1 680.9,639.0 681.5,639.0 682.2,638.9 682.8,638.9 683.5,638.8 684.1,638.8 684.8,638.7 685.4,638.7 686.1,638.6 686.7,638.6 687.4,638.5 688.0,638.5 688.7,638.4 689.3,638.4 690.0,638.3 690.6,638.3 691.3,638.2 691.9,638.2 692.6,638.1 693.2,638.1 693.9,638.0 694.5,638.0 695.2,637.9 695.8,637.9 696.5,637.8 697.1,637.8 697.8,637.8 698.4,637.7 699.1,637.7 699.7,637.6 700.4,637.6 701.0,637.5 701.7,637.5 702.3,637.5 703.0,637.4 703.6,637.4 704.3,637.4 704.9,637.3 705.6,637.3 706.2,637.3 706.9,637.2 707.5,637.2 708.2,637.2 708.8,637.1 709.5,637.1 710.1,637.1 710.8,637.0 711.4,637.0 712.1,637.0 712.7,637.0 713.4,636.9 714.0,636.9 714.7,636.9 715.3,636.9 716.0,636.8 716.6,636.8 717.3,636.8 717.9,636.8 718.6,636.7 719.2,636.7 719.9,636.7 720.5,636.7 721.2,636.6 721.8,636.6 722.5,636.6 723.1,636.6 723.8,636.5 724.4,636.5 725.1,636.5 725.7,636.5 726.4,636.4 727.0,636.4 727.7,636.4 728.3,636.4 729.0,636.3 729.6,636.3 730.3,636.3 730.9,636.2 731.6,636.2 732.2,636.2 732.9,636.2 733.5,636.1 734.2,636.1 734.8,636.1 735.5,636.1 736.1,636.0 736.8,636.0 737.4,636.0 738.1,636.0 738.7,635.9 739.4,635.9 740.0,635.9 740.7,635.9 741.3,635.8 742.0,635.8 742.6,635.8 743.3,635.8 743.9,635.7 744.6,635.7 745.2,635.7 745.9,635.7 746.5,635.6 747.2,635.6 747.8,635.6 748.5,635.5 749.1,635.5 749.8,635.5 750.4,635.5 751.1,635.4 751.7,635.4 752.4,635.4 753.0,635.4 753.7,635.3 754.3,635.3 755.0,635.3 755.6,635.3 756.3,635.2 756.9,635.2 757.6,635.2 758.2,635.2 758.9,635.1 759.5,635.1 760.2,635.1 760.8,635.1 761.5,635.0 762.1,635.0 762.8,635.0 763.4,635.0 764.1,634.9 764.7,634.9 765.4,634.9 766.0,634.9 766.7,634.8 767.3,634.8 767.3,641.3 766.7,641.3 766.0,641.3 765.4,641.3 764.7,641.3 764.1,641.3 763.4,641.3 762.8,641.3 762.1,641.3 761.5,641.2 760.8,641.2 760.2,641.2 759.5,641.2 758.9,641.2 758.2,641.2 757.6,641.2 756.9,641.2 756.3,641.2 755.6,641.2 755.0,641.2 754.3,641.2 753.7,641.2 753.0,641.2 752.4,641.2 751.7,641.2 751.1,641.2 750.4,641.2 749.8,641.2 749.1,641.2 748.5,641.2 747.8,641.2 747.2,641.1 746.5,641.1 745.9,641.1 745.2,641.1 744.6,641.1 743.9,641.1 743.3,641.1 742.6,641.1 742.0,641.1 741.3,641.1 740.7,641.1 740.0,641.1 739.4,641.1 738.7,641.1 738.1,641.1 737.4,641.1 736.8,641.1 736.1,641.2 735.5,641.2 734.8,641.2 734.2,641.2 733.5,641.2 732.9,641.2 732.2,641.2 731.6,641.2 730.9,641.2 730.3,641.2 729.6,641.2 729.0,641.2 728.3,641.2 727.7,641.2 727.0,641.2 726.4,641.2 725.7,641.2 725.1,641.3 724.4,641.3 723.8,641.3 723.1,641.3 722.5,641.3 721.8,641.3 721.2,641.3 720.5,641.3 719.9,641.3 719.2,641.4 718.6,641.4 717.9,641.4 717.3,641.4 716.6,641.4 716.0,641.4 715.3,641.4 714.7,641.5 714.0,641.5 713.4,641.5 712.7,641.5 712.1,641.5 711.4,641.6 710.8,641.6 710.1,641.6 709.5,641.6 708.8,641.6 708.2,641.7 707.5,641.7 706.9,641.7 706.2,641.8 705.6,641.8 704.9,641.8 704.3,641.8 703.6,641.9 703.0,641.9 702.3,641.9 701.7,642.0 701.0,642.0 700.4,642.0 699.7,642.1 699.1,642.1 698.4,642.2 697.8,642.2 697.1,642.2 696.5,642.3 695.8,642.3 695.2,642.4 694.5,642.4 693.9,642.4 693.2,642.5 692.6,642.5 691.9,642.6 691.3,642.6 690.6,642.7 690.0,642.7 689.3,642.8 688.7,642.8 688.0,642.9 687.4,642.9 686.7,643.0 686.1,643.0 685.4,643.1 684.8,643.1 684.1,643.1 683.5,643.2 682.8,643.2 682.2,643.3 681.5,643.3 680.9,643.4 680.2,643.4 679.6,643.5 678.9,643.5 678.3,643.6 677.6,643.6 677.0,643.7 676.3,643.7 675.7,643.8 675.0,643.8 674.4,643.9 673.7,643.9 673.1,644.0 672.4,644.0 671.8,644.1 671.1,644.1 670.5,644.2 669.8,644.2 669.2,644.3 668.5,644.3 667.9,644.3 667.2,644.4 666.6,644.4 665.9,644.5 665.3,644.5 664.6,644.6 664.0,644.6 663.3,644.7 662.7,644.7 662.0,644.8 661.4,644.8 660.7,644.9 660.1,644.9 659.4,645.0 658.8,645.0 658.1,645.1 657.5,645.1 656.8,645.2 656.2,645.2 655.5,645.3 654.9,645.3 654.2,645.3 653.6,645.4 652.9,645.4 652.3,645.5 651.6,645.5 651.0,645.6 650.3,645.6 649.7,645.6 649.0,645.7 648.4,645.7 647.7,645.8 647.1,645.8 646.4,645.8 645.8,645.9 645.1,645.9 644.5,646.0 643.8,646.0 643.2,646.0 642.5,646.1 641.9,646.1 641.2,646.2 640.6,646.2 639.9,646.2 639.3,646.3 638.6,646.3 638.0,646.4 637.3,646.4 636.7,646.4 636.0,646.5 635.4,646.5 634.7,646.6 634.1,646.6 633.4,646.7 632.8,646.7 632.1,646.8 631.5,646.8 630.8,646.8 630.2,646.9 629.5,646.9 628.9,647.0 628.2,647.0 627.6,647.1 626.9,647.1 626.3,647.2 625.6,647.2 625.0,647.3 624.3,647.3 623.7,647.4 623.0,647.4 622.4,647.5 621.7,647.5 621.1,647.6 620.4,647.6 619.8,647.7 619.1,647.7 618.5,647.8 617.8,647.8 617.2,647.9 616.5,647.9 615.9,647.9 615.2,648.0 614.6,648.0 613.9,648.1 613.3,648.1 612.6,648.2 612.0,648.2 611.3,648.2 610.7,648.3 610.0,648.3 609.4,648.4 608.7,648.4 608.1,648.4 607.4,648.5 606.8,648.5 606.1,648.5 605.5,648.6 604.8,648.6 604.2,648.6 603.5,648.7 602.9,648.7 602.2,648.7 601.6,648.8 600.9,648.8 600.3,648.8 599.6,648.9 599.0,648.9 598.3,649.0 597.7,649.0 597.0,649.0 596.4,649.1 595.7,649.1 595.1,649.2 594.4,649.2 593.8,649.3 593.1,649.3 592.5,649.3 591.8,649.4 591.2,649.4 590.5,649.5 589.9,649.5 589.2,649.6 588.6,649.6 587.9,649.7 587.3,649.7 586.6,649.8 586.0,649.8 585.3,649.9 584.7,649.9 584.0,650.0 583.4,650.1 582.7,650.1 582.1,650.2 581.4,650.2 580.8,650.3 580.1,650.4 579.5,650.4 578.8,650.5 578.2,650.5 577.5,650.6 576.9,650.7 576.2,650.7 575.6,650.8 574.9,650.9 574.3,651.0 573.6,651.0 573.0,651.1 572.3,651.2 571.7,651.3 571.0,651.4 570.4,651.5 569.7,651.6 569.1,651.7 568.4,651.8 567.8,651.9 567.1,652.0 566.5,652.1 565.8,652.2 565.2,652.3 564.5,652.4 563.9,652.5 563.2,652.6 562.6,652.7 561.9,652.8 561.3,652.9 560.6,653.0 560.0,653.1 559.3,653.2 558.7,653.3 558.0,653.5 557.4,653.6 556.7,653.7 556.1,653.8 555.4,653.9 554.8,654.0 554.1,654.2 553.5,654.3 552.8,654.5 552.2,654.6 551.5,654.8 550.9,654.9 550.2,655.1 549.6,655.3 548.9,655.4 548.3,655.6 547.6,655.8 547.0,656.0 546.3,656.3 545.7,656.5 545.0,656.7 544.4,657.0 543.7,657.2 543.1,657.5 542.4,657.7 541.8,658.0 541.1,658.3 540.5,658.6 539.8,658.9 539.2,659.3 538.5,659.6 537.9,660.0 537.2,660.4 536.6,660.8 535.9,661.2 535.3,661.6 534.6,662.0 534.0,662.5 533.3,662.9 532.7,663.4 532.0,663.9 531.4,664.4 530.7,665.0 530.1,665.5 529.4,666.1 528.8,666.7 528.1,667.4 527.5,668.0 526.8,668.7 526.2,669.4 525.5,670.2 524.9,670.9 524.2,671.7 523.6,672.5 522.9,673.3 522.3,674.2 521.6,675.1 521.0,676.1 520.3,677.1 519.7,678.2 519.0,679.3 518.4,680.6 517.7,681.9 517.1,683.3 516.4,684.9 515.8,686.7 515.1,688.7 514.9,689.5 514.6,690.4 514.4,691.4 514.1,692.4 513.8,693.4 513.6,694.5 513.3,695.7 513.1,696.8 512.8,698.1 512.5,699.4 512.3,700.9 512.0,702.5 511.8,704.2 511.5,706.1 511.2,708.2 511.0,710.3 510.7,712.6 510.5,715.0 510.2,717.6 509.9,720.5 509.7,724.0 509.4,728.1 509.2,733.5 508.9,741.9 508.6,751.9"/><polyline fill="none" stroke="#0000ff" stroke-width="2" stroke-linejoin="round" points="508.6,824.3 508.9,813.0 509.2,803.5 509.4,797.1 509.7,791.9 509.9,787.5 510.2,783.6 510.5,780.3 510.7,777.5 511.0,775.0 511.2,772.7 511.5,770.6 511.8,768.7 512.0,766.9 512.3,765.4 512.5,763.9 512.8,762.6 513.1,761.4 513.3,760.2 513.6,759.1 513.8,758.1 514.1,757.1 514.4,756.1 514.6,755.2 514.9,754.3 515.1,753.5 515.8,751.5 516.4,749.7 517.1,748.0 517.7,746.5 518.4,745.0 519.0,743.7 519.7,742.4 520.3,741.1 521.0,740.0 521.6,738.8 522.3,737.6 522.9,736.5 523.6,735.3 524.2,734.2 524.9,733.2 525.5,732.1 526.2,731.1 526.8,730.1 527.5,729.1 528.1,728.1 528.8,727.1 529.4,726.1 530.1,725.2 530.7,724.2 531.4,723.2 532.0,722.3 532.7,721.3 533.3,720.4 534.0,719.4 534.6,718.5 535.3,717.6 535.9,716.7 536.6,715.8 537.2,714.9 537.9,714.0 538.5,713.1 539.2,712.2 539.8,711.3 540.5,710.4 541.1,709.5 541.8,708.7 542.4,707.8 543.1,707.0 543.7,706.1 544.4,705.3 545.0,704.5 545.7,703.6 546.3,702.8 547.0,702.0 547.6,701.2 548.3,700.4 548.9,699.6 549.6,698.7 550.2,697.9 550.9,697.1 551.5,696.2 552.2,695.4 552.8,694.5 553.5,693.6 554.1,692.7 554.8,691.8 555.4,690.9 556.1,690.0 556.7,689.1 557.4,688.2 558.0,687.3 558.7,686.5 559.3,685.6 560.0,684.8 560.6,684.0 561.3,683.3 561.9,682.5 562.6,681.8 563.2,681.2 563.9,680.5 564.5,679.8 565.2,679.1 565.8,678.3 566.5,677.6 567.1,676.8 567.8,676.0 568.4,675.3 569.1,674.5 569.7,673.7 570.4,673.0 571.0,672.3 571.7,671.5 572.3,670.9 573.0,670.2 573.6,669.6 574.3,669.0 574.9,668.4 575.6,667.9 576.2,667.3 576.9,666.8 577.5,666.3 578.2,665.8 578.8,665.4 579.5,664.9 580.1,664.4 580.8,664.0 581.4,663.6 582.1,663.2 582.7,662.8 583.4,662.4 584.0,662.1 584.7,661.8 585.3,661.4 586.0,661.1 586.6,660.8 587.3,660.6 587.9,660.3 588.6,660.0 589.2,659.8 589.9,659.5 590.5,659.3 591.2,659.1 591.8,658.8 592.5,658.6 593.1,658.3 593.8,658.1 594.4,657.9 595.1,657.6 595.7,657.4 596.4,657.1 597.0,656.9 597.7,656.6 598.3,656.4 599.0,656.2 599.6,655.9 600.3,655.7 600.9,655.5 601.6,655.3 602.2,655.1 602.9,654.9 603.5,654.7 604.2,654.5 604.8,654.3 605.5,654.2 606.1,654.0 606.8,653.8 607.4,653.7 608.1,653.5 608.7,653.4 609.4,653.3 610.0,653.1 610.7,653.0 611.3,652.8 612.0,652.7 612.6,652.6 613.3,652.4 613.9,652.3 614.6,652.1 615.2,651.9 615.9,651.8 616.5,651.6 617.2,651.4 617.8,651.3 618.5,651.1 619.1,650.9 619.8,650.8 620.4,650.6 621.1,650.5 621.7,650.4 622.4,650.2 623.0,650.1 623.7,650.0 624.3,649.9 625.0,649.8 625.6,649.7 626.3,649.7 626.9,649.6 627.6,649.5 628.2,649.4 628.9,649.4 629.5,649.3 630.2,649.2 630.8,649.2 631.5,649.1 632.1,649.0 632.8,649.0 633.4,648.9 634.1,648.9 634.7,648.8 635.4,648.7 636.0,648.7 636.7,648.6 637.3,648.6 638.0,648.5 638.6,648.4 639.3,648.4 639.9,648.3 640.6,648.3 641.2,648.2 641.9,648.2 642.5,648.1 643.2,648.0 643.8,648.0 644.5,647.9 645.1,647.9 645.8,647.8 646.4,647.8 647.1,647.7 647.7,647.7 648.4,647.7 649.0,647.6 649.7,647.6 650.3,647.5 651.0,647.5 651.6,647.4 652.3,647.4 652.9,647.4 653.6,647.3 654.2,647.3 654.9,647.3 655.5,647.2 656.2,647.2 656.8,647.2 657.5,647.1 658.1,647.1 658.8,647.1 659.4,647.1 660.1,647.0 660.7,647.0 661.4,647.0 662.0,647.0 662.7,646.9 663.3,646.9 664.0,646.9 664.6,646.9 665.3,646.8 665.9,646.8 666.6,646.8 667.2,646.8 667.9,646.8 668.5,646.7 669.2,646.7 669.8,646.7 670.5,646.7 671.1,646.6 671.8,646.6 672.4,646.6 673.1,646.6 673.7,646.5 674.4,646.5 675.0,646.5 675.7,646.5 676.3,646.5 677.0,646.4 677.6,646.4 678.3,646.4 678.9,646.4 679.6,646.3 680.2,646.3 680.9,646.3 681.5,646.3 682.2,646.2 682.8,646.2 683.5,646.2 684.1,646.2 684.8,646.2 685.4,646.1 686.1,646.1 686.7,646.1 687.4,646.1 688.0,646.0 688.7,646.0 689.3,646.0 690.0,646.0 690.6,646.0 691.3,645.9 691.9,645.9 692.6,645.9 693.2,645.9 693.9,645.8 694.5,645.8 695.2,645.8 695.8,645.8 696.5,645.7 697.1,645.7 697.8,645.7 698.4,645.7 699.1,645.7 699.7,645.6 700.4,645.6 701.0,645.6 701.7,645.6 702.3,645.5 703.0,645.5 703.6,645.5 704.3,645.5 704.9,645.5 705.6,645.4 706.2,645.4 706.9,645.4 707.5,645.4 708.2,645.3 708.8,645.3 709.5,645.3 710.1,645.3 710.8,645.3 711.4,645.2 712.1,645.2 712.7,645.2 713.4,645.2 714.0,645.1 714.7,645.1 715.3,645.1 716.0,645.1 716.6,645.0 717.3,645.0 717.9,645.0 718.6,645.0 719.2,645.0 719.9,644.9 720.5,644.9 721.2,644.9 721.8,644.9 722.5,644.8 723.1,644.8 723.8,644.8 724.4,644.8 725.1,644.7 725.7,644.7 726.4,644.7 727.0,644.7 727.7,644.7 728.3,644.6 729.0,644.6 729.6,644.6 730.3,644.6 730.9,644.5 731.6,644.5 732.2,644.5 732.9,644.5 733.5,644.4 734.2,644.4 734.8,644.4 735.5,644.4 736.1,644.4 736.8,644.3 737.4,644.3 738.1,644.3 738.7,644.3 739.4,644.2 740.0,644.2 740.7,644.2 741.3,644.2 742.0,644.2 742.6,644.1 743.3,644.1 743.9,644.1 744.6,644.1 745.2,644.0 745.9,644.0 746.5,644.0 747.2,644.0 747.8,644.0 748.5,643.9 749.1,643.9 749.8,643.9 750.4,643.9 751.1,643.8 751.7,643.8 752.4,643.8 753.0,643.8 753.7,643.8 754.3,643.7 755.0,643.7 755.6,643.7 756.3,643.7 756.9,643.6 757.6,643.6 758.2,643.6 758.9,643.6 759.5,643.6 760.2,643.5 760.8,643.5 761.5,643.5 762.1,643.5 762.8,643.4 763.4,643.4 764.1,643.4 764.7,643.4 765.4,643.4 766.0,643.3 766.7,643.3 767.3,643.3"/><polyline fill="none" stroke="#ff0000" stroke-width="2" stroke-linejoin="round" points="508.6,789.8 508.9,773.2 509.2,761.1 509.4,751.6 509.7,743.6 509.9,737.2 510.2,731.8 510.5,727.3 510.7,723.5 511.0,720.4 511.2,717.7 511.5,715.2 511.8,713.0 512.0,710.9 512.3,709.1 512.5,707.5 512.8,706.1 513.1,704.8 513.3,703.6 513.6,702.5 513.8,701.4 514.1,700.4 514.4,699.5 514.6,698.6 514.9,697.8 515.1,696.9 515.8,695.0 516.4,693.2 517.1,691.4 517.7,689.6 518.4,687.9 519.0,686.3 519.7,684.7 520.3,683.2 521.0,681.8 521.6,680.5 522.3,679.4 522.9,678.3 523.6,677.3 524.2,676.3 524.9,675.4 525.5,674.5 526.2,673.6 526.8,672.8 527.5,672.0 528.1,671.2 528.8,670.5 529.4,669.8 530.1,669.1 530.7,668.5 531.4,667.9 532.0,667.3 532.7,666.7 533.3,666.1 534.0,665.6 534.6,665.1 535.3,664.6 535.9,664.1 536.6,663.6 537.2,663.1 537.9,662.7 538.5,662.3 539.2,661.8 539.8,661.5 540.5,661.1 541.1,660.7 541.8,660.4 542.4,660.1 543.1,659.8 543.7,659.5 544.4,659.2 545.0,658.9 545.7,658.7 546.3,658.4 547.0,658.2 547.6,658.0 548.3,657.7 548.9,657.5 549.6,657.3 550.2,657.1 550.9,656.9 551.5,656.7 552.2,656.5 552.8,656.3 553.5,656.1 554.1,655.9 554.8,655.7 555.4,655.5 556.1,655.3 556.7,655.2 557.4,655.0 558.0,654.8 558.7,654.7 559.3,654.5 560.0,654.3 560.6,654.1 561.3,654.0 561.9,653.8 562.6,653.6 563.2,653.4 563.9,653.2 564.5,653.0 565.2,652.7 565.8,652.5 566.5,652.3 567.1,652.0 567.8,651.8 568.4,651.5 569.1,651.3 569.7,651.1 570.4,650.8 571.0,650.6 571.7,650.3 572.3,650.1 573.0,649.9 573.6,649.7 574.3,649.5 574.9,649.3 575.6,649.1 576.2,649.0 576.9,648.8 577.5,648.6 578.2,648.5 578.8,648.3 579.5,648.2 580.1,648.1 580.8,647.9 581.4,647.8 582.1,647.6 582.7,647.5 583.4,647.4 584.0,647.2 584.7,647.1 585.3,647.0 586.0,646.9 586.6,646.7 587.3,646.6 587.9,646.5 588.6,646.4 589.2,646.3 589.9,646.2 590.5,646.1 591.2,646.0 591.8,645.8 592.5,645.7 593.1,645.6 593.8,645.5 594.4,645.4 595.1,645.3 595.7,645.2 596.4,645.1 597.0,645.0 597.7,645.0 598.3,644.9 599.0,644.8 599.6,644.7 600.3,644.6 600.9,644.5 601.6,644.4 602.2,644.3 602.9,644.2 603.5,644.2 604.2,644.1 604.8,644.0 605.5,643.9 606.1,643.8 606.8,643.8 607.4,643.7 608.1,643.6 608.7,643.6 609.4,643.5 610.0,643.4 610.7,643.3 611.3,643.3 612.0,643.2 612.6,643.2 613.3,643.1 613.9,643.0 614.6,643.0 615.2,642.9 615.9,642.8 616.5,642.8 617.2,642.7 617.8,642.6 618.5,642.6 619.1,642.5 619.8,642.5 620.4,642.4 621.1,642.3 621.7,642.3 622.4,642.2 623.0,642.1 623.7,642.1 624.3,642.0 625.0,641.9 625.6,641.8 626.3,641.8 626.9,641.7 627.6,641.6 628.2,641.5 628.9,641.5 629.5,641.4 630.2,641.3 630.8,641.2 631.5,641.1 632.1,641.0 632.8,640.9 633.4,640.9 634.1,640.8 634.7,640.7 635.4,640.6 636.0,640.5 636.7,640.4 637.3,640.3 638.0,640.2 638.6,640.1 639.3,640.0 639.9,639.8 640.6,639.7 641.2,639.6 641.9,639.5 642.5,639.4 643.2,639.3 643.8,639.2 644.5,639.1 645.1,639.0 645.8,638.8 646.4,638.7 647.1,638.6 647.7,638.5 648.4,638.4 649.0,638.3 649.7,638.2 650.3,638.0 651.0,637.9 651.6,637.8 652.3,637.7 652.9,637.6 653.6,637.5 654.2,637.3 654.9,637.2 655.5,637.1 656.2,637.0 656.8,636.9 657.5,636.8 658.1,636.7 658.8,636.5 659.4,636.4 660.1,636.3 660.7,636.2 661.4,636.1 662.0,636.0 662.7,635.9 663.3,635.8 664.0,635.7 664.6,635.6 665.3,635.5 665.9,635.4 666.6,635.3 667.2,635.2 667.9,635.1 668.5,635.0 669.2,634.9 669.8,634.8 670.5,634.7 671.1,634.6 671.8,634.5 672.4,634.5 673.1,634.4 673.7,634.3 674.4,634.2 675.0,634.1 675.7,634.0 676.3,633.9 677.0,633.8 677.6,633.8 678.3,633.7 678.9,633.6 679.6,633.5 680.2,633.4 680.9,633.3 681.5,633.2 682.2,633.2 682.8,633.1 683.5,633.0 684.1,632.9 684.8,632.8 685.4,632.7 686.1,632.7 686.7,632.6 687.4,632.5 688.0,632.4 688.7,632.3 689.3,632.3 690.0,632.2 690.6,632.1 691.3,632.0 691.9,631.9 692.6,631.9 693.2,631.8 693.9,631.7 694.5,631.6 695.2,631.6 695.8,631.5 696.5,631.4 697.1,631.3 697.8,631.3 698.4,631.2 699.1,631.1 699.7,631.0 700.4,631.0 701.0,630.9 701.7,630.8 702.3,630.8 703.0,630.7 703.6,630.6 704.3,630.6 704.9,630.5 705.6,630.4 706.2,630.4 706.9,630.3 707.5,630.2 708.2,630.2 708.8,630.1 709.5,630.1 710.1,630.0 710.8,629.9 711.4,629.9 712.1,629.8 712.7,629.8 713.4,629.7 714.0,629.7 714.7,629.6 715.3,629.6 716.0,629.5 716.6,629.5 717.3,629.4 717.9,629.4 718.6,629.3 719.2,629.3 719.9,629.2 720.5,629.2 721.2,629.1 721.8,629.1 722.5,629.0 723.1,629.0 723.8,628.9 724.4,628.9 725.1,628.8 725.7,628.8 726.4,628.7 727.0,628.7 727.7,628.6 728.3,628.6 729.0,628.5 729.6,628.5 730.3,628.5 730.9,628.4 731.6,628.4 732.2,628.3 732.9,628.3 733.5,628.2 734.2,628.2 734.8,628.2 735.5,628.1 736.1,628.1 736.8,628.0 737.4,628.0 738.1,627.9 738.7,627.9 739.4,627.8 740.0,627.8 740.7,627.8 741.3,627.7 742.0,627.7 742.6,627.6 743.3,627.6 743.9,627.5 744.6,627.5 745.2,627.4 745.9,627.4 746.5,627.4 747.2,627.3 747.8,627.3 748.5,627.2 749.1,627.2 749.8,627.1 750.4,627.1 751.1,627.0 751.7,627.0 752.4,626.9 753.0,626.9 753.7,626.8 754.3,626.8 755.0,626.7 755.6,626.7 756.3,626.6 756.9,626.6 757.6,626.5 758.2,626.5 758.9,626.4 759.5,626.4 760.2,626.3 760.8,626.3 761.5,626.2 762.1,626.2 762.8,626.1 763.4,626.1 764.1,626.0 764.7,626.0 765.4,625.9 766.0,625.9 766.7,625.8 767.3,625.8"/><polyline fill="none" stroke="#008000" stroke-width="2" stroke-linejoin="round" points="508.6,749.0 508.9,739.0 509.2,730.6 509.4,725.2 509.7,721.0 509.9,717.5 510.2,714.5 510.5,711.9 510.7,709.5 511.0,707.2 511.2,705.0 511.5,702.9 511.8,701.0 512.0,699.2 512.3,697.6 512.5,696.1 512.8,694.8 513.1,693.5 513.3,692.3 513.6,691.2 513.8,690.1 514.1,689.0 514.4,688.0 514.6,687.1 514.9,686.1 515.1,685.3 515.8,683.3 516.4,681.5 517.1,680.0 517.7,678.6 518.4,677.3 519.0,676.2 519.7,675.1 520.3,674.0 521.0,673.1 521.6,672.2 522.3,671.3 522.9,670.5 523.6,669.7 524.2,668.9 524.9,668.2 525.5,667.5 526.2,666.8 526.8,666.1 527.5,665.5 528.1,664.9 528.8,664.3 529.4,663.7 530.1,663.1 530.7,662.6 531.4,662.1 532.0,661.6 532.7,661.1 533.3,660.6 534.0,660.2 534.6,659.8 535.3,659.3 535.9,658.9 536.6,658.5 537.2,658.1 537.9,657.8 538.5,657.4 539.2,657.1 539.8,656.7 540.5,656.4 541.1,656.1 541.8,655.8 542.4,655.6 543.1,655.3 543.7,655.1 544.4,654.8 545.0,654.6 545.7,654.4 546.3,654.1 547.0,653.9 547.6,653.7 548.3,653.5 548.9,653.4 549.6,653.2 550.2,653.0 550.9,652.8 551.5,652.7 552.2,652.5 552.8,652.4 553.5,652.3 554.1,652.1 554.8,652.0 555.4,651.9 556.1,651.8 556.7,651.7 557.4,651.5 558.0,651.4 558.7,651.3 559.3,651.2 560.0,651.1 560.6,651.0 561.3,650.9 561.9,650.8 562.6,650.7 563.2,650.6 563.9,650.5 564.5,650.4 565.2,650.3 565.8,650.2 566.5,650.1 567.1,650.0 567.8,649.9 568.4,649.8 569.1,649.7 569.7,649.6 570.4,649.5 571.0,649.4 571.7,649.3 572.3,649.2 573.0,649.1 573.6,649.1 574.3,649.0 574.9,648.9 575.6,648.8 576.2,648.8 576.9,648.7 577.5,648.6 578.2,648.6 578.8,648.5 579.5,648.4 580.1,648.4 580.8,648.3 581.4,648.3 582.1,648.2 582.7,648.1 583.4,648.1 584.0,648.0 584.7,648.0 585.3,647.9 586.0,647.9 586.6,647.8 587.3,647.8 587.9,647.7 588.6,647.7 589.2,647.6 589.9,647.6 590.5,647.5 591.2,647.5 591.8,647.4 592.5,647.4 593.1,647.3 593.8,647.3 594.4,647.2 595.1,647.2 595.7,647.1 596.4,647.1 597.0,647.1 597.7,647.0 598.3,647.0 599.0,646.9 599.6,646.9 600.3,646.9 600.9,646.8 601.6,646.8 602.2,646.8 602.9,646.7 603.5,646.7 604.2,646.7 604.8,646.6 605.5,646.6 606.1,646.6 606.8,646.5 607.4,646.5 608.1,646.4 608.7,646.4 609.4,646.4 610.0,646.3 610.7,646.3 611.3,646.3 612.0,646.2 612.6,646.2 613.3,646.1 613.9,646.1 614.6,646.1 615.2,646.0 615.9,646.0 616.5,645.9 617.2,645.9 617.8,645.8 618.5,645.8 619.1,645.7 619.8,645.7 620.4,645.6 621.1,645.6 621.7,645.5 622.4,645.5 623.0,645.4 623.7,645.4 624.3,645.3 625.0,645.3 625.6,645.2 626.3,645.2 626.9,645.2 627.6,645.1 628.2,645.1 628.9,645.0 629.5,645.0 630.2,644.9 630.8,644.9 631.5,644.8 632.1,644.8 632.8,644.7 633.4,644.7 634.1,644.6 634.7,644.6 635.4,644.6 636.0,644.5 636.7,644.5 637.3,644.4 638.0,644.4 638.6,644.3 639.3,644.3 639.9,644.3 640.6,644.2 641.2,644.2 641.9,644.1 642.5,644.1 643.2,644.1 643.8,644.0 644.5,644.0 645.1,643.9 645.8,643.9 646.4,643.9 647.1,643.8 647.7,643.8 648.4,643.7 649.0,643.7 649.7,643.7 650.3,643.6 651.0,643.6 651.6,643.5 652.3,643.5 652.9,643.4 653.6,643.4 654.2,643.4 654.9,643.3 655.5,643.3 656.2,643.2 656.8,643.2 657.5,643.1 658.1,643.1 658.8,643.0 659.4,643.0 660.1,642.9 660.7,642.9 661.4,642.8 662.0,642.8 662.7,642.7 663.3,642.7 664.0,642.6 664.6,642.6 665.3,642.5 665.9,642.5 666.6,642.4 667.2,642.4 667.9,642.3 668.5,642.3 669.2,642.2 669.8,642.2 670.5,642.1 671.1,642.1 671.8,642.0 672.4,642.0 673.1,641.9 673.7,641.9 674.4,641.8 675.0,641.8 675.7,641.7 676.3,641.7 677.0,641.6 677.6,641.6 678.3,641.5 678.9,641.5 679.6,641.4 680.2,641.4 680.9,641.3 681.5,641.3 682.2,641.2 682.8,641.1 683.5,641.1 684.1,641.0 684.8,641.0 685.4,640.9 686.1,640.9 686.7,640.8 687.4,640.8 688.0,640.7 688.7,640.7 689.3,640.6 690.0,640.6 690.6,640.5 691.3,640.5 691.9,640.4 692.6,640.4 693.2,640.3 693.9,640.3 694.5,640.2 695.2,640.2 695.8,640.2 696.5,640.1 697.1,640.1 697.8,640.0 698.4,640.0 699.1,639.9 699.7,639.9 700.4,639.8 701.0,639.8 701.7,639.8 702.3,639.7 703.0,639.7 703.6,639.7 704.3,639.6 704.9,639.6 705.6,639.5 706.2,639.5 706.9,639.5 707.5,639.5 708.2,639.4 708.8,639.4 709.5,639.4 710.1,639.3 710.8,639.3 711.4,639.3 712.1,639.3 712.7,639.2 713.4,639.2 714.0,639.2 714.7,639.2 715.3,639.1 716.0,639.1 716.6,639.1 717.3,639.1 717.9,639.0 718.6,639.0 719.2,639.0 719.9,639.0 720.5,639.0 721.2,638.9 721.8,638.9 722.5,638.9 723.1,638.9 723.8,638.9 724.4,638.8 725.1,638.8 725.7,638.8 726.4,638.8 727.0,638.8 727.7,638.7 728.3,638.7 729.0,638.7 729.6,638.7 730.3,638.7 730.9,638.7 731.6,638.6 732.2,638.6 732.9,638.6 733.5,638.6 734.2,638.6 734.8,638.6 735.5,638.5 736.1,638.5 736.8,638.5 737.4,638.5 738.1,638.5 738.7,638.5 739.4,638.4 740.0,638.4 740.7,638.4 741.3,638.4 742.0,638.4 742.6,638.4 743.3,638.4 743.9,638.3 744.6,638.3 745.2,638.3 745.9,638.3 746.5,638.3 747.2,638.3 747.8,638.3 748.5,638.2 749.1,638.2 749.8,638.2 750.4,638.2 751.1,638.2 751.7,638.2 752.4,638.2 753.0,638.2 753.7,638.1 754.3,638.1 755.0,638.1 755.6,638.1 756.3,638.1 756.9,638.1 757.6,638.1 758.2,638.1 758.9,638.1 759.5,638.0 760.2,638.0 760.8,638.0 761.5,638.0 762.1,638.0 762.8,638.0 763.4,638.0 764.1,638.0 764.7,638.0 765.4,638.0 766.0,637.9 766.7,637.9 767.3,637.9"/></g>
<g clip-path="url(#c12)"><polygon fill="#0000ff" fill-opacity="0.5" points="849.9,877.7 850.2,874.9 850.5,861.6 850.7,852.4 851.0,847.0 851.2,842.7 851.5,839.2 851.8,836.5 852.0,834.1 852.3,831.9 852.5,829.9 852.8,828.1 853.1,826.5 853.3,825.0 853.6,823.6 853.8,822.3 854.1,821.1 854.4,819.9 854.6,818.7 854.9,817.6 855.1,816.6 855.4,815.6 855.7,814.6 855.9,813.7 856.2,812.8 856.4,811.9 857.1,809.8 857.7,807.9 858.4,806.1 859.0,804.2 859.7,802.5 860.3,800.8 861.0,799.2 861.6,797.7 862.3,796.3 862.9,794.9 863.6,793.7 864.2,792.5 864.9,791.4 865.5,790.3 866.2,789.2 866.8,788.1 867.5,787.1 868.1,785.9 868.8,784.8 869.4,783.7 870.1,782.6 870.7,781.4 871.4,780.3 872.0,779.2 872.7,778.1 873.3,776.9 874.0,775.8 874.6,774.7 875.3,773.5 875.9,772.4 876.6,771.2 877.2,770.1 877.9,768.9 878.5,767.8 879.2,766.6 879.8,765.4 880.5,764.2 881.1,763.0 881.8,761.8 882.4,760.5 883.1,759.3 883.7,758.0 884.4,756.6 885.0,755.2 885.7,753.8 886.3,752.3 887.0,750.8 887.6,749.3 888.3,747.9 888.9,746.5 889.6,745.2 890.2,743.8 890.9,742.5 891.5,741.2 892.2,739.8 892.8,738.5 893.5,737.1 894.1,735.8 894.8,734.4 895.4,733.1 896.1,731.8 896.7,730.5 897.4,729.2 898.0,727.8 898.7,726.5 899.3,725.2 900.0,723.9 900.6,722.6 901.3,721.3 901.9,720.0 902.6,718.6 903.2,717.2 903.9,715.7 904.5,714.3 905.2,712.8 905.8,711.4 906.5,710.1 907.1,708.9 907.8,707.9 908.4,706.9 909.1,706.1 909.7,705.2 910.4,704.4 911.0,703.6 911.7,702.8 912.3,702.1 913.0,701.4 913.6,700.8 914.3,700.1 914.9,699.5 915.6,698.9 916.2,698.3 916.9,697.7 917.5,697.1 918.2,696.4 918.8,695.7 919.5,695.0 920.1,694.2 920.8,693.4 921.4,692.6 922.1,691.8 922.7,691.0 923.4,690.3 924.0,689.6 924.7,688.9 925.3,688.2 926.0,687.6 926.6,687.0 927.3,686.4 927.9,685.9 928.6,685.3 929.2,684.8 929.9,684.2 930.5,683.7 931.2,683.1 931.8,682.5 932.5,681.8 933.1,681.2 933.8,680.6 934.4,679.9 935.1,679.3 935.7,678.7 936.4,678.1 937.0,677.5 937.7,677.0 938.3,676.4 939.0,675.9 939.6,675.3 940.3,674.8 940.9,674.2 941.6,673.7 942.2,673.2 942.9,672.7 943.5,672.2 944.2,671.6 944.8,671.1 945.5,670.6 946.1,670.2 946.8,669.7 947.4,669.2 948.1,668.7 948.7,668.3 949.4,667.8 950.0,667.4 950.7,666.9 951.3,666.4 952.0,666.0 952.6,665.6 953.3,665.1 953.9,664.7 954.6,664.3 955.2,663.9 955.9,663.4 956.5,663.0 957.2,662.7 957.8,662.3 958.5,661.9 959.1,661.6 959.8,661.2 960.4,660.9 961.1,660.6 961.7,660.3 962.4,660.0 963.0,659.7 963.7,659.4 964.3,659.1 965.0,658.9 965.6,658.6 966.3,658.4 966.9,658.1 967.6,657.9 968.2,657.6 968.9,657.4 969.5,657.1 970.2,656.9 970.8,656.7 971.5,656.4 972.1,656.2 972.8,656.0 973.4,655.8 974.1,655.5 974.7,655.3 975.4,655.1 976.0,654.9 976.7,654.7 977.3,654.4 978.0,654.2 978.6,654.0 979.3,653.8 979.9,653.6 980.6,653.5 981.2,653.3 981.9,653.1 982.5,652.9 983.2,652.8 983.8,652.6 984.5,652.5 985.1,652.4 985.8,652.2 986.4,652.1 987.1,652.0 987.7,651.9 988.4,651.8 989.0,651.7 989.7,651.6 990.3,651.5 991.0,651.4 991.6,651.3 992.3,651.2 992.9,651.1 993.6,651.0 994.2,650.9 994.9,650.8 995.5,650.8 996.2,650.7 996.8,650.6 997.5,650.5 998.1,650.4 998.8,650.3 999.4,650.3 1000.1,650.2 1000.7,650.1 1001.4,650.0 1002.0,649.9 1002.7,649.9 1003.3,649.8 1004.0,649.7 1004.6,649.6 1005.3,649.6 1005.9,649.5 1006.6,649.4 1007.2,649.3 1007.9,649.3 1008.5,649.2 1009.2,649.1 1009.8,649.1 1010.5,649.0 1011.1,648.9 1011.8,648.9 1012.4,648.8 1013.1,648.7 1013.7,648.7 1014.4,648.6 1015.0,648.5 1015.7,648.5 1016.3,648.4 1017.0,648.3 1017.6,648.3 1018.3,648.2 1018.9,648.2 1019.6,648.1 1020.2,648.0 1020.9,648.0 1021.5,647.9 1022.2,647.9 1022.8,647.8 1023.5,647.7 1024.1,647.7 1024.8,647.6 1025.4,647.6 1026.1,647.5 1026.7,647.5 1027.4,647.4 1028.0,647.4 1028.7,647.3 1029.3,647.2 1030.0,647.2 1030.6,647.1 1031.3,647.1 1031.9,647.0 1032.6,647.0 1033.2,646.9 1033.9,646.9 1034.5,646.8 1035.2,646.8 1035.8,646.7 1036.5,646.7 1037.1,646.6 1037.8,646.6 1038.4,646.5 1039.1,646.5 1039.7,646.4 1040.4,646.4 1041.0,646.3 1041.7,646.3 1042.3,646.3 1043.0,646.2 1043.6,646.2 1044.3,646.1 1044.9,646.1 1045.6,646.0 1046.2,646.0 1046.9,646.0 1047.5,645.9 1048.2,645.9 1048.8,645.8 1049.5,645.8 1050.1,645.8 1050.8,645.7 1051.4,645.7 1052.1,645.7 1052.7,645.6 1053.4,645.6 1054.0,645.6 1054.7,645.6 1055.3,645.5 1056.0,645.5 1056.6,645.5 1057.3,645.4 1057.9,645.4 1058.6,645.4 1059.2,645.4 1059.9,645.3 1060.5,645.3 1061.2,645.3 1061.8,645.3 1062.5,645.2 1063.1,645.2 1063.8,645.2 1064.4,645.2 1065.1,645.1 1065.7,645.1 1066.4,645.1 1067.0,645.1 1067.7,645.0 1068.3,645.0 1069.0,645.0 1069.6,645.0 1070.3,644.9 1070.9,644.9 1071.6,644.9 1072.2,644.9 1072.9,644.8 1073.5,644.8 1074.2,644.8 1074.8,644.7 1075.5,644.7 1076.1,644.7 1076.8,644.6 1077.4,644.6 1078.1,644.6 1078.7,644.6 1079.4,644.5 1080.0,644.5 1080.7,644.5 1081.3,644.4 1082.0,644.4 1082.6,644.4 1083.3,644.4 1083.9,644.3 1084.6,644.3 1085.2,644.3 1085.9,644.3 1086.5,644.2 1087.2,644.2 1087.8,644.2 1088.5,644.2 1089.1,644.1 1089.8,644.1 1090.4,644.1 1091.1,644.1 1091.7,644.0 1092.4,644.0 1093.0,644.0 1093.7,644.0 1094.3,644.0 1095.0,643.9 1095.6,643.9 1096.3,643.9 1096.9,643.9 1097.6,643.9 1098.2,643.8 1098.9,643.8 1099.5,643.8 1100.2,643.8 1100.8,643.8 1101.5,643.8 1102.1,643.7 1102.8,643.7 1103.4,643.7 1104.1,643.7 1104.7,643.7 1105.4,643.7 1106.0,643.6 1106.7,643.6 1107.3,643.6 1108.0,643.6 1108.6,643.6 1108.6,646.4 1108.0,646.4 1107.3,646.4 1106.7,646.5 1106.0,646.5 1105.4,646.5 1104.7,646.5 1104.1,646.5 1103.4,646.5 1102.8,646.5 1102.1,646.6 1101.5,646.6 1100.8,646.6 1100.2,646.6 1099.5,646.6 1098.9,646.7 1098.2,646.7 1097.6,646.7 1096.9,646.7 1096.3,646.7 1095.6,646.8 1095.0,646.8 1094.3,646.8 1093.7,646.8 1093.0,646.8 1092.4,646.9 1091.7,646.9 1091.1,646.9 1090.4,646.9 1089.8,647.0 1089.1,647.0 1088.5,647.0 1087.8,647.0 1087.2,647.1 1086.5,647.1 1085.9,647.1 1085.2,647.1 1084.6,647.2 1083.9,647.2 1083.3,647.2 1082.6,647.2 1082.0,647.3 1081.3,647.3 1080.7,647.3 1080.0,647.4 1079.4,647.4 1078.7,647.4 1078.1,647.5 1077.4,647.5 1076.8,647.5 1076.1,647.5 1075.5,647.6 1074.8,647.6 1074.2,647.6 1073.5,647.7 1072.9,647.7 1072.2,647.7 1071.6,647.8 1070.9,647.8 1070.3,647.8 1069.6,647.8 1069.0,647.9 1068.3,647.9 1067.7,647.9 1067.0,648.0 1066.4,648.0 1065.7,648.0 1065.1,648.0 1064.4,648.1 1063.8,648.1 1063.1,648.1 1062.5,648.2 1061.8,648.2 1061.2,648.2 1060.5,648.2 1059.9,648.3 1059.2,648.3 1058.6,648.3 1057.9,648.3 1057.3,648.4 1056.6,648.4 1056.0,648.4 1055.3,648.5 1054.7,648.5 1054.0,648.5 1053.4,648.6 1052.7,648.6 1052.1,648.6 1051.4,648.7 1050.8,648.7 1050.1,648.7 1049.5,648.8 1048.8,648.8 1048.2,648.8 1047.5,648.9 1046.9,648.9 1046.2,649.0 1045.6,649.0 1044.9,649.1 1044.3,649.1 1043.6,649.2 1043.0,649.2 1042.3,649.2 1041.7,649.3 1041.0,649.3 1040.4,649.4 1039.7,649.4 1039.1,649.5 1038.4,649.5 1037.8,649.6 1037.1,649.7 1036.5,649.7 1035.8,649.8 1035.2,649.8 1034.5,649.9 1033.9,649.9 1033.2,650.0 1032.6,650.0 1031.9,650.1 1031.3,650.1 1030.6,650.2 1030.0,650.2 1029.3,650.3 1028.7,650.4 1028.0,650.4 1027.4,650.5 1026.7,650.5 1026.1,650.6 1025.4,650.6 1024.8,650.7 1024.1,650.8 1023.5,650.8 1022.8,650.9 1022.2,651.0 1021.5,651.0 1020.9,651.1 1020.2,651.1 1019.6,651.2 1018.9,651.3 1018.3,651.3 1017.6,651.4 1017.0,651.5 1016.3,651.5 1015.7,651.6 1015.0,651.7 1014.4,651.7 1013.7,651.8 1013.1,651.9 1012.4,651.9 1011.8,652.0 1011.1,652.1 1010.5,652.2 1009.8,652.2 1009.2,652.3 1008.5,652.4 1007.9,652.5 1007.2,652.5 1006.6,652.6 1005.9,652.7 1005.3,652.8 1004.6,652.8 1004.0,652.9 1003.3,653.0 1002.7,653.1 1002.0,653.2 1001.4,653.2 1000.7,653.3 1000.1,653.4 999.4,653.5 998.8,653.6 998.1,653.7 997.5,653.8 996.8,653.8 996.2,653.9 995.5,654.0 994.9,654.1 994.2,654.2 993.6,654.3 992.9,654.4 992.3,654.5 991.6,654.6 991.0,654.7 990.3,654.8 989.7,654.9 989.0,655.0 988.4,655.1 987.7,655.2 987.1,655.4 986.4,655.5 985.8,655.6 985.1,655.7 984.5,655.9 983.8,656.0 983.2,656.2 982.5,656.3 981.9,656.5 981.2,656.7 980.6,656.8 979.9,657.0 979.3,657.2 978.6,657.4 978.0,657.7 977.3,657.9 976.7,658.1 976.0,658.3 975.4,658.5 974.7,658.8 974.1,659.0 973.4,659.2 972.8,659.5 972.1,659.7 971.5,659.9 970.8,660.2 970.2,660.4 969.5,660.6 968.9,660.9 968.2,661.1 967.6,661.4 966.9,661.7 966.3,661.9 965.6,662.2 965.0,662.5 964.3,662.7 963.7,663.0 963.0,663.3 962.4,663.6 961.7,663.9 961.1,664.2 960.4,664.6 959.8,664.9 959.1,665.3 958.5,665.6 957.8,666.0 957.2,666.4 956.5,666.8 955.9,667.2 955.2,667.6 954.6,668.1 953.9,668.5 953.3,669.0 952.6,669.4 952.0,669.9 951.3,670.3 950.7,670.8 950.0,671.3 949.4,671.8 948.7,672.2 948.1,672.7 947.4,673.2 946.8,673.7 946.1,674.2 945.5,674.7 944.8,675.2 944.2,675.8 943.5,676.3 942.9,676.9 942.2,677.4 941.6,678.0 940.9,678.5 940.3,679.1 939.6,679.7 939.0,680.3 938.3,680.9 937.7,681.5 937.0,682.1 936.4,682.7 935.7,683.3 935.1,684.0 934.4,684.7 933.8,685.4 933.1,686.1 932.5,686.7 931.8,687.4 931.2,688.1 930.5,688.7 929.9,689.4 929.2,690.0 928.6,690.6 927.9,691.3 927.3,691.9 926.6,692.6 926.0,693.3 925.3,694.0 924.7,694.8 924.0,695.6 923.4,696.5 922.7,697.4 922.1,698.3 921.4,699.2 920.8,700.2 920.1,701.2 919.5,702.1 918.8,703.1 918.2,704.1 917.5,705.1 916.9,706.1 916.2,707.2 915.6,708.3 914.9,709.4 914.3,710.5 913.6,711.5 913.0,712.6 912.3,713.6 911.7,714.7 911.0,715.8 910.4,716.9 909.7,718.0 909.1,719.1 908.4,720.2 907.8,721.3 907.1,722.5 906.5,723.7 905.8,724.9 905.2,726.2 904.5,727.4 903.9,728.7 903.2,729.9 902.6,731.2 901.9,732.4 901.3,733.6 900.6,734.8 900.0,736.1 899.3,737.3 898.7,738.6 898.0,739.8 897.4,741.1 896.7,742.3 896.1,743.6 895.4,744.8 894.8,746.1 894.1,747.4 893.5,748.6 892.8,749.9 892.2,751.2 891.5,752.4 890.9,753.7 890.2,754.9 889.6,756.1 888.9,757.3 888.3,758.4 887.6,759.4 887.0,760.3 886.3,761.2 885.7,762.1 885.0,762.9 884.4,763.8 883.7,764.8 883.1,765.7 882.4,766.7 881.8,767.7 881.1,768.6 880.5,769.6 879.8,770.5 879.2,771.5 878.5,772.5 877.9,773.4 877.2,774.4 876.6,775.3 875.9,776.3 875.3,777.3 874.6,778.3 874.0,779.3 873.3,780.3 872.7,781.3 872.0,782.3 871.4,783.3 870.7,784.3 870.1,785.3 869.4,786.3 868.8,787.3 868.1,788.4 867.5,789.4 866.8,790.3 866.2,791.3 865.5,792.3 864.9,793.3 864.2,794.4 863.6,795.5 862.9,796.6 862.3,797.9 861.6,799.2 861.0,800.7 860.3,802.2 859.7,803.8 859.0,805.5 858.4,807.3 857.7,809.1 857.1,810.9 856.4,812.9 856.2,813.7 855.9,814.6 855.7,815.5 855.4,816.5 855.1,817.5 854.9,818.5 854.6,819.6 854.4,820.7 854.1,821.9 853.8,823.1 853.6,824.4 853.3,825.7 853.1,827.2 852.8,828.8 852.5,830.6 852.3,832.6 852.0,834.7 851.8,837.1 851.5,839.9 851.2,843.3 851.0,847.6 850.7,853.0 850.5,862.2 850.2,875.4 849.9,878.3"/><polygon fill="#ff0000" fill-opacity="0.5" points="849.9,789.8 850.2,779.6 850.5,769.7 850.7,759.8 851.0,749.3 851.2,741.7 851.5,737.1 851.8,733.3 852.0,730.1 852.3,727.4 852.5,725.1 852.8,723.0 853.1,721.2 853.3,719.4 853.6,717.8 853.8,716.4 854.1,715.0 854.4,713.7 854.6,712.5 854.9,711.4 855.1,710.3 855.4,709.2 855.7,708.2 855.9,707.2 856.2,706.2 856.4,705.3 857.1,703.0 857.7,701.0 858.4,699.0 859.0,697.2 859.7,695.4 860.3,693.7 861.0,692.1 861.6,690.4 862.3,688.8 862.9,687.3 863.6,685.8 864.2,684.4 864.9,683.1 865.5,681.8 866.2,680.6 866.8,679.5 867.5,678.4 868.1,677.3 868.8,676.3 869.4,675.3 870.1,674.4 870.7,673.5 871.4,672.6 872.0,671.7 872.7,670.8 873.3,670.0 874.0,669.1 874.6,668.4 875.3,667.6 875.9,666.9 876.6,666.2 877.2,665.6 877.9,664.9 878.5,664.3 879.2,663.7 879.8,663.1 880.5,662.6 881.1,662.0 881.8,661.5 882.4,661.0 883.1,660.5 883.7,660.0 884.4,659.5 885.0,659.0 885.7,658.5 886.3,658.0 887.0,657.6 887.6,657.1 888.3,656.6 888.9,656.2 889.6,655.8 890.2,655.4 890.9,655.1 891.5,654.8 892.2,654.5 892.8,654.2 893.5,654.0 894.1,653.8 894.8,653.5 895.4,653.3 896.1,653.1 896.7,652.9 897.4,652.7 898.0,652.6 898.7,652.4 899.3,652.2 900.0,652.1 900.6,651.9 901.3,651.7 901.9,651.6 902.6,651.5 903.2,651.3 903.9,651.2 904.5,651.0 905.2,650.9 905.8,650.8 906.5,650.7 907.1,650.5 907.8,650.4 908.4,650.3 909.1,650.2 909.7,650.1 910.4,650.0 911.0,649.9 911.7,649.8 912.3,649.7 913.0,649.6 913.6,649.5 914.3,649.4 914.9,649.3 915.6,649.1 916.2,649.0 916.9,648.9 917.5,648.8 918.2,648.7 918.8,648.5 919.5,648.4 920.1,648.3 920.8,648.2 921.4,648.1 922.1,647.9 922.7,647.8 923.4,647.7 924.0,647.5 924.7,647.4 925.3,647.3 926.0,647.2 926.6,647.1 927.3,646.9 927.9,646.8 928.6,646.7 929.2,646.6 929.9,646.4 930.5,646.3 931.2,646.2 931.8,646.1 932.5,646.0 933.1,645.9 933.8,645.8 934.4,645.6 935.1,645.5 935.7,645.4 936.4,645.3 937.0,645.2 937.7,645.1 938.3,645.0 939.0,644.9 939.6,644.8 940.3,644.7 940.9,644.6 941.6,644.6 942.2,644.5 942.9,644.4 943.5,644.3 944.2,644.2 944.8,644.1 945.5,644.0 946.1,643.9 946.8,643.8 947.4,643.7 948.1,643.6 948.7,643.5 949.4,643.5 950.0,643.4 950.7,643.3 951.3,643.2 952.0,643.1 952.6,643.0 953.3,643.0 953.9,642.9 954.6,642.8 955.2,642.7 955.9,642.5 956.5,642.3 957.2,642.2 957.8,642.0 958.5,641.8 959.1,641.6 959.8,641.4 960.4,641.2 961.1,641.0 961.7,640.9 962.4,640.8 963.0,640.6 963.7,640.5 964.3,640.4 965.0,640.3 965.6,640.2 966.3,640.1 966.9,640.0 967.6,639.9 968.2,639.7 968.9,639.6 969.5,639.5 970.2,639.3 970.8,639.1 971.5,638.9 972.1,638.7 972.8,638.5 973.4,638.3 974.1,638.0 974.7,637.8 975.4,637.5 976.0,637.3 976.7,637.0 977.3,636.8 978.0,636.5 978.6,636.3 979.3,636.0 979.9,635.7 980.6,635.5 981.2,635.2 981.9,634.9 982.5,634.6 983.2,634.3 983.8,634.0 984.5,633.7 985.1,633.3 985.8,633.0 986.4,632.7 987.1,632.4 987.7,632.1 988.4,631.8 989.0,631.4 989.7,631.1 990.3,630.8 991.0,630.5 991.6,630.2 992.3,629.9 992.9,629.6 993.6,629.3 994.2,629.0 994.9,628.8 995.5,628.5 996.2,628.2 996.8,628.0 997.5,627.8 998.1,627.5 998.8,627.3 999.4,627.2 1000.1,627.0 1000.7,626.8 1001.4,626.6 1002.0,626.5 1002.7,626.4 1003.3,626.2 1004.0,626.1 1004.6,626.0 1005.3,625.9 1005.9,625.8 1006.6,625.7 1007.2,625.7 1007.9,625.6 1008.5,625.5 1009.2,625.5 1009.8,625.5 1010.5,625.4 1011.1,625.4 1011.8,625.4 1012.4,625.4 1013.1,625.4 1013.7,625.3 1014.4,625.3 1015.0,625.3 1015.7,625.3 1016.3,625.2 1017.0,625.2 1017.6,625.2 1018.3,625.1 1018.9,625.1 1019.6,625.1 1020.2,625.1 1020.9,625.1 1021.5,625.0 1022.2,625.0 1022.8,625.0 1023.5,625.0 1024.1,625.0 1024.8,625.0 1025.4,625.0 1026.1,625.0 1026.7,625.0 1027.4,625.0 1028.0,625.0 1028.7,625.1 1029.3,625.1 1030.0,625.1 1030.6,625.1 1031.3,625.2 1031.9,625.2 1032.6,625.2 1033.2,625.2 1033.9,625.3 1034.5,625.3 1035.2,625.3 1035.8,625.3 1036.5,625.4 1037.1,625.4 1037.8,625.4 1038.4,625.5 1039.1,625.5 1039.7,625.5 1040.4,625.5 1041.0,625.6 1041.7,625.6 1042.3,625.7 1043.0,625.7 1043.6,625.7 1044.3,625.8 1044.9,625.8 1045.6,625.9 1046.2,625.9 1046.9,626.0 1047.5,626.0 1048.2,626.0 1048.8,626.1 1049.5,626.1 1050.1,626.1 1050.8,626.1 1051.4,626.2 1052.1,626.2 1052.7,626.2 1053.4,626.2 1054.0,626.2 1054.7,626.1 1055.3,626.1 1056.0,626.1 1056.6,626.0 1057.3,626.0 1057.9,625.9 1058.6,625.8 1059.2,625.8 1059.9,625.7 1060.5,625.7 1061.2,625.6 1061.8,625.6 1062.5,625.5 1063.1,625.5 1063.8,625.4 1064.4,625.4 1065.1,625.3 1065.7,625.3 1066.4,625.3 1067.0,625.2 1067.7,625.2 1068.3,625.2 1069.0,625.2 1069.6,625.2 1070.3,625.2 1070.9,625.2 1071.6,625.2 1072.2,625.2 1072.9,625.2 1073.5,625.2 1074.2,625.2 1074.8,625.2 1075.5,625.2 1076.1,625.2 1076.8,625.2 1077.4,625.2 1078.1,625.2 1078.7,625.2 1079.4,625.2 1080.0,625.2 1080.7,625.2 1081.3,625.2 1082.0,625.2 1082.6,625.2 1083.3,625.2 1083.9,625.2 1084.6,625.2 1085.2,625.2 1085.9,625.2 1086.5,625.2 1087.2,625.2 1087.8,625.2 1088.5,625.2 1089.1,625.2 1089.8,625.2 1090.4,625.2 1091.1,625.2 1091.7,625.2 1092.4,625.2 1093.0,625.2 1093.7,625.2 1094.3,625.2 1095.0,625.2 1095.6,625.2 1096.3,625.2 1096.9,625.2 1097.6,625.2 1098.2,625.2 1098.9,625.2 1099.5,625.2 1100.2,625.2 1100.8,625.2 1101.5,625.2 1102.1,625.2 1102.8,625.2 1103.4,625.2 1104.1,625.2 1104.7,625.2 1105.4,625.2 1106.0,625.2 1106.7,625.2 1107.3,625.2 1108.0,625.2 1108.6,625.2 1108.6,625.2 1108.0,625.2 1107.3,625.2 1106.7,625.2 1106.0,625.2 1105.4,625.2 1104.7,625.2 1104.1,625.2 1103.4,625.2 1102.8,625.2 1102.1,625.2 1101.5,625.2 1100.8,625.2 1100.2,625.2 1099.5,625.2 1098.9,625.2 1098.2,625.2 1097.6,625.2 1096.9,625.2 1096.3,625.2 1095.6,625.2 1095.0,625.2 1094.3,625.2 1093.7,625.2 1093.0,625.2 1092.4,625.2 1091.7,625.2 1091.1,625.2 1090.4,625.2 1089.8,625.2 1089.1,625.2 1088.5,625.2 1087.8,625.2 1087.2,625.2 1086.5,625.2 1085.9,625.2 1085.2,625.2 1084.6,625.2 1083.9,625.2 1083.3,625.2 1082.6,625.2 1082.0,625.2 1081.3,625.2 1080.7,625.2 1080.0,625.2 1079.4,625.2 1078.7,625.2 1078.1,625.2 1077.4,625.2 1076.8,625.2 1076.1,625.2 1075.5,625.2 1074.8,625.2 1074.2,625.2 1073.5,625.2 1072.9,625.2 1072.2,625.2 1071.6,625.2 1070.9,625.2 1070.3,625.2 1069.6,625.3 1069.0,625.3 1068.3,625.4 1067.7,625.6 1067.0,625.7 1066.4,625.9 1065.7,626.1 1065.1,626.3 1064.4,626.5 1063.8,626.7 1063.1,627.0 1062.5,627.2 1061.8,627.4 1061.2,627.7 1060.5,627.9 1059.9,628.1 1059.2,628.3 1058.6,628.6 1057.9,628.7 1057.3,628.9 1056.6,629.1 1056.0,629.3 1055.3,629.5 1054.7,629.7 1054.0,629.8 1053.4,630.0 1052.7,630.2 1052.1,630.4 1051.4,630.6 1050.8,630.7 1050.1,630.9 1049.5,631.1 1048.8,631.2 1048.2,631.4 1047.5,631.6 1046.9,631.7 1046.2,631.9 1045.6,632.0 1044.9,632.2 1044.3,632.3 1043.6,632.4 1043.0,632.6 1042.3,632.7 1041.7,632.8 1041.0,632.9 1040.4,633.1 1039.7,633.2 1039.1,633.3 1038.4,633.4 1037.8,633.5 1037.1,633.6 1036.5,633.7 1035.8,633.8 1035.2,633.8 1034.5,633.9 1033.9,634.0 1033.2,634.2 1032.6,634.3 1031.9,634.4 1031.3,634.5 1030.6,634.6 1030.0,634.7 1029.3,634.8 1028.7,634.9 1028.0,635.0 1027.4,635.1 1026.7,635.2 1026.1,635.4 1025.4,635.5 1024.8,635.6 1024.1,635.7 1023.5,635.9 1022.8,636.0 1022.2,636.1 1021.5,636.3 1020.9,636.4 1020.2,636.5 1019.6,636.7 1018.9,636.8 1018.3,636.9 1017.6,637.1 1017.0,637.2 1016.3,637.3 1015.7,637.4 1015.0,637.5 1014.4,637.6 1013.7,637.6 1013.1,637.7 1012.4,637.7 1011.8,637.8 1011.1,637.8 1010.5,637.8 1009.8,637.9 1009.2,637.9 1008.5,637.9 1007.9,638.0 1007.2,638.0 1006.6,638.0 1005.9,638.1 1005.3,638.2 1004.6,638.2 1004.0,638.3 1003.3,638.4 1002.7,638.5 1002.0,638.6 1001.4,638.7 1000.7,638.8 1000.1,639.0 999.4,639.1 998.8,639.3 998.1,639.4 997.5,639.6 996.8,639.8 996.2,639.9 995.5,640.1 994.9,640.3 994.2,640.4 993.6,640.6 992.9,640.8 992.3,640.9 991.6,641.0 991.0,641.2 990.3,641.3 989.7,641.4 989.0,641.5 988.4,641.7 987.7,641.8 987.1,641.9 986.4,642.0 985.8,642.1 985.1,642.2 984.5,642.3 983.8,642.4 983.2,642.5 982.5,642.6 981.9,642.7 981.2,642.7 980.6,642.8 979.9,642.9 979.3,643.0 978.6,643.0 978.0,643.1 977.3,643.1 976.7,643.2 976.0,643.2 975.4,643.2 974.7,643.3 974.1,643.3 973.4,643.3 972.8,643.3 972.1,643.3 971.5,643.3 970.8,643.3 970.2,643.3 969.5,643.3 968.9,643.3 968.2,643.3 967.6,643.3 966.9,643.3 966.3,643.3 965.6,643.3 965.0,643.2 964.3,643.2 963.7,643.2 963.0,643.2 962.4,643.2 961.7,643.2 961.1,643.1 960.4,643.1 959.8,643.0 959.1,643.0 958.5,642.9 957.8,642.9 957.2,642.8 956.5,642.8 955.9,642.8 955.2,642.8 954.6,642.8 953.9,642.9 953.3,643.0 952.6,643.0 952.0,643.1 951.3,643.2 950.7,643.3 950.0,643.4 949.4,643.5 948.7,643.5 948.1,643.6 947.4,643.7 946.8,643.8 946.1,643.9 945.5,644.0 944.8,644.1 944.2,644.2 943.5,644.3 942.9,644.4 942.2,644.5 941.6,644.6 940.9,644.6 940.3,644.7 939.6,644.8 939.0,644.9 938.3,645.0 937.7,645.1 937.0,645.2 936.4,645.3 935.7,645.4 935.1,645.5 934.4,645.6 933.8,645.8 933.1,645.9 932.5,646.0 931.8,646.1 931.2,646.2 930.5,646.3 929.9,646.4 929.2,646.6 928.6,646.7 927.9,646.8 927.3,646.9 926.6,647.1 926.0,647.2 925.3,647.3 924.7,647.4 924.0,647.5 923.4,647.7 922.7,647.8 922.1,647.9 921.4,648.1 920.8,648.2 920.1,648.3 919.5,648.4 918.8,648.5 918.2,648.7 917.5,648.8 916.9,648.9 916.2,649.0 915.6,649.1 914.9,649.3 914.3,649.4 913.6,649.5 913.0,649.6 912.3,649.7 911.7,649.8 911.0,649.9 910.4,650.0 909.7,650.1 909.1,650.2 908.4,650.3 907.8,650.4 907.1,650.5 906.5,650.7 905.8,650.8 905.2,650.9 904.5,651.0 903.9,651.2 903.2,651.3 902.6,651.5 901.9,651.6 901.3,651.7 900.6,651.9 900.0,652.1 899.3,652.2 898.7,652.4 898.0,652.6 897.4,652.7 896.7,652.9 896.1,653.1 895.4,653.3 894.8,653.5 894.1,653.8 893.5,654.0 892.8,654.2 892.2,654.5 891.5,654.8 890.9,655.1 890.2,655.4 889.6,655.8 888.9,656.2 888.3,656.6 887.6,657.1 887.0,657.6 886.3,658.0 885.7,658.5 885.0,659.0 884.4,659.5 883.7,660.0 883.1,660.5 882.4,661.0 881.8,661.5 881.1,662.0 880.5,662.6 879.8,663.1 879.2,663.7 878.5,664.3 877.9,664.9 877.2,665.6 876.6,666.2 875.9,666.9 875.3,667.6 874.6,668.4 874.0,669.1 873.3,670.0 872.7,670.8 872.0,671.7 871.4,672.6 870.7,673.5 870.1,674.4 869.4,675.3 868.8,676.3 868.1,677.3 867.5,678.4 866.8,679.5 866.2,680.6 865.5,681.8 864.9,683.1 864.2,684.4 863.6,685.8 862.9,687.3 862.3,688.8 861.6,690.4 861.0,692.1 860.3,693.7 859.7,695.4 859.0,697.2 858.4,699.0 857.7,701.0 857.1,703.0 856.4,705.3 856.2,706.2 855.9,707.2 855.7,708.2 855.4,709.2 855.1,710.3 854.9,711.4 854.6,712.5 854.4,713.7 854.1,715.0 853.8,716.4 853.6,717.8 853.3,719.4 853.1,721.2 852.8,723.0 852.5,725.1 852.3,727.4 852.0,730.1 851.8,733.3 851.5,737.1 851.2,741.7 851.0,749.3 850.7,759.8 850.5,769.7 850.2,779.6 849.9,789.8"/><polyline fill="none" stroke="#0000ff" stroke-width="2" stroke-linejoin="round" points="849.9,878.0 850.2,875.2 850.5,861.9 850.7,852.7 851.0,847.3 851.2,843.0 851.5,839.6 851.8,836.8 852.0,834.4 852.3,832.2 852.5,830.3 852.8,828.5 853.1,826.8 853.3,825.3 853.6,824.0 853.8,822.7 854.1,821.5 854.4,820.3 854.6,819.2 854.9,818.1 855.1,817.0 855.4,816.0 855.7,815.1 855.9,814.1 856.2,813.3 856.4,812.4 857.1,810.4 857.7,808.5 858.4,806.7 859.0,804.9 859.7,803.2 860.3,801.5 861.0,799.9 861.6,798.5 862.3,797.1 862.9,795.8 863.6,794.6 864.2,793.4 864.9,792.3 865.5,791.3 866.2,790.3 866.8,789.2 867.5,788.2 868.1,787.1 868.8,786.1 869.4,785.0 870.1,783.9 870.7,782.9 871.4,781.8 872.0,780.7 872.7,779.7 873.3,778.6 874.0,777.5 874.6,776.5 875.3,775.4 875.9,774.3 876.6,773.3 877.2,772.2 877.9,771.2 878.5,770.1 879.2,769.1 879.8,768.0 880.5,766.9 881.1,765.8 881.8,764.7 882.4,763.6 883.1,762.5 883.7,761.4 884.4,760.2 885.0,759.0 885.7,757.8 886.3,756.6 887.0,755.4 887.6,754.1 888.3,752.9 888.9,751.6 889.6,750.4 890.2,749.1 890.9,747.8 891.5,746.6 892.2,745.3 892.8,744.0 893.5,742.6 894.1,741.3 894.8,740.0 895.4,738.8 896.1,737.5 896.7,736.2 897.4,734.9 898.0,733.7 898.7,732.4 899.3,731.1 900.0,729.9 900.6,728.6 901.3,727.4 901.9,726.2 902.6,725.0 903.2,723.8 903.9,722.6 904.5,721.4 905.2,720.3 905.8,719.1 906.5,718.0 907.1,716.8 907.8,715.7 908.4,714.7 909.1,713.6 909.7,712.5 910.4,711.4 911.0,710.4 911.7,709.4 912.3,708.4 913.0,707.4 913.6,706.4 914.3,705.5 914.9,704.6 915.6,703.7 916.2,702.8 916.9,702.0 917.5,701.1 918.2,700.3 918.8,699.4 919.5,698.5 920.1,697.7 920.8,696.8 921.4,695.9 922.1,695.0 922.7,694.2 923.4,693.4 924.0,692.6 924.7,691.8 925.3,691.1 926.0,690.4 926.6,689.8 927.3,689.2 927.9,688.6 928.6,688.0 929.2,687.4 929.9,686.8 930.5,686.2 931.2,685.6 931.8,684.9 932.5,684.3 933.1,683.6 933.8,683.0 934.4,682.3 935.1,681.7 935.7,681.0 936.4,680.4 937.0,679.8 937.7,679.2 938.3,678.7 939.0,678.1 939.6,677.5 940.3,676.9 940.9,676.4 941.6,675.8 942.2,675.3 942.9,674.8 943.5,674.2 944.2,673.7 944.8,673.2 945.5,672.7 946.1,672.2 946.8,671.7 947.4,671.2 948.1,670.7 948.7,670.3 949.4,669.8 950.0,669.3 950.7,668.9 951.3,668.4 952.0,667.9 952.6,667.5 953.3,667.0 953.9,666.6 954.6,666.2 955.2,665.7 955.9,665.3 956.5,664.9 957.2,664.5 957.8,664.1 958.5,663.8 959.1,663.4 959.8,663.1 960.4,662.7 961.1,662.4 961.7,662.1 962.4,661.8 963.0,661.5 963.7,661.2 964.3,660.9 965.0,660.7 965.6,660.4 966.3,660.1 966.9,659.9 967.6,659.6 968.2,659.4 968.9,659.1 969.5,658.9 970.2,658.7 970.8,658.4 971.5,658.2 972.1,658.0 972.8,657.7 973.4,657.5 974.1,657.3 974.7,657.0 975.4,656.8 976.0,656.6 976.7,656.4 977.3,656.2 978.0,655.9 978.6,655.7 979.3,655.5 979.9,655.3 980.6,655.2 981.2,655.0 981.9,654.8 982.5,654.6 983.2,654.5 983.8,654.3 984.5,654.2 985.1,654.0 985.8,653.9 986.4,653.8 987.1,653.7 987.7,653.6 988.4,653.5 989.0,653.4 989.7,653.3 990.3,653.2 991.0,653.1 991.6,653.0 992.3,652.9 992.9,652.8 993.6,652.7 994.2,652.6 994.9,652.5 995.5,652.4 996.2,652.3 996.8,652.2 997.5,652.1 998.1,652.0 998.8,652.0 999.4,651.9 1000.1,651.8 1000.7,651.7 1001.4,651.6 1002.0,651.5 1002.7,651.5 1003.3,651.4 1004.0,651.3 1004.6,651.2 1005.3,651.2 1005.9,651.1 1006.6,651.0 1007.2,650.9 1007.9,650.9 1008.5,650.8 1009.2,650.7 1009.8,650.6 1010.5,650.6 1011.1,650.5 1011.8,650.4 1012.4,650.4 1013.1,650.3 1013.7,650.2 1014.4,650.2 1015.0,650.1 1015.7,650.0 1016.3,650.0 1017.0,649.9 1017.6,649.8 1018.3,649.8 1018.9,649.7 1019.6,649.6 1020.2,649.6 1020.9,649.5 1021.5,649.5 1022.2,649.4 1022.8,649.3 1023.5,649.3 1024.1,649.2 1024.8,649.2 1025.4,649.1 1026.1,649.1 1026.7,649.0 1027.4,648.9 1028.0,648.9 1028.7,648.8 1029.3,648.8 1030.0,648.7 1030.6,648.7 1031.3,648.6 1031.9,648.6 1032.6,648.5 1033.2,648.5 1033.9,648.4 1034.5,648.4 1035.2,648.3 1035.8,648.2 1036.5,648.2 1037.1,648.1 1037.8,648.1 1038.4,648.0 1039.1,648.0 1039.7,647.9 1040.4,647.9 1041.0,647.8 1041.7,647.8 1042.3,647.8 1043.0,647.7 1043.6,647.7 1044.3,647.6 1044.9,647.6 1045.6,647.5 1046.2,647.5 1046.9,647.4 1047.5,647.4 1048.2,647.4 1048.8,647.3 1049.5,647.3 1050.1,647.3 1050.8,647.2 1051.4,647.2 1052.1,647.2 1052.7,647.1 1053.4,647.1 1054.0,647.1 1054.7,647.0 1055.3,647.0 1056.0,647.0 1056.6,646.9 1057.3,646.9 1057.9,646.9 1058.6,646.9 1059.2,646.8 1059.9,646.8 1060.5,646.8 1061.2,646.8 1061.8,646.7 1062.5,646.7 1063.1,646.7 1063.8,646.6 1064.4,646.6 1065.1,646.6 1065.7,646.6 1066.4,646.5 1067.0,646.5 1067.7,646.5 1068.3,646.5 1069.0,646.4 1069.6,646.4 1070.3,646.4 1070.9,646.3 1071.6,646.3 1072.2,646.3 1072.9,646.3 1073.5,646.2 1074.2,646.2 1074.8,646.2 1075.5,646.1 1076.1,646.1 1076.8,646.1 1077.4,646.1 1078.1,646.0 1078.7,646.0 1079.4,646.0 1080.0,645.9 1080.7,645.9 1081.3,645.9 1082.0,645.8 1082.6,645.8 1083.3,645.8 1083.9,645.8 1084.6,645.7 1085.2,645.7 1085.9,645.7 1086.5,645.7 1087.2,645.6 1087.8,645.6 1088.5,645.6 1089.1,645.6 1089.8,645.5 1090.4,645.5 1091.1,645.5 1091.7,645.5 1092.4,645.4 1093.0,645.4 1093.7,645.4 1094.3,645.4 1095.0,645.4 1095.6,645.3 1096.3,645.3 1096.9,645.3 1097.6,645.3 1098.2,645.3 1098.9,645.2 1099.5,645.2 1100.2,645.2 1100.8,645.2 1101.5,645.2 1102.1,645.2 1102.8,645.1 1103.4,645.1 1104.1,645.1 1104.7,645.1 1105.4,645.1 1106.0,645.1 1106.7,645.0 1107.3,645.0 1108.0,645.0 1108.6,645.0"/><polyline fill="none" stroke="#ff0000" stroke-width="2" stroke-linejoin="round" points="849.9,789.8 850.2,779.6 850.5,769.7 850.7,759.8 851.0,749.3 851.2,741.7 851.5,737.1 851.8,733.3 852.0,730.1 852.3,727.4 852.5,725.1 852.8,723.0 853.1,721.2 853.3,719.4 853.6,717.8 853.8,716.4 854.1,715.0 854.4,713.7 854.6,712.5 854.9,711.4 855.1,710.3 855.4,709.2 855.7,708.2 855.9,707.2 856.2,706.2 856.4,705.3 857.1,703.0 857.7,701.0 858.4,699.0 859.0,697.2 859.7,695.4 860.3,693.7 861.0,692.1 861.6,690.4 862.3,688.8 862.9,687.3 863.6,685.8 864.2,684.4 864.9,683.1 865.5,681.8 866.2,680.6 866.8,679.5 867.5,678.4 868.1,677.3 868.8,676.3 869.4,675.3 870.1,674.4 870.7,673.5 871.4,672.6 872.0,671.7 872.7,670.8 873.3,670.0 874.0,669.1 874.6,668.4 875.3,667.6 875.9,666.9 876.6,666.2 877.2,665.6 877.9,664.9 878.5,664.3 879.2,663.7 879.8,663.1 880.5,662.6 881.1,662.0 881.8,661.5 882.4,661.0 883.1,660.5 883.7,660.0 884.4,659.5 885.0,659.0 885.7,658.5 886.3,658.0 887.0,657.6 887.6,657.1 888.3,656.6 888.9,656.2 889.6,655.8 890.2,655.4 890.9,655.1 891.5,654.8 892.2,654.5 892.8,654.2 893.5,654.0 894.1,653.8 894.8,653.5 895.4,653.3 896.1,653.1 896.7,652.9 897.4,652.7 898.0,652.6 898.7,652.4 899.3,652.2 900.0,652.1 900.6,651.9 901.3,651.7 901.9,651.6 902.6,651.5 903.2,651.3 903.9,651.2 904.5,651.0 905.2,650.9 905.8,650.8 906.5,650.7 907.1,650.5 907.8,650.4 908.4,650.3 909.1,650.2 909.7,650.1 910.4,650.0 911.0,649.9 911.7,649.8 912.3,649.7 913.0,649.6 913.6,649.5 914.3,649.4 914.9,649.3 915.6,649.1 916.2,649.0 916.9,648.9 917.5,648.8 918.2,648.7 918.8,648.5 919.5,648.4 920.1,648.3 920.8,648.2 921.4,648.1 922.1,647.9 922.7,647.8 923.4,647.7 924.0,647.5 924.7,647.4 925.3,647.3 926.0,647.2 926.6,647.1 927.3,646.9 927.9,646.8 928.6,646.7 929.2,646.6 929.9,646.4 930.5,646.3 931.2,646.2 931.8,646.1 932.5,646.0 933.1,645.9 933.8,645.8 934.4,645.6 935.1,645.5 935.7,645.4 936.4,645.3 937.0,645.2 937.7,645.1 938.3,645.0 939.0,644.9 939.6,644.8 940.3,644.7 940.9,644.6 941.6,644.6 942.2,644.5 942.9,644.4 943.5,644.3 944.2,644.2 944.8,644.1 945.5,644.0 946.1,643.9 946.8,643.8 947.4,643.7 948.1,643.6 948.7,643.5 949.4,643.5 950.0,643.4 950.7,643.3 951.3,643.2 952.0,643.1 952.6,643.0 953.3,643.0 953.9,642.9 954.6,642.8 955.2,642.7 955.9,642.6 956.5,642.6 957.2,642.5 957.8,642.4 958.5,642.4 959.1,642.3 959.8,642.2 960.4,642.2 961.1,642.1 961.7,642.0 962.4,642.0 963.0,641.9 963.7,641.9 964.3,641.8 965.0,641.8 965.6,641.7 966.3,641.7 966.9,641.6 967.6,641.6 968.2,641.5 968.9,641.4 969.5,641.4 970.2,641.3 970.8,641.2 971.5,641.2 972.1,641.1 972.8,641.0 973.4,640.9 974.1,640.8 974.7,640.8 975.4,640.7 976.0,640.6 976.7,640.5 977.3,640.4 978.0,640.3 978.6,640.2 979.3,640.1 979.9,640.0 980.6,639.9 981.2,639.8 981.9,639.7 982.5,639.6 983.2,639.5 983.8,639.4 984.5,639.3 985.1,639.1 985.8,639.0 986.4,638.9 987.1,638.8 987.7,638.7 988.4,638.5 989.0,638.4 989.7,638.3 990.3,638.2 991.0,638.0 991.6,637.9 992.3,637.7 992.9,637.5 993.6,637.4 994.2,637.2 994.9,637.0 995.5,636.8 996.2,636.6 996.8,636.4 997.5,636.2 998.1,636.0 998.8,635.8 999.4,635.6 1000.1,635.4 1000.7,635.2 1001.4,635.0 1002.0,634.8 1002.7,634.6 1003.3,634.4 1004.0,634.2 1004.6,634.0 1005.3,633.8 1005.9,633.6 1006.6,633.4 1007.2,633.2 1007.9,633.0 1008.5,632.9 1009.2,632.7 1009.8,632.6 1010.5,632.4 1011.1,632.3 1011.8,632.1 1012.4,632.0 1013.1,631.8 1013.7,631.7 1014.4,631.5 1015.0,631.4 1015.7,631.2 1016.3,631.1 1017.0,631.0 1017.6,630.8 1018.3,630.7 1018.9,630.6 1019.6,630.4 1020.2,630.3 1020.9,630.2 1021.5,630.1 1022.2,629.9 1022.8,629.8 1023.5,629.7 1024.1,629.6 1024.8,629.5 1025.4,629.4 1026.1,629.3 1026.7,629.2 1027.4,629.1 1028.0,629.0 1028.7,628.9 1029.3,628.8 1030.0,628.7 1030.6,628.6 1031.3,628.5 1031.9,628.4 1032.6,628.3 1033.2,628.3 1033.9,628.2 1034.5,628.1 1035.2,628.1 1035.8,628.0 1036.5,627.9 1037.1,627.8 1037.8,627.8 1038.4,627.7 1039.1,627.6 1039.7,627.6 1040.4,627.5 1041.0,627.5 1041.7,627.4 1042.3,627.3 1043.0,627.3 1043.6,627.2 1044.3,627.2 1044.9,627.1 1045.6,627.1 1046.2,627.0 1046.9,626.9 1047.5,626.9 1048.2,626.8 1048.8,626.8 1049.5,626.7 1050.1,626.7 1050.8,626.6 1051.4,626.6 1052.1,626.5 1052.7,626.4 1053.4,626.4 1054.0,626.3 1054.7,626.2 1055.3,626.2 1056.0,626.1 1056.6,626.0 1057.3,626.0 1057.9,625.9 1058.6,625.8 1059.2,625.8 1059.9,625.7 1060.5,625.7 1061.2,625.6 1061.8,625.6 1062.5,625.5 1063.1,625.5 1063.8,625.4 1064.4,625.4 1065.1,625.3 1065.7,625.3 1066.4,625.3 1067.0,625.2 1067.7,625.2 1068.3,625.2 1069.0,625.2 1069.6,625.2 1070.3,625.2 1070.9,625.2 1071.6,625.2 1072.2,625.2 1072.9,625.2 1073.5,625.2 1074.2,625.2 1074.8,625.2 1075.5,625.2 1076.1,625.2 1076.8,625.2 1077.4,625.2 1078.1,625.2 1078.7,625.2 1079.4,625.2 1080.0,625.2 1080.7,625.2 1081.3,625.2 1082.0,625.2 1082.6,625.2 1083.3,625.2 1083.9,625.2 1084.6,625.2 1085.2,625.2 1085.9,625.2 1086.5,625.2 1087.2,625.2 1087.8,625.2 1088.5,625.2 1089.1,625.2 1089.8,625.2 1090.4,625.2 1091.1,625.2 1091.7,625.2 1092.4,625.2 1093.0,625.2 1093.7,625.2 1094.3,625.2 1095.0,625.2 1095.6,625.2 1096.3,625.2 1096.9,625.2 1097.6,625.2 1098.2,625.2 1098.9,625.2 1099.5,625.2 1100.2,625.2 1100.8,625.2 1101.5,625.2 1102.1,625.2 1102.8,625.2 1103.4,625.2 1104.1,625.2 1104.7,625.2 1105.4,625.2 1106.0,625.2 1106.7,625.2 1107.3,625.2 1108.0,625.2 1108.6,625.2"/></g>
<g opacity="0.999">
<path d="M167.34 71.00v9.0M167.34 385.00v-9.0M232.34 71.00v5.0M232.34 385.00v-5.0M297.34 71.00v9.0M297.34 385.00v-9.0M362.34 71.00v5.0M362.34 385.00v-5.0M427.34 71.00v9.0M427.34 385.00v-9.0M154.40 115.00h9M439.00 115.00h-9M154.40 214.40h9M439.00 214.40h-9M154.40 313.80h9M439.00 313.80h-9" stroke="#000" stroke-width="1.4" fill="none"/>
<rect x="154.40" y="71.00" width="284.60" height="314.00" fill="none" stroke="#000" stroke-width="1.5"/>
<text x="167.3" y="409.4" text-anchor="middle" font-size="29.0">0</text>
<text x="297.3" y="409.4" text-anchor="middle" font-size="29.0">10</text>
<text x="427.3" y="409.4" text-anchor="middle" font-size="29.0">20</text>
<path d="M508.63 71.00v9.0M508.63 385.00v-9.0M573.63 71.00v5.0M573.63 385.00v-5.0M638.63 71.00v9.0M638.63 385.00v-9.0M703.63 71.00v5.0M703.63 385.00v-5.0M768.63 71.00v9.0M768.63 385.00v-9.0M495.70 115.00h9M780.30 115.00h-9M495.70 214.40h9M780.30 214.40h-9M495.70 313.80h9M780.30 313.80h-9" stroke="#000" stroke-width="1.4" fill="none"/>
<rect x="495.70" y="71.00" width="284.60" height="314.00" fill="none" stroke="#000" stroke-width="1.5"/>
<text x="508.6" y="409.4" text-anchor="middle" font-size="29.0">0</text>
<text x="638.6" y="409.4" text-anchor="middle" font-size="29.0">10</text>
<text x="768.6" y="409.4" text-anchor="middle" font-size="29.0">20</text>
<path d="M849.93 71.00v9.0M849.93 385.00v-9.0M914.93 71.00v5.0M914.93 385.00v-5.0M979.93 71.00v9.0M979.93 385.00v-9.0M1044.93 71.00v5.0M1044.93 385.00v-5.0M1109.93 71.00v9.0M1109.93 385.00v-9.0M837.00 115.00h9M1121.70 115.00h-9M837.00 214.40h9M1121.70 214.40h-9M837.00 313.80h9M1121.70 313.80h-9" stroke="#000" stroke-width="1.4" fill="none"/>
<rect x="837.00" y="71.00" width="284.70" height="314.00" fill="none" stroke="#000" stroke-width="1.5"/>
<text x="849.9" y="409.4" text-anchor="middle" font-size="29.0">0</text>
<text x="979.9" y="409.4" text-anchor="middle" font-size="29.0">10</text>
<text x="1109.9" y="409.4" text-anchor="middle" font-size="29.0">20</text>
<text x="151.5" y="129.8" text-anchor="end" font-size="29.0">10<tspan dy="-20.2" font-size="20.3">0</tspan></text>
<text x="151.5" y="229.2" text-anchor="end" font-size="29.0">10<tspan dy="-20.2" font-size="20.3">−2</tspan></text>
<text x="151.5" y="328.6" text-anchor="end" font-size="29.0">10<tspan dy="-20.2" font-size="20.3">−4</tspan></text>
<path d="M167.34 600.50v9.0M167.34 914.50v-9.0M232.34 600.50v5.0M232.34 914.50v-5.0M297.34 600.50v9.0M297.34 914.50v-9.0M362.34 600.50v5.0M362.34 914.50v-5.0M427.34 600.50v9.0M427.34 914.50v-9.0M154.40 625.20h9M439.00 625.20h-9M154.40 738.30h9M439.00 738.30h-9M154.40 851.40h9M439.00 851.40h-9" stroke="#000" stroke-width="1.4" fill="none"/>
<rect x="154.40" y="600.50" width="284.60" height="314.00" fill="none" stroke="#000" stroke-width="1.5"/>
<text x="167.3" y="938.9" text-anchor="middle" font-size="29.0">0</text>
<text x="297.3" y="938.9" text-anchor="middle" font-size="29.0">10</text>
<text x="427.3" y="938.9" text-anchor="middle" font-size="29.0">20</text>
<path d="M508.63 600.50v9.0M508.63 914.50v-9.0M573.63 600.50v5.0M573.63 914.50v-5.0M638.63 600.50v9.0M638.63 914.50v-9.0M703.63 600.50v5.0M703.63 914.50v-5.0M768.63 600.50v9.0M768.63 914.50v-9.0M495.70 625.20h9M780.30 625.20h-9M495.70 738.30h9M780.30 738.30h-9M495.70 851.40h9M780.30 851.40h-9" stroke="#000" stroke-width="1.4" fill="none"/>
<rect x="495.70" y="600.50" width="284.60" height="314.00" fill="none" stroke="#000" stroke-width="1.5"/>
<text x="508.6" y="938.9" text-anchor="middle" font-size="29.0">0</text>
<text x="638.6" y="938.9" text-anchor="middle" font-size="29.0">10</text>
<text x="768.6" y="938.9" text-anchor="middle" font-size="29.0">20</text>
<path d="M849.93 600.50v9.0M849.93 914.50v-9.0M914.93 600.50v5.0M914.93 914.50v-5.0M979.93 600.50v9.0M979.93 914.50v-9.0M1044.93 600.50v5.0M1044.93 914.50v-5.0M1109.93 600.50v9.0M1109.93 914.50v-9.0M837.00 625.20h9M1121.70 625.20h-9M837.00 738.30h9M1121.70 738.30h-9M837.00 851.40h9M1121.70 851.40h-9" stroke="#000" stroke-width="1.4" fill="none"/>
<rect x="837.00" y="600.50" width="284.70" height="314.00" fill="none" stroke="#000" stroke-width="1.5"/>
<text x="849.9" y="938.9" text-anchor="middle" font-size="29.0">0</text>
<text x="979.9" y="938.9" text-anchor="middle" font-size="29.0">10</text>
<text x="1109.9" y="938.9" text-anchor="middle" font-size="29.0">20</text>
<text x="151.5" y="640.0" text-anchor="end" font-size="29.0">10<tspan dy="-20.2" font-size="20.3">0</tspan></text>
<text x="151.5" y="753.1" text-anchor="end" font-size="29.0">10<tspan dy="-20.2" font-size="20.3">−2</tspan></text>
<text x="151.5" y="866.2" text-anchor="end" font-size="29.0">10<tspan dy="-20.2" font-size="20.3">−4</tspan></text>
<text x="310.3" y="56.7" text-anchor="middle" font-size="29.0">5 Links</text>
<text x="622.2" y="56.7" text-anchor="middle" font-size="29.0">50 Links</text>
<text x="934.0" y="56.7" text-anchor="middle" font-size="29.0">500 Links</text>
<text x="622.5" y="441.1" text-anchor="middle" font-size="29.0">Time</text>
<rect x="293.9" y="474.7" width="58.1" height="20" fill="#0000ff" fill-opacity="0.5"/>
<text x="374.5" y="494.7" text-anchor="start" font-size="29.0">LGNN</text>
<rect x="514.7" y="474.7" width="57.8" height="20" fill="#ff0000" fill-opacity="0.5"/>
<text x="594.8" y="494.7" text-anchor="start" font-size="29.0">GNS</text>
<rect x="716.0" y="474.7" width="57.9" height="20" fill="#008000" fill-opacity="0.5"/>
<text x="796.1" y="494.7" text-anchor="start" font-size="29.0">LGN</text>
<text x="310.3" y="586.2" text-anchor="middle" font-size="29.0">5 Links</text>
<text x="622.2" y="586.2" text-anchor="middle" font-size="29.0">50 Links</text>
<text x="934.0" y="586.2" text-anchor="middle" font-size="29.0">500 Links</text>
<text x="622.5" y="970.6" text-anchor="middle" font-size="29.0">Time</text>
<rect x="293.9" y="1004.2" width="58.1" height="20" fill="#0000ff" fill-opacity="0.5"/>
<text x="374.5" y="1024.2" text-anchor="start" font-size="29.0">LGNN</text>
<rect x="514.7" y="1004.2" width="57.8" height="20" fill="#ff0000" fill-opacity="0.5"/>
<text x="594.8" y="1024.2" text-anchor="start" font-size="29.0">GNS</text>
<rect x="716.0" y="1004.2" width="57.9" height="20" fill="#008000" fill-opacity="0.5"/>
<text x="796.1" y="1024.2" text-anchor="start" font-size="29.0">LGN</text>
<text transform="translate(67.1,228.8) rotate(-90)" text-anchor="middle" font-size="29.0">Energy violation</text>
<text transform="translate(67.6,757.2) rotate(-90)" text-anchor="middle" font-size="29.0">Rollout error</text>
<text x="-1.4" y="21.3" text-anchor="start" font-size="29.0">(a)</text>
<text x="-1.4" y="550.9" text-anchor="start" font-size="29.0">(b)</text>
</g>
</svg>
</body></html>
